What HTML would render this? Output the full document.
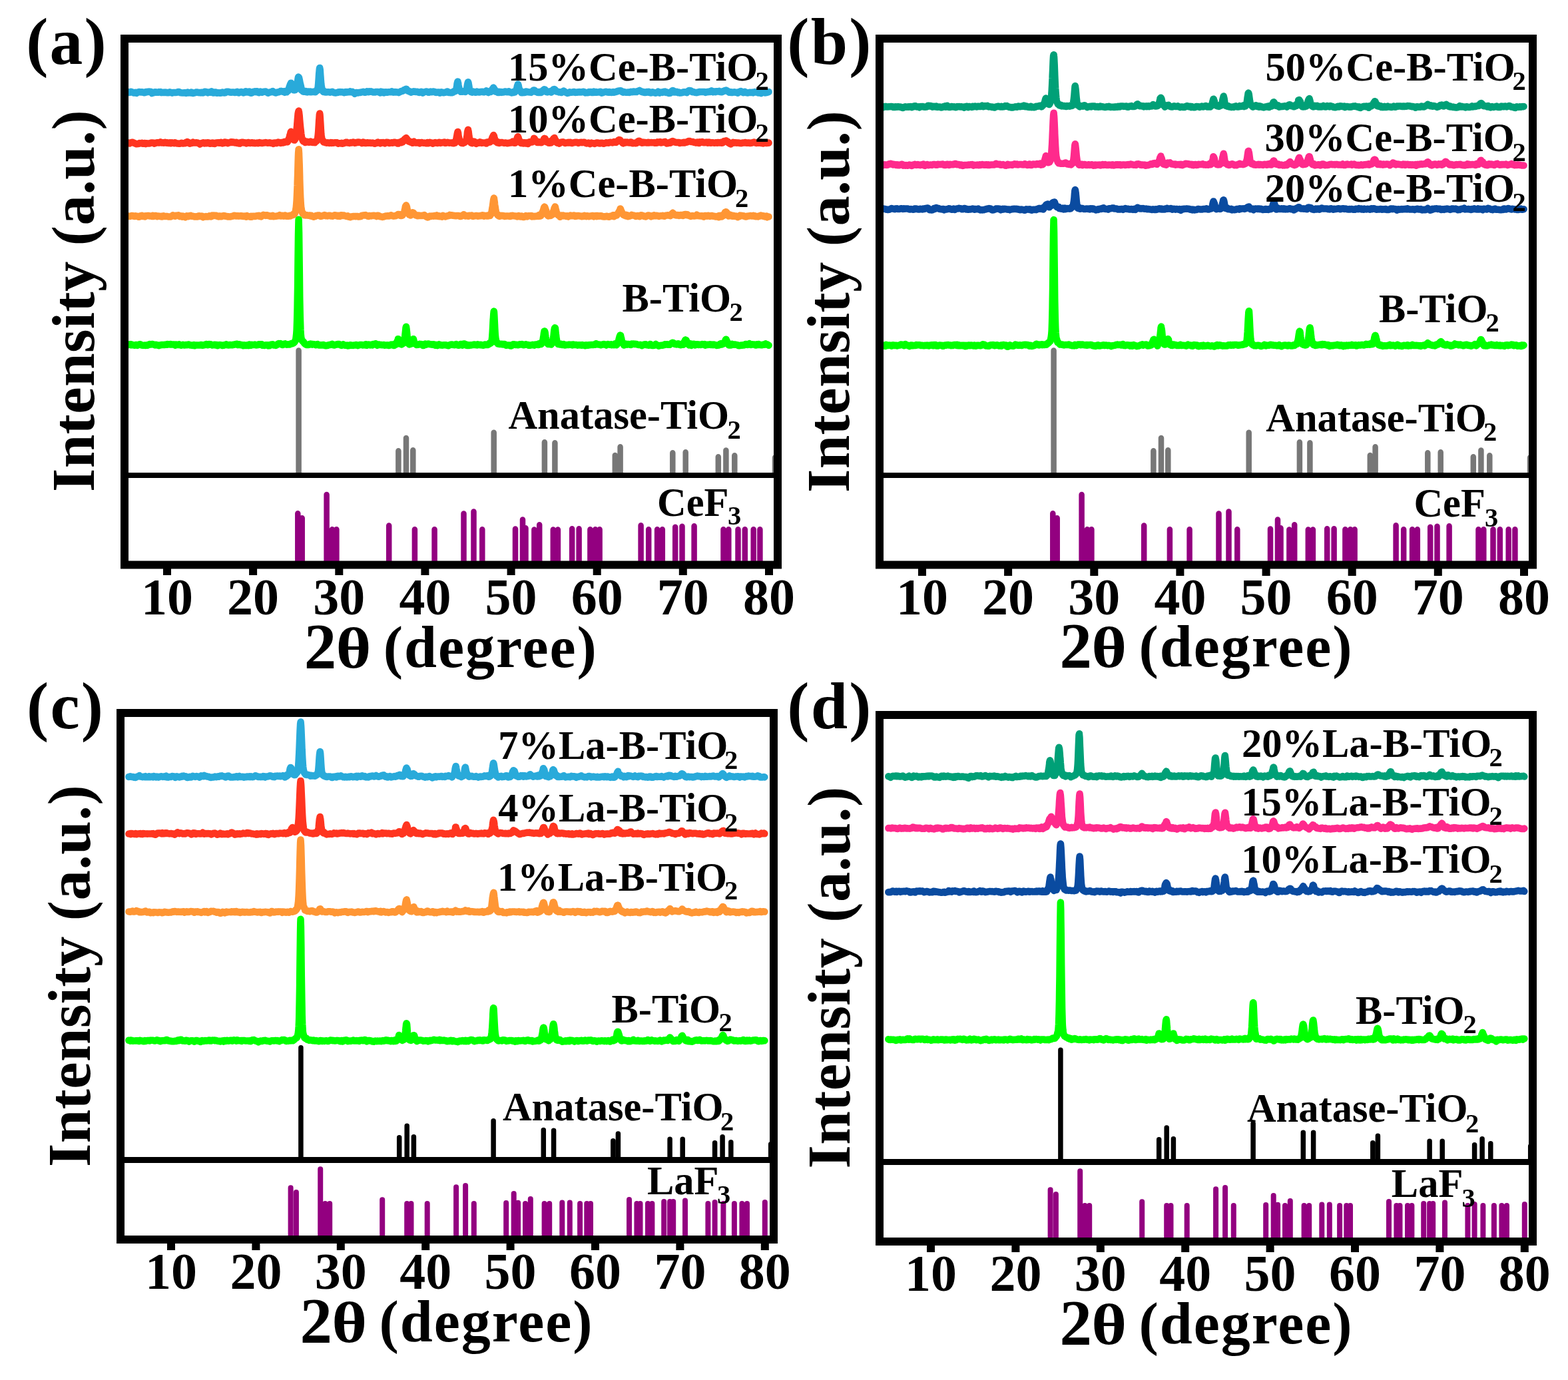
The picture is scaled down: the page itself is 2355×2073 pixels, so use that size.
<!DOCTYPE html>
<html><head><meta charset="utf-8"><title>XRD patterns</title>
<style>html,body{margin:0;padding:0;background:#fff;overflow:hidden}svg{display:block}
text{font-family:"Liberation Serif","Times New Roman",serif;fill:#000}</style></head>
<body><svg width="2355" height="2073" viewBox="0 0 2355 2073">
<rect width="2355" height="2073" fill="#fff"/>

<path d="M186.4 137.9l1.2 0.4l1.1 0.6l1.2 -0.4l1.1 -0.7l1.2 0.3l1.2 0.4l1.1 0.5l1.2 -0.8l1.2 -0.5l1.1 0.7l1.2 0.3l1.1 0.7l1.2 0.1l1.2 -0.4l1.1 -0.4l1.2 1.2l1.2 -0.7l1.1 -0.7l1.2 -0.5l1.1 0.2l1.2 0.2l1.2 -0.1l1.1 0l1.2 0.2l1.2 0.4l1.1 0.4l1.2 -0.2l1.1 -1.1l1.2 0.5l1.2 -0.7l1.1 0.2l1.2 -0.5l1.2 0.4l1.1 -0.2l1.2 0.5l1.1 1.8l1.2 -0.6l1.2 0l1.1 -1l1.2 -0.1l1.2 0.4l1.1 -0.1l1.2 0.1l1.1 0l1.2 -0.6l1.2 0.5l1.1 -0.5l1.2 1.1l1.2 -0.5l1.1 0.3l1.2 -0.2l1.1 0.3l1.2 -0.5l1.2 0.5l1.1 -0.3l1.2 0.5l1.1 -0l1.2 -0.2l1.2 -0.7l1.1 0.5l1.2 0.1l1.2 0.6l1.1 -0.6l1.2 0.1l1.1 -0l1.2 -0.1l1.2 -0.1l1.1 -0.1l1.2 -0.4l1.2 -0.5l1.1 0.1l1.2 0.5l1.1 0.7l1.2 0.2l1.2 0.2l1.1 -0.1l1.2 -0l1.2 -0.3l1.1 0.1l1.2 0.6l1.1 -0.7l1.2 -0.6l1.2 0.9l1.1 -0.3l1.2 0.2l1.2 0.1l1.1 -1l1.2 1.2l1.1 0.4l1.2 -0.5l1.2 -0.1l1.1 -0.3l1.2 -0.7l1.2 -0.1l1.1 0.2l1.2 0.5l1.1 0.1l1.2 -0.2l1.2 0.5l1.1 -0.8l1.2 0.3l1.2 0.4l1.1 -0.5l1.2 -1.1l1.1 -0.1l1.2 0.4l1.2 0.4l1.1 0.8l1.2 -0.8l1.1 -0l1.2 0.3l1.2 -0.2l1.1 -1.2l1.2 0.8l1.2 1.3l1.1 0.1l1.2 -0.9l1.1 -0.3l1.2 0.2l1.2 1.2l1.1 -0.2l1.2 -0.4l1.2 0.5l1.1 -0.5l1.2 0.6l1.1 -0.8l1.2 -0.5l1.2 0.4l1.1 0.5l1.2 -0l1.2 -0.2l1.1 -1.2l1.2 -0.2l1.1 0l1.2 0l1.2 0.6l1.1 -0.1l1.2 0.5l1.2 -0.1l1.1 -0.3l1.2 0.1l1.1 0.2l1.2 0.4l1.2 -0.5l1.1 -0.2l1.2 -0.6l1.2 1.1l1.1 0.5l1.2 -0.4l1.1 -0.5l1.2 -0.6l1.2 0.3l1.1 0.2l1.2 1.1l1.2 -0.3l1.1 -0.6l1.2 -1.3l1.1 1.2l1.2 0.1l1.2 -0.9l1.1 0.4l1.2 -0.6l1.1 2.1l1.2 0.1l1.2 -0.2l1.1 -0.5l1.2 -1.3l1.2 0.3l1.1 -0.6l1.2 0.7l1.1 -0.9l1.2 0.1l1.2 1.1l1.1 0.8l1.2 -0.9l1.2 -0.7l1.1 0.8l1.2 0.4l1.1 -0.6l1.2 -0.2l1.2 -0.2l1.1 -0.3l1.2 0l1.2 1l1.1 0.3l1.2 0.9l1.1 -0.5l1.2 -0.4l1.2 -0.6l1.1 -0l1.2 -0.6l1.2 -0.6l1.1 0.9l1.2 0.9l1.1 0.3l1.2 0.4l1.2 -0.4l1.1 -0.6l1.2 -0.1l1.2 -0.2l1.1 -0.5l1.2 -0.7l1.1 -0.2l1.2 0.5l1.2 0.4l1.1 -0.1l0.9 0.8l0.3 -0.1l0.2 0.2l0.5 0.4l0.5 -0.9l0.1 -1l0.5 0.7l0.5 -0.4l0 0.8l0.5 -0l0.5 0.2l0.2 0l0.3 -1.4l0.6 0.3l0.2 -0.5l0.3 -0.4l0.5 -0.4l0.4 0.1l0.1 0.3l0.5 -0.6l0.5 -2.3l0.1 -0.2l0.5 -2.4l0.5 -1.2l0.1 0.1l0.4 -1.6l0.5 -1.4l0.3 -0.6l0.2 0l0.4 -0.9l0.1 -0.4l0.3 0l0.1 1.4l0.2 0.6l0.2 0.2l0.3 0.7l0.2 0.8l0.3 0.9l0 -0.1l0.3 0.6l0.2 0.3l0.3 0.8l0.2 1.8l0.2 0.5l0.1 0.1l0.2 0.3l0.3 0.6l0.3 0.5l0.2 -0.1l0 0.2l0.3 0.4l0.2 -0.2l0.3 -0.2l0.3 -0.2l0.1 -0.2l0.1 0.9l0.3 -1.2l0.2 0.3l0.3 -0.1l0.2 -0.1l0.1 0.3l0.2 0.5l0.3 -0.5l0.2 -0.6l0.3 -0.8l0.1 -0.3l0.1 0.2l0.3 -1l0.3 -1.5l0.2 -1.3l0.3 -1.3l-0 -0.3l0.2 0l0.3 -1l0.2 -1.5l0.3 -0.7l0.1 -1.4l0.1 -0.2l0.3 -1.3l0.5 -3.6l0.3 -1.6l0.3 -0.8l0.4 0.5l0.1 0.7l0.4 -0.1l0.1 1l0.5 1.9l0.5 2.6l0 -0.1l0.5 2.8l0.6 2l0.1 0.6l0.4 1.5l0.5 2.7l0.3 2.1l0.2 1.8l0.5 0.2l0.4 -0.6l0.1 0.1l0.6 0.2l0.5 1.7l-0 0.1l0.5 -0.4l0.5 0.7l0.1 0.1l0.4 -0.9l0.5 0l0.3 0.2l0.3 0.2l0.5 0.3l0.4 -0.1l0.1 0.2l0.5 -0.2l0.5 -0.3l0 1l1.2 0.2l1.2 0.1l1.1 -1l1.2 0.2l1.1 0.6l1.2 -0.7l1.2 0.7l1.1 -0.3l1.2 0.1l1.2 -0.2l1.1 -0.1l0.7 0.5l0.5 -0.6l0.1 0.7l0.5 -1l0.5 -0.7l0 0.5l0.5 -0.9l0.5 -0.4l0.2 0.5l0.3 0.1l0.6 -2.3l0.3 -0.6l0.2 0.1l0.5 -2.9l0.4 -4.6l0.1 -1.3l0.5 -6.7l0.5 -8.1l0.1 -0.6l0.5 -5.5l0.4 -2l0.1 0.8l0.2 0.4l0.3 2.2l0.5 7.8l0.3 3.9l0.2 2.8l0.5 6.2l0.5 3.7l0.1 0.2l0.5 2.9l0.5 2.9l0 -0.4l0.5 0.6l0.5 1.1l0.2 0.3l0.3 0.4l0.6 0.3l0.3 -1.2l0.2 -0.2l0.5 0.5l0.4 0.5l1.2 0.9l1.1 0.1l1.2 -0.3l1.2 0l1.1 -0.1l1.2 0.2l1.2 0.3l1.1 -0.3l1.2 -0.4l1.1 -0.3l1.2 0.8l1.2 0.6l1.1 0.2l1.2 0.1l1.2 0l1.1 -0.4l1.2 0.1l1.1 -0.8l1.2 -0l1.2 -0.3l1.1 0.5l1.2 -0.3l1.2 0l1.1 0.3l1.2 0.7l1.1 -0.7l1.2 -0.5l1.2 0.6l1.1 -0.6l1.2 0.4l1.2 -0.3l1.1 0.1l1.2 -0.8l1.1 0.8l1.2 -0.1l1.2 -0.3l1.1 1.3l1.2 0.1l1.2 1.5l1.1 -0.7l1.2 -0.8l1.1 -0.2l1.2 0.6l1.2 -0.5l1.1 -0l1.2 0l1.2 -0.7l1.1 0.1l1.2 -0.3l1.1 -0.5l1.2 0.8l1.2 0.3l1.1 -0.1l1.2 -0.5l1.1 -0.9l1.2 0.7l1.2 0.2l1.1 -0.8l1.2 0.4l1.2 -0.5l1.1 0.5l1.2 0.3l1.1 0.4l1.2 0.1l1.2 0l1.1 -0.6l1.2 -0l1.2 -0.1l1.1 0.1l1.2 0.3l1.1 0.4l1.2 0.7l1.2 -1.7l1.1 0.4l1.2 -0.1l1.2 1.3l1.1 0.1l1.2 -1.2l1.1 0.3l1.2 -0.2l1.2 0.5l1.1 -0.6l1.2 0l1.2 0.1l1.1 -0l1.2 -0.2l1.1 -0.8l1.2 0.7l1.2 0.7l1.1 -0.2l1.2 -0.5l1.2 0.3l1.1 0.3l1.2 -0.2l1.1 -0l1.2 0.7l1.2 -0.9l1.1 -0.3l1.2 -0.9l1.2 -0l1.1 -0.3l1.2 -0.7l1.1 -1l1.2 -0l1.2 -1.3l1.1 -0l1.2 2.2l1.1 0.9l1.2 -0.1l1.2 1l1.1 -0.2l1.2 1.2l1.2 -0.8l1.1 -0.1l1.2 -0.5l1.1 0.5l1.2 -0.3l1.2 0.4l1.1 -0l1.2 -0.1l1.2 0.7l1.1 0.5l1.2 -0.2l1.1 -0.6l1.2 -0.4l1.2 0.4l1.1 1.3l1.2 -0.6l1.2 -0.6l1.1 -0.3l1.2 -0.3l1.1 -0.2l1.2 0.3l1.2 1l1.1 -0.1l1.2 -0.4l1.2 -0.7l1.1 0.4l1.2 0.2l1.1 -0.5l1.2 -0.2l1.2 0.3l1.1 0.8l1.2 0.3l1.2 -0.1l1.1 -0.3l1.2 0.1l1.1 -0l1.2 1l1.2 -1l1.1 -0.3l1.2 0.7l1.2 -0.3l1.1 0.6l1.2 -0.4l1.1 -0.1l1.2 -0.4l1.2 -0.7l1.1 -0.2l1.2 1.4l1.1 0.1l1.2 0l1.2 0.2l1.1 -0.1l1.2 0.1l1.1 -0.7l0.1 -0.3l0.4 0.4l0.5 -0.5l0.2 -0.8l0.4 0.1l0.5 -0.2l0.3 0.4l0.2 -0.5l0.5 -0.6l0.4 -0.3l0.1 0.9l0.5 -1l0.6 -1.4l0 -0.2l0.5 -1.9l0.5 -2.5l0.2 -0.7l0.3 -3.4l0.5 -2.1l0.3 -1.1l0.2 -0.4l0 1.2l0.6 1.1l0.4 3.3l0.1 0.4l0.5 2.2l0.5 2.9l0.1 0.4l0.4 1.3l0.5 -0l0.2 0.5l0.4 0.6l0.5 0l0.3 1.5l0.2 -0.2l0.5 -0.1l0.4 -0l0.1 -0.3l0.5 -0.1l0.6 0.3l0 0.4l1.2 -0.2l0.3 0l0.5 -0.6l0.3 0.6l0.2 -0.3l0.6 0.2l0.4 -0.4l0.1 -0.1l0.5 0.2l0.5 -0.7l0.1 1.5l0.4 -0.7l0.5 -1l0.2 -0.8l0.4 0.1l0.5 -1.5l0.3 -1.7l0.2 -2.1l0.5 -3.1l0.4 -1.8l0.1 -0.6l0.5 -1.3l0 -0.3l0.6 1.5l0 0.6l0.5 2.5l0.5 3.1l0.2 2.5l0.3 1.9l0.5 0.5l0.3 0.7l0.2 0.2l0.6 0.5l0.4 0.8l0.1 -0.4l0.5 0l0.5 -0l0.1 0l0.4 0.8l0.5 0.3l0.2 -0.9l0.4 -0.1l0.8 -0.2l1.1 0.7l1.2 0.2l1.2 0.4l1.1 -0.2l1.2 -1l1.2 0.5l1.1 0.2l1.2 0.3l1.1 -0.7l1.2 0.2l1.2 -0.2l1.1 -0.2l1.2 0.5l1.2 0.2l1.1 -0.5l1.2 -0.7l1.1 -0.8l0.5 0.5l0.5 1.1l0.2 0.1l0.4 -1.1l0.5 0.1l0.3 0.6l0.2 1.1l0.5 0.3l0.4 -0.2l0.1 -0.2l0.5 -0.8l0.6 -0.2l-0 -0l0.5 -0.4l0.5 0.2l0.1 -0.1l0.4 0.1l0.5 0.5l0.3 -0.1l0.2 -0.3l0.6 -1l0.4 -1.4l0.1 -0l0.5 -0.4l0.5 -1.4l0 0.8l0.5 -1.1l0.5 -0.5l0.2 -0.3l0.3 -0.7l0.1 1.3l0.5 -0.5l0.3 0.9l0.2 -0l0.5 1l0.4 0.3l0.1 0.1l0.5 1.4l0.6 1.6l-0 -0.9l0.5 0.4l0.5 0.8l0.1 -0.4l0.4 0.5l0.5 -0.4l0.3 0.5l0.2 0.1l0.6 0.6l0.4 -0.1l0.1 -0.9l0.5 0.5l0.5 -0.6l0 0.5l0.5 0.8l0.5 -0l0.2 -0.6l0.4 0.5l0.5 -0.2l0.3 -0.8l1.1 -0l1.2 0.9l1.1 -0.4l1.2 0l1.2 -0.2l1.1 -0.8l1.2 0.1l1.2 0.5l1.1 0.2l1.2 -0l1.1 -1.1l1.2 1.1l1.2 0.4l1.1 0.3l1.2 0.4l1.2 -0.7l0.8 -0.6l0.3 0.2l0.2 0.8l0.5 -1.3l0.5 -0l0.1 -0.3l0.5 0.4l0.5 0.6l0 -0.4l0.5 -0.9l0.5 -0.2l0.2 -0.2l0.3 -1l0.6 -0.2l0.3 -1l0.2 -0.2l0.5 -2.8l0.4 -1.2l0.1 -1.1l0.5 -1.2l0.5 -1.6l0 1l0.1 -0.2l0.5 0.3l0.5 2.4l0.2 1.2l0.3 1.1l0.5 1.8l0.3 1.3l0.2 0.4l0.5 -0.6l0.5 0.9l0.1 0.8l0.5 0.6l0.5 0.8l0 -0.5l0.5 1.4l0.5 -0l0.2 -0.3l0.3 0.2l0.6 0.2l0.3 -0.4l1.1 -0.5l1.2 0.5l1.2 -0l1.1 -1.2l1.2 -0.3l1.1 0.6l1.2 0.2l1.2 0.1l1.1 0.3l1.2 -0.1l1.1 0.4l1.2 -1.1l1.2 -1.1l1.1 -1l1.2 -0.3l1.2 0.9l1.1 1.5l1.2 0.2l1.1 0.8l1.2 0.1l1.2 -0.8l1.1 -0l1.2 1l1.2 -0.1l1.1 -0.9l1.2 -2l1.1 -1l1.2 -0.9l1.2 0.6l1.1 2.4l1.2 1l1.2 0.3l1.1 -0.5l1.2 -0.6l1.1 0.2l1.2 -0.2l1.2 1.3l1.1 -1.5l1.2 -2l1.2 -0.9l1.1 -0.3l1.2 0.7l1.1 2.3l1.2 0.6l1.2 -0.2l1.1 0.6l1.2 0.4l1.2 -0.2l1.1 0.4l1.2 0.4l1.1 -0.7l1.2 -1l1.2 -0.7l1.1 0.7l1.2 1.1l1.2 0.5l1.1 0.5l1.2 0.6l1.1 -0.6l1.2 0.1l1.2 -1.1l1.1 0.3l1.2 0.1l1.1 -0.2l1.2 -0.2l1.2 -0.5l1.1 0.3l1.2 0.7l1.2 -0.3l1.1 0.2l1.2 -0.5l1.1 0.2l1.2 -0.5l1.2 0.4l1.1 -0.1l1.2 0.2l1.2 -0.3l1.1 -0.5l1.2 0.2l1.1 0.7l1.2 0.8l1.2 -0.5l1.1 0.2l1.2 0.1l1.2 -0.1l1.1 -1l1.2 0.3l1.1 -0.4l1.2 0.8l1.2 0.3l1.1 0l1.2 -1.5l1.2 0.7l1.1 0.4l1.2 -0.7l1.1 0.7l1.2 -0.1l1.2 -0.1l1.1 -0.4l1.2 -0.3l1.2 0l1.1 1.8l1.2 -0.3l1.1 -0.2l1.2 -0.6l1.2 -0.3l1.1 -0.2l1.2 -0.2l1.2 0.7l1.1 -0.2l1.2 0.5l1.1 -0.7l1.2 0.6l1.2 -0.1l1.1 0.3l1.2 -0.3l1.1 -0.5l1.2 0.7l1.2 -0.4l1.1 -0.2l1.2 -0.6l1.2 -0.1l1.1 -0.7l1.2 -0.3l1.1 -0.1l1.2 -0.1l1.2 -0l1.1 1.1l1.2 0.9l1.2 0.4l1.1 -0.6l1.2 0.4l1.1 0.2l1.2 0l1.2 0.1l1.1 -0.3l1.2 0.1l1.2 0.4l1.1 -0.5l1.2 -0.7l1.1 0.2l1.2 0.3l1.2 -0.9l1.1 0l1.2 0.7l1.2 -0l1.1 -0l1.2 -1l1.1 -0.2l1.2 -0.4l1.2 -0.6l1.1 0.7l1.2 0.5l1.2 1.1l1.1 0.2l1.2 -0.4l1.1 0.8l1.2 0.3l1.2 0l1.1 -1.1l1.2 0.1l1.2 0.5l1.1 -0.7l1.2 0.7l1.1 0.7l1.2 0.2l1.2 -0.8l1.1 -0.4l1.2 0.5l1.1 0.4l1.2 0.3l1.2 0.2l1.1 -0.5l1.2 -0.5l1.2 -1l1.1 0.7l1.2 1.2l1.1 -0.7l1.2 -0.4l1.2 0.3l1.1 0.1l1.2 -0.9l1.2 -0.2l1.1 -0.3l1.2 1.4l1.1 -0.6l1.2 0.5l1.2 0.8l1.1 0.4l1.2 -0.1l1.2 -0.2l1.1 -1.9l1.2 -1.1l1.1 -0.7l1.2 0.4l1.2 2.2l1.1 -0.8l1.2 0.6l1.2 -0.6l1.1 0.9l1.2 0.6l1.1 -0.6l1.2 0.9l1.2 -0.4l1.1 0.3l1.2 -0.3l1.2 -0.6l1.1 -0.3l1.2 -0l1.1 0.3l1.2 -0.2l1.2 0.8l1.1 -1.1l1.2 -1.3l1.1 -0.8l1.2 0.1l1.2 0.2l1.1 0.5l1.2 1.2l1.2 0.2l1.1 0l1.2 0.3l1.1 0.5l1.2 0.1l1.2 0.1l1.1 -0.5l1.2 -0.2l1.2 -0.4l1.1 0.1l1.2 -0.3l1.1 0.1l1.2 0.1l1.2 0l1.1 0l1.2 -0.1l1.2 0.9l1.1 -0.3l1.2 -0.6l1.1 0.3l1.2 -0.5l1.2 -0.2l1.1 0.4l1.2 -0.6l1.2 -1.2l1.1 1.1l1.2 1l1.1 -0.8l1.2 -0l1.2 0.7l1.1 -0.9l1.2 0l1.2 -0.1l1.1 0.4l1.2 -0.7l1.1 1.1l1.2 0.1l1.2 0.2l1.1 -0.2l1.2 -1.1l1.2 0l1.1 -0.9l1.2 -0.3l1.1 -0.3l1.2 0.7l1.2 0.8l1.1 1.1l1.2 0.6l1.1 -0.6l1.2 0.2l1.2 0.8l1.1 -0l1.2 -0.6l1.2 -0.1l1.1 -0.1l1.2 0.5l1.1 -0.1l1.2 0.1l1.2 1l1.1 -1.2l1.2 -0.6l1.2 -0.6l1.1 -0.4l1.2 1l1.1 0.4l1.2 0.8l1.2 -1.2l1.1 -0.3l1.2 1.1l1.2 0.4l1.1 0.2l1.2 0l1.1 -0.3l1.2 -0.2l1.2 -0.2l1.1 0.4l1.2 -0.3l1.2 0l1.1 0.6l1.2 -0.9l1.1 -0.4l1.2 0.5l1.2 -0.2l1.1 -0l1.2 1.1l1.2 -0.2l1.1 -0.5l1.2 0.4l1.1 1l1.2 -1.2l1.2 -0.6l1.1 0.1l1.2 -0.3l1.2 1.2l1.1 -0.1l1.2 -0.5l1.1 0.1l1.2 -0.5l1.2 -0.3" fill="none" stroke="#29aada" stroke-width="10.5" stroke-linejoin="round" stroke-linecap="round"/>
<path d="M186.4 213.9l1.2 0.4l1.1 -0l1.2 -0.1l1.1 0.6l1.2 -0l1.2 -0.2l1.1 0.9l1.2 -0.6l1.2 -0.7l1.1 -0.5l1.2 0.1l1.1 0.6l1.2 0.5l1.2 0.5l1.1 0.6l1.2 0.3l1.2 -0.3l1.1 0.1l1.2 -0.2l1.1 -0.8l1.2 0.2l1.2 -0.2l1.1 -0.3l1.2 1l1.2 -0.1l1.1 -0.6l1.2 -0.2l1.1 1.1l1.2 -0.7l1.2 0.2l1.1 -0l1.2 -0.1l1.2 0l1.1 -0.5l1.2 -0.3l1.1 -0.1l1.2 -0.1l1.2 0.5l1.1 0.7l1.2 -0.8l1.2 0.2l1.1 -0.6l1.2 -0.2l1.1 0.1l1.2 0.2l1.2 -0.2l1.1 -1.1l1.2 1.3l1.2 -0.1l1.1 -0.2l1.2 0.5l1.1 -0.3l1.2 -0.6l1.2 0.6l1.1 0.3l1.2 -0.4l1.1 0.6l1.2 0.1l1.2 -0.7l1.1 1l1.2 -0.1l1.2 -0.8l1.1 0.4l1.2 -0l1.1 0.4l1.2 -0.9l1.2 0.7l1.1 0.4l1.2 0l1.2 0l1.1 0.4l1.2 -0.1l1.1 -0.3l1.2 -0.7l1.2 0.5l1.1 0.3l1.2 -0.2l1.2 -0.1l1.1 0.1l1.2 -1.5l1.1 0.5l1.2 -1.1l1.2 0.7l1.1 0.9l1.2 0.9l1.2 -0.7l1.1 0.1l1.2 -0.2l1.1 -1.2l1.2 0.8l1.2 0l1.1 0.1l1.2 -0.4l1.2 0.2l1.1 0.1l1.2 0.7l1.1 -0l1.2 1.5l1.2 -1l1.1 -0.5l1.2 -0.3l1.2 -0.5l1.1 0.9l1.2 0.1l1.1 -1l1.2 0.2l1.2 0.6l1.1 -0.9l1.2 0.2l1.1 -0l1.2 1.2l1.2 -0.2l1.1 -0.5l1.2 -0.4l1.2 1l1.1 -0.6l1.2 1l1.1 -1.3l1.2 -0.1l1.2 -0.1l1.1 -0.3l1.2 0.1l1.2 0.5l1.1 -0.4l1.2 -0.6l1.1 1l1.2 0.7l1.2 -0.7l1.1 0.1l1.2 -1.4l1.2 1l1.1 -0.6l1.2 0l1.1 1.4l1.2 -0.9l1.2 0.1l1.1 -0.5l1.2 -0.7l1.2 -0l1.1 0.7l1.2 -0.4l1.1 0.1l1.2 0.8l1.2 -0l1.1 -0.6l1.2 1l1.2 -0l1.1 0.6l1.2 -0.9l1.1 0.9l1.2 -1l1.2 -0.8l1.1 0.1l1.2 0.2l1.2 0.4l1.1 -0.2l1.2 0.5l1.1 0.7l1.2 -0.7l1.2 -0.7l1.1 0.1l1.2 0.6l1.1 0.4l1.2 -0.4l1.2 -0.5l1.1 0.2l1.2 0.6l1.2 -0.5l1.1 0.7l1.2 -0.1l1.1 -0.1l1.2 -0.4l1.2 0.7l1.1 -0.3l1.2 -0.9l1.2 0.6l1.1 -0.2l1.2 0.6l1.1 -0.1l1.2 -0.5l1.2 0.1l1.1 -0.2l1.2 -0.4l1.2 0.3l1.1 0.5l1.2 -0.1l1.1 -0.1l1.2 -0.3l1.2 0.4l1.1 0.1l1.2 0.3l1.2 -0l1.1 0.8l1.2 -1.4l1.1 -0l1.2 0.2l1.2 0.4l1.1 -1.1l1.2 -0.5l1.2 0.3l1.1 0.7l1.2 0.5l1.1 -1.1l1.2 0.1l1.2 0.6l1.1 -0.2l0.9 -0.8l0.3 -0.2l0.2 -0.5l0.5 0.9l0.5 -0.1l0.1 -0.2l0.5 -0.4l0.5 0.1l0 -0.3l0.5 -0.3l0.5 0.2l0.2 0l0.3 0.3l0.6 -0.2l0.2 0.4l0.3 -0.4l0.5 -0.6l0.4 -0.6l0.1 -0.7l0.5 -0.4l0.5 -1.9l0.1 -0.9l0.5 -0.8l0.5 -1.8l0.1 -1.2l0.4 -1.1l0.5 -1.8l0.3 -0.9l0.2 -1.5l0.4 -0.3l0.1 -0.6l0.3 0.2l0.1 0.2l0.2 0.1l0.2 1.3l0.3 0.6l0.2 1.6l0.3 1l0 -0.2l0.3 1.2l0.2 1.3l0.3 1.4l0.2 0.4l0.2 1.2l0.1 0.2l0.2 0.9l0.3 -0.6l0.3 -0.2l0.2 1.2l0 -0.2l0.3 0.4l0.2 0.6l0.3 -0.9l0.3 0.3l0.1 0.8l0.1 -0l0.3 -0.6l0.2 -0.3l0.3 -0.7l0.2 -0.3l0.1 0.4l0.2 -1.2l0.3 -0.7l0.2 -1.2l0.3 -0.9l0.1 -0.7l0.1 -1.5l0.3 -1l0.3 -1.7l0.2 -2.9l0.3 -2.5l-0 -0.8l0.2 -2.1l0.3 -2.5l0.2 -3.3l0.3 -3.3l0.1 -1.9l0.1 -1.2l0.3 -3.2l0.5 -5.7l0.3 -1.5l0.3 -1.5l0.4 -1.2l0.1 0.8l0.4 1.2l0.1 1.3l0.5 4l0.5 6.9l0 -0.3l0.5 5.6l0.6 6.2l0.1 0.9l0.4 3.3l0.5 4.6l0.3 1.7l0.2 1.8l0.5 2.5l0.4 1.5l0.1 0.3l0.6 1.5l0.5 0.7l-0 0.4l0.5 0.8l0.5 -0.9l0.1 -0.6l0.4 1.5l0.5 -0l0.3 0.3l0.3 0l0.5 0.3l0.4 1.2l0.1 -0.8l0.5 0.1l0.5 -0l0 -0.6l1.2 -0.1l1.2 0.3l1.1 0.4l1.2 0.4l1.1 -1l1.2 -0.3l1.2 1.3l1.1 -0.1l1.2 0.4l1.2 -0.4l1.1 -0.6l0.7 1.1l0.5 -1.1l0.1 -0.5l0.5 0.4l0.5 -0.3l0 -0.8l0.5 0l0.5 0.1l0.2 -1.1l0.3 -0.5l0.6 -0.6l0.3 -0.3l0.2 -2.6l0.5 -3.9l0.4 -4.6l0.1 -1.3l0.5 -8.1l0.5 -9l0.1 -0.3l0.5 -7.3l0.4 -1.9l0.1 0.5l0.2 1.1l0.3 4.1l0.5 7.8l0.3 5.3l0.2 3.8l0.5 7.8l0.5 4.6l0.1 -0l0.5 2.9l0.5 1.3l0 0.2l0.5 0.7l0.5 0.8l0.2 0.3l0.3 0.9l0.6 0.8l0.3 -0.1l0.2 -0.6l0.5 0.4l0.4 0.4l1.2 0.7l1.1 0.1l1.2 0.4l1.2 -0.5l1.1 0.4l1.2 0.3l1.2 -0.4l1.1 -0.4l1.2 0.8l1.1 -0.7l1.2 0.5l1.2 -0.2l1.1 -0.2l1.2 -0l1.2 -0.1l1.1 0.1l1.2 1l1.1 0.4l1.2 -0.5l1.2 -0l1.1 0.2l1.2 -0.5l1.2 0.8l1.1 -0.5l1.2 0.1l1.1 -0.8l1.2 -0.5l1.2 -0.3l1.1 0.1l1.2 0.8l1.2 -0.1l1.1 0.5l1.2 -0.4l1.1 -0.5l1.2 0.3l1.2 -0.1l1.1 -0.7l1.2 0.4l1.2 0.9l1.1 -0.2l1.2 -0.7l1.1 -0.1l1.2 -0.3l1.2 0.3l1.1 -0.2l1.2 0.3l1.2 0.3l1.1 0.8l1.2 -0.8l1.1 -0.9l1.2 1.3l1.2 0.2l1.1 -0.3l1.2 0.3l1.1 -0.6l1.2 -0l1.2 0.5l1.1 -0.3l1.2 0.1l1.2 0.3l1.1 -0.1l1.2 -0.2l1.1 0.3l1.2 0.5l1.2 0.4l1.1 -0.9l1.2 0.2l1.2 -1.1l1.1 -0.5l1.2 0.7l1.1 0.4l1.2 0.7l1.2 -1.2l1.1 0.6l1.2 -0.5l1.2 -0.2l1.1 0.5l1.2 0.8l1.1 -0.7l1.2 -0.9l1.2 0.1l1.1 0.2l1.2 0.9l1.2 0l1.1 -0.3l1.2 -0.2l1.1 -0.2l1.2 0.6l1.2 -0.9l1.1 -0.1l1.2 -0.1l1.2 0.9l1.1 -0l1.2 -0.4l1 0.5l0.1 0.9l0.4 0l0.5 -1.1l0.3 -0.2l0.3 0.6l0.5 -1.1l0.4 -0.4l0.1 0.2l0.5 0.5l0.5 -0.3l0.5 0.2l0.6 -0l0.1 0.2l0.4 -0.7l0.5 -1l0.3 -0.5l0.2 0.8l0.5 0.7l0.4 0.1l0.1 -0.9l0.6 -1l0.5 -0.1l0.5 -0.6l0.5 -1.3l0.1 0.1l0.4 -0.5l0.5 -0.5l0.3 0l0.3 -0.2l0.5 -0.6l0.4 -0.2l0.1 -0.3l0.4 -0.3l0.1 -0.1l0.5 1l0.5 0.3l0.6 1.2l0.1 0.8l0.4 1.1l0.5 -0.8l0.2 0.5l0.3 0.9l0.5 0.2l0.4 0.1l0.1 -0.5l0.6 0.4l0.5 0.7l0.5 -0.5l0.5 0.7l0.1 -0.1l0.4 0.4l0.5 -0.2l0.3 0.4l0.3 0.3l0.5 -0.2l0.4 -0.1l0.1 0.7l0.5 0.3l0.5 -0.5l0.5 0.3l0.6 -0.6l0.1 -0.1l0.4 -1.2l0.5 0.5l0.2 0.9l1.2 -0.1l1.2 0.6l1.1 -0.3l1.2 0.3l1.2 -0.1l1.1 -0.4l1.2 1.3l1.1 -0.7l1.2 -0.7l1.2 0.3l1.1 0.4l1.2 0.2l1.2 -0.2l1.1 0.3l1.2 0.3l1.1 0.1l1.2 -1l1.2 1l1.1 -0.3l1.2 -1.2l1.2 0.7l1.1 -0l1.2 0.2l1.1 0.9l1.2 -0.7l1.2 -0.4l1.1 -0.5l1.2 0.3l1.2 0.5l1.1 0.1l1.2 -0.1l1.1 -1.1l1.2 0.5l1.2 0.7l1.1 -0.4l1.2 -0.2l1.2 -0.4l1.1 0.4l1.2 -0.7l1.1 1.3l1.2 -0.2l1.2 -0.4l1.1 -0.5l1.2 0.5l1.1 0.5l1.2 -0.4l1.2 0.1l1.1 0l1.2 0.4l1.1 -0.1l0.1 0.4l0.4 -1.2l0.5 1.3l0.2 -0.8l0.4 -0.8l0.5 -0.5l0.3 0.3l0.2 0.4l0.5 0.8l0.4 -0.3l0.1 -1.1l0.5 -1.2l0.6 -1.7l0 -0.4l0.5 -1.9l0.5 -3.1l0.2 -0.4l0.3 -2.1l0.5 -2.7l0.3 -1.1l0.2 -0.8l0 0.4l0.6 1.5l0.4 3.7l0.1 0.8l0.5 2.2l0.5 2.2l0.1 0.1l0.4 1.8l0.5 1.9l0.2 0.1l0.4 0.6l0.5 0.1l0.3 0l0.2 0.8l0.5 -0.1l0.4 0.9l0.1 -0.5l0.5 0l0.6 0l0 0.1l1.2 0.7l0.3 -0.9l0.5 -0.5l0.3 -0.5l0.2 1.1l0.6 -0.1l0.4 -0.2l0.1 0l0.5 -1.4l0.5 0.3l0.1 0l0.4 -0.4l0.5 -1l0.2 -0.6l0.4 -1.2l0.5 -2.9l0.3 -2l0.2 -1l0.5 -5.1l0.4 -2.2l0.1 -0l0.5 -1.8l0 0.5l0.6 2.1l0 -0l0.5 4.3l0.5 3.7l0.2 1l0.3 1.2l0.5 3.6l0.3 0.7l0.2 0.5l0.6 0.5l0.4 1.4l0.1 -0.5l0.5 0.9l0.5 0.2l0.1 0l0.4 -0l0.5 0.3l0.2 -0.5l0.4 -1.3l0.8 -1l1.1 1.4l1.2 -0.8l1.2 1.2l1.1 1.7l1.2 -1.5l1.2 0.3l1.1 0.1l1.2 -0.5l1.1 -0.9l1.2 0.4l1.2 1.1l1.1 -0.2l1.2 -0.1l1.2 -0.1l1.1 -0l1.2 0.1l1.1 1l0.5 -1l0.5 -1l0.2 0.7l0.4 -0.3l0.5 -0.2l0.3 -0.6l0.2 0.3l0.5 0l0.4 0.4l0.1 -0.1l0.5 -0.7l0.6 0.4l-0 0.1l0.5 -1l0.5 -0l0.1 0.6l0.4 -0.3l0.5 -0.6l0.3 -0l0.2 -0.8l0.6 -1.3l0.4 -0.6l0.1 -0.3l0.5 -1.8l0.5 -1.4l0 0.1l0.5 -1l0.5 -0.8l0.2 -0.5l0.3 -0.3l0.1 -0.6l0.5 0.9l0.3 0.5l0.2 1.1l0.5 1.9l0.4 1.4l0.1 0.1l0.5 1.4l0.6 1.8l-0 0.5l0.5 0l0.5 -0.9l0.1 0.9l0.4 -0.4l0.5 0.8l0.3 0.5l0.2 0.9l0.6 -0.2l0.4 -0.1l0.1 -0.3l0.5 0.3l0.5 -0.5l0 0.5l0.5 0.2l0.5 0.7l0.2 -0.5l0.4 0.1l0.5 0l0.3 -0.1l1.1 -0.5l1.2 -0.1l1.1 0.3l1.2 0.3l1.2 0.5l1.1 -0.5l1.2 0.1l1.2 0.3l1.1 0.3l1.2 -0.2l1.1 -0.1l1.2 -0.3l1.2 -0.1l1.1 -0.1l1.2 -0.9l1 -0l0.2 -0.9l0.3 1l0.5 0.7l0.3 -0.2l0.2 0.1l0.5 0.1l0.5 -0.2l0.1 0.7l0.5 -0.4l0.5 -0.1l0 -0.2l0.5 0.7l0.5 -1.6l0.2 -0l0.3 -1.1l0.6 -1l0.3 -0.8l0.2 0.2l0.5 -1.9l0.4 -1.6l0.1 0l0.5 -1.4l0.5 -0.5l0 1.2l0.1 -0.4l0.5 0.4l0.5 2.2l0.2 0.5l0.3 1.4l0.5 0.3l0.3 0.7l0.2 0.8l0.5 0.9l0.5 0.6l0.1 0.6l0.5 0.2l0.5 0.5l0 -0l0.5 -0.7l0.5 0.1l0.2 0.6l0.3 -0.8l0.6 0.3l0.3 0.3l0.2 0.5l0.5 -1.2l0.4 1.3l1.2 -1.2l1.2 0.1l1.1 1.3l1.2 -1.1l1.1 1l0.3 -0.3l0.5 0.6l0.4 0.2l0.1 -0.6l0.5 -0.8l0.5 -0.3l0.1 -0.6l0.5 -0.5l0.5 0.6l0.1 -0.6l0.4 0.6l0.5 0.1l0.3 -0l0.2 -0.5l0.5 -0.5l0.4 0.6l0.2 -0.4l0.5 -0.4l0.5 -0.2l0 0.5l0.5 0.4l0.5 -0.1l0.2 -0.5l0.3 -0.8l0.6 -1.1l0.2 -1l0.3 -0.6l0.5 -1.6l0.4 0.4l0.1 -0.1l0.5 0.6l0.5 1.9l0.1 0l0.5 1l0.5 0.8l0.1 -0.5l0.4 0.1l0.5 -0.1l0.3 0.3l0.2 0.6l0.5 0.9l0.4 0.4l0.2 -0.3l0.5 -0.4l0.5 0.4l0 0.2l0.5 -0.9l0.5 0.5l0.2 -0.5l0.3 0.2l0.5 0.3l0.3 -0.3l0.3 0.1l0.5 0.3l0.4 -0.4l0.1 0.7l0.5 0.3l0.5 0l0.1 -0.7l0.4 -0.2l0.6 -0.3l0.1 0.1l0.4 0.1l0.5 -1l0.3 -0.3l0.2 0.1l0.5 -1.1l0.4 -0.4l0.1 -0.4l0.6 -1.6l0.5 -0.4l0 0.2l0.4 -0.3l0.1 1.1l0.5 -0.2l0.2 -0.6l0.3 0.7l0.5 0.9l0.3 0.9l0.3 1.6l0.5 0.4l0.4 0.6l0.1 -0.7l0.5 -0l0.3 -0l0.2 0.3l0.1 -0.1l0.2 0.3l0.2 -0.1l0.3 -0.3l0.3 0.1l0.1 0.8l0.1 -0.5l0.3 0.7l0.2 0.8l0.3 -0.7l0.3 0.4l-0 0.3l0.2 -1.6l0.3 0.8l0.2 0.3l0.3 -0.5l0.1 1l0.1 -1.2l0.3 0.8l0.3 -0l0.2 -0.7l0.3 0.1l0 -0.7l0.2 0.5l0.3 0.3l0.3 0.4l0.2 0.3l0.2 -0.9l0.1 0.1l0.5 -0.9l0.5 -2l0 1l0.5 0.1l0.5 -0.9l0.2 0.4l0.4 -1.1l0.5 -1.9l0.3 -0.4l0.2 -0.2l0.4 0.2l0.1 -0.2l0.4 -0.7l0.1 -0l0.5 1.2l0.6 1.9l-0 -0.3l0.5 0.3l0.5 1l0.1 0.9l0.4 1.1l0.5 -0.2l0.3 0.6l0.2 0.7l0.6 0.4l0.4 -0.8l0.1 0.4l0.5 -0.3l0.5 -0.1l0 1.1l0.5 -0.3l0.5 0.1l0.2 0.4l0.4 0.5l0.5 -0.4l0.3 -0.7l0.2 -0.1l0.5 -0.3l0.4 0l0.1 0l1.1 -0.6l1.1 -0l1.2 -0.3l1.2 0.4l1.1 0.8l1.2 0.4l1.2 -0.1l1.1 -0.5l1.2 0.1l1.1 -0.6l1.2 0.6l1.2 -0.7l1.1 0l1.2 1.2l1.1 0.1l1.2 -0.6l1.2 -0.1l1.1 -0.4l1.2 -0.1l1.2 0.1l1.1 -0.1l1.2 0.4l1.1 0.7l1.2 -0.5l1.2 -0.4l1.1 -0.2l1.2 0l1.2 0.4l1.1 -0.2l1.2 -0.2l1.1 0l1.2 0.8l1.2 0.5l1.1 0.3l1.2 -0.2l1.2 -0.7l1.1 0.7l1.2 0.9l1.1 -0.9l1.2 -0.6l1.2 0.6l1.1 0.1l1.2 -0.1l1.2 0.8l1.1 -0.6l1.2 -0.7l1.1 -0.2l1.2 0.1l1.2 0.1l1.1 0.6l1.2 0.1l1.2 -0.7l1.1 0.3l1.2 -0.2l1.1 0.7l1.2 0.2l1.2 -0.8l1.1 0.2l1.2 -0.9l1.2 0.4l1.1 0l1.2 0.2l1.1 -0.7l1.2 -0.3l1.2 0l1.1 0.2l1.2 0.5l1.1 -0.5l1.2 -0.9l1.2 0.1l1.1 0.6l1.2 0.1l1.2 -1.6l1.1 -0.7l1.2 -1.4l1.1 -0.3l1.2 0.6l1.2 1.8l1.1 0.6l1.2 1.8l1.2 0.6l1.1 -0.9l1.2 -0.7l1.1 0.8l1.2 -0.8l1.2 -0.1l1.1 0.6l1.2 0.1l1.2 0.2l1.1 -1.1l1.2 0.1l1.1 0.7l1.2 1.1l1.2 -0.1l1.1 -0.2l1.2 -0.2l1.2 0.4l1.1 -0.1l1.2 -1l1.1 -1.7l1.2 -0.6l1.2 -0l1.1 2l1.2 0.1l1.2 0.8l1.1 -1.1l1.2 0.8l1.1 -0.6l1.2 0.3l1.2 0.1l1.1 0.2l1.2 0.1l1.2 -0.6l1.1 0.6l1.2 -0.4l1.1 0.2l1.2 -0.3l1.2 0.2l1.1 0.1l1.2 0l1.1 -0.3l1.2 0.8l1.2 -0.1l1.1 -0l1.2 -1.2l1.2 0.7l1.1 -0.6l1.2 0.3l1.1 -0.8l1.2 1.5l1.2 -0.9l1.1 0.2l1.2 -0.4l1.2 -0.2l1.1 -0.4l1.2 1.4l1.1 1.1l1.2 -0.4l1.2 0.2l1.1 -0.6l1.2 -0.8l1.2 0.8l1.1 -0.6l1.2 -1.6l1.1 -0.3l1.2 0.5l1.2 0.7l1.1 0.5l1.2 0l1.2 0.3l1.1 -0.1l1.2 0.1l1.1 -0.2l1.2 1l1.2 -0.4l1.1 -0.1l1.2 0.2l1.2 -0.1l1.1 -0.7l1.2 0.7l1.1 -0.7l1.2 -0.2l1.2 0.1l1.1 -0.5l1.2 -1.1l1.1 -0.2l1.2 0.1l1.2 0.7l1.1 0.3l1.2 0l1.2 0.1l1.1 0.6l1.2 0.1l1.1 0.2l1.2 0.6l1.2 -0.2l1.1 -0.9l1.2 0.4l1.2 1.2l1.1 -1.7l1.2 0.3l1.1 -0.2l1.2 -0.4l1.2 1l1.1 0.1l1.2 0.1l1.2 -0.5l1.1 0l1.2 -0.3l1.1 1.2l1.2 -0.1l1.2 -1l1.1 0.2l1.2 1l1.2 -0.5l1.1 -0.1l1.2 0.1l1.1 0.3l1.2 0.2l1.2 -0.4l1.1 -0.2l1.2 0.5l1.2 -0.6l1.1 -0l1.2 0.3l1.1 -0.1l1.2 -0.5l1.2 1l1.1 -0.2l1.2 -0.5l1.2 -2l1.1 0.2l1.2 -0.4l1.1 -0.5l1.2 0.7l1.2 0.6l1.1 1.9l1.2 0.5l1.1 0.9l1.2 0.5l1.2 -1.7l1.1 0.2l1.2 -1.2l1.2 0.5l1.1 0.1l1.2 -0.2l1.1 0.4l1.2 0.1l1.2 -0.3l1.1 -0l1.2 0.5l1.2 0.1l1.1 0.2l1.2 -0.1l1.1 -0.4l1.2 -0.3l1.2 0.2l1.1 -0.4l1.2 -0.2l1.2 0.7l1.1 0l1.2 -0.1l1.1 0.1l1.2 -0.3l1.2 0.7l1.1 -0.3l1.2 -0.1l1.2 -0.6l1.1 -0.2l1.2 -0.4l1.1 0.7l1.2 0.4l1.2 0.3l1.1 -0.3l1.2 0l1.2 0.2l1.1 -0.3l1.2 -0.8l1.1 1.3l1.2 0.1l1.2 0.2l1.1 0.1l1.2 -0.7l1.2 -0l1.1 -0.3l1.2 0.6l1.1 -0.1l1.2 -0.5l1.2 0.3" fill="none" stroke="#ff3520" stroke-width="10.5" stroke-linejoin="round" stroke-linecap="round"/>
<path d="M186.4 324.5l1.2 0.8l1.1 -0.7l1.2 -0.9l1.1 0.5l1.2 0.5l1.2 0.1l1.1 0.2l1.2 -0.2l1.2 -0.4l1.1 -0.3l1.2 0.1l1.1 0l1.2 0.7l1.2 0.2l1.1 -0.8l1.2 0.5l1.2 -0.1l1.1 0.6l1.2 0.5l1.1 -0.2l1.2 -1.3l1.2 0.5l1.1 -0.8l1.2 1l1.2 -0.4l1.1 -0.1l1.2 1l1.1 -1.2l1.2 0.2l1.2 -0.5l1.1 0l1.2 -0.1l1.2 0.6l1.1 -0.1l1.2 0.3l1.1 0.3l1.2 -1l1.2 1l1.1 -0.3l1.2 -0.8l1.2 -0l1.1 0.7l1.2 0.6l1.1 -0.6l1.2 0.1l1.2 0.1l1.1 0.5l1.2 -0.3l1.2 0.4l1.1 -0.8l1.2 -0.3l1.1 0.5l1.2 0.3l1.2 -0.2l1.1 0.2l1.2 -0l1.1 0.2l1.2 0.3l1.2 -0.1l1.1 0.1l1.2 -0.6l1.2 -0.4l1.1 -1.2l1.2 0.7l1.1 0.3l1.2 0.4l1.2 -1l1.1 0.1l1.2 0l1.2 -0.6l1.1 1l1.2 0.8l1.1 -0.8l1.2 0.4l1.2 0.9l1.1 -1l1.2 0.5l1.2 0.7l1.1 0.5l1.2 -1.4l1.1 -0.6l1.2 0.3l1.2 0.6l1.1 -0.8l1.2 -0.3l1.2 -0.3l1.1 0.9l1.2 -0.3l1.1 0.4l1.2 0.3l1.2 0.4l1.1 -0.1l1.2 -0.1l1.2 0.3l1.1 -0.1l1.2 -1l1.1 -0.2l1.2 0.6l1.2 0l1.1 -0.3l1.2 0.2l1.2 1.6l1.1 -0.7l1.2 -0.2l1.1 -0.1l1.2 -0.4l1.2 0.5l1.1 0.1l1.2 -0.2l1.1 -1l1.2 0.8l1.2 0.2l1.1 -0.3l1.2 -1.6l1.2 0.5l1.1 -0.4l1.2 0.3l1.1 0.1l1.2 -0.2l1.2 0.9l1.1 0l1.2 0.7l1.2 -0.8l1.1 -0.1l1.2 0.8l1.1 -0.1l1.2 -0.6l1.2 -0.4l1.1 -0.1l1.2 0.2l1.2 0.5l1.1 0l1.2 0.3l1.1 0.3l1.2 -0.2l1.2 0.4l1.1 0l1.2 -0.5l1.2 -0.2l1.1 -0.1l1.2 -0.4l1.1 -0.6l1.2 0.4l1.2 -0.1l1.1 0.5l1.2 -0.3l1.2 0.2l1.1 0.2l1.2 -0.3l1.1 0.2l1.2 -0.3l1.2 -0.1l1.1 0.6l1.2 0.1l1.2 -0.1l1.1 -0.4l1.2 0.4l1.1 1l1.2 -1.6l1.2 0.7l1.1 0l1.2 0.5l1.1 0.3l1.2 -0.9l1.2 0.8l1.1 -0.7l1.2 -0.2l1.2 0.3l1.1 -0.2l1.2 0.1l1.1 -0.4l1.2 -0.5l1.2 0.3l1.1 -0.4l1.2 1l1.2 -0l1.1 0.6l1.2 -1l1.1 -1l1.2 -0.7l1.2 0.5l1.1 -0.1l1.2 0.7l1.2 -0.5l1.1 -0.2l1.2 0.7l1.1 0.1l1.2 0.6l1.2 0.4l1.1 -0l1.2 -0.8l1.2 -0.3l1.1 1.4l1.2 -0.4l1.1 -0l1.2 -0.1l1.2 -0.1l1.1 -0.2l1.2 -0.3l1.2 -0.2l1.1 -0.8l1.2 1.3l1.1 -0.1l1.2 -0.7l1.2 0.5l1.1 0.4l1.2 -0.9l1.2 -0.1l1.1 1l1.2 0.1l1.1 -0.1l1.2 0.2l1.2 -0.5l1.1 -0.5l1.2 0.6l1.1 -0.7l1.2 -0.5l1.2 -0.2l0.6 -0.5l0.5 -1.1l0 1.2l0.5 -0.7l0.5 0.3l0.2 -0.4l0.3 -1.3l0.5 -0l0.4 -1.1l0.2 -1.1l0.5 -1.6l0.4 -3.3l0.1 0.2l0.5 -4.5l0.5 -6.8l0.1 -1.1l0.4 -8.7l0.6 -13.8l0.1 -5.2l0.4 -10.9l0.5 -18.4l0.3 -9.8l0.2 -4.9l0.5 -5.2l0 -0.1l0.5 6.6l0 1.4l0.6 15.2l0.5 18.5l0 2.3l0.5 15.5l0.5 12.3l0.2 3.2l0.3 5.8l0.5 6l0.4 2.7l0.2 1.1l0.5 2.5l0.4 1.1l0.1 0.8l0.5 1l0.5 0.9l0.1 -0.4l0.4 -0.2l0.6 0.7l0.1 0.3l0.4 0.9l0.8 0.8l1.2 0.2l1.1 0.1l1.2 -0.3l1.2 0.3l1.1 0.3l1.2 -0.1l1.1 -0.3l1.2 1l1.2 -0.5l1.1 1l1.2 0.4l1.2 0.4l1.1 -0.9l1.2 0.1l1.1 -0.9l1.2 0l1.2 -0.6l1.1 0.1l1.2 0.1l1.2 0.9l1.1 0.5l1.2 -0.4l1.1 -0.1l1.2 -0.5l1.2 -0.4l1.1 -0.5l1.2 0.5l1.1 0.7l1.2 -0.3l1.2 0.4l1.1 -0.5l1.2 -0.2l1.2 0.1l1.1 0.7l1.2 -0.2l1.1 0.5l1.2 -0.3l1.2 -0.5l1.1 -0.8l1.2 0.3l1.2 -0l1.1 0.9l1.2 0.3l1.1 -0.9l1.2 0.8l1.2 0.3l1.1 -1.6l1.2 -0l1.2 0.6l1.1 -0.5l1.2 0.1l1.1 0.7l1.2 0.3l1.2 0.3l1.1 0.2l1.2 -0.6l1.2 1.3l1.1 -0.2l1.2 0.7l1.1 -0.7l1.2 -0.1l1.2 -0.1l1.1 -0.4l1.2 0.1l1.2 -0l1.1 0.2l1.2 -0.1l1.1 -0.1l1.2 0.1l1.2 0.5l1.1 -0.3l1.2 0l1.2 -0.2l1.1 -1.2l1.2 -0.2l1.1 -0.1l1.2 -0.3l1.2 0.2l1.1 -0.4l1.2 0.7l1.1 0.1l1.2 0.9l1.2 0.1l1.1 -0.8l1.2 0.1l1.2 0.2l1.1 -0.3l1.2 0l1.1 -0.3l1.2 -0.1l1.2 0.5l1.1 0l1.2 0.8l1.2 -1.2l1.1 -0.1l1.2 0.2l1.1 1l1.2 0.4l1.2 0.1l1.1 0.2l1.2 0.4l1.2 -0.3l1.1 -0.5l1.2 -0.2l1.1 -0.5l1.2 -0.1l1.2 0.2l1.1 -0.3l1.2 0.2l1.2 -0.2l1.1 -0.6l1.2 -0.4l1.1 0.8l1.2 0.1l1.2 0.5l1.1 -0.2l1.2 -0.2l1.2 -0l1.1 -0.8l1.2 -0.4l1.1 -1.1l1.2 -0.1l1.2 0.5l0.6 0.3l0.5 0.5l0 0.7l0.5 -0.1l0.5 -0l0.2 0.2l0.3 -0.1l0.6 -0.2l0.3 -0.6l0.2 0.7l0.5 -0.3l0.4 -0.5l0.1 -0l0.5 -1l0.5 -1.1l0.1 -0.5l0.5 0l0.5 -1.6l0.1 -0l0.4 -1.6l0.5 -2.8l0.3 -1.1l0.2 -1l0.5 -2.5l0.5 -0.3l0.1 -0.3l0.4 -0.9l0.1 0.5l0.5 0.7l0 0.7l0.5 1l0.5 3.3l0.2 0.2l0.3 1.4l0.6 2.4l0.2 0.6l0.3 0l0.5 1.5l0.4 0.8l0.1 -0.4l0.5 1.5l0.5 -0l0.1 -0.1l0.5 0.3l0.5 0.2l0.1 0.6l0.4 -1.2l0.5 0.1l0.3 0.4l0.2 -0.2l0.5 -0.7l0.5 -1.2l0.1 0.2l1 -1.7l1.2 0.7l1.1 1.5l1.2 1.4l1.2 0.7l1.1 -0.3l1.2 1l1.2 -0l1.1 -0.6l1.2 0.2l1.1 0.3l1.2 -0l1.2 -0.4l1.1 0.2l1.2 -0.5l1.2 -0.4l1.1 1.2l1.2 1l1.1 0.6l1.2 0.6l1.2 -0.1l1.1 -1.2l1.2 -0.5l1.2 0.5l1.1 -0.5l1.2 -0.2l1.1 0l1.2 0.3l1.2 -0.8l1.1 0.3l1.2 0.4l1.2 -1.1l1.1 1l1.2 0.4l1.1 -0.6l1.2 1l1.2 -0.1l1.1 -0l1.2 0.5l1.2 -1.8l1.1 0.3l1.2 0.6l1.1 0.6l1.2 -0.4l1.2 -0.3l1.1 -0.4l1.2 -0.1l1.1 -0.3l1.2 -1l1.2 0.4l1.1 -0l1.2 0.2l1.2 0.2l1.1 0.1l1.2 0.3l1.1 0.1l1.2 -0l1.2 -0.2l1.1 0.1l1.2 0l1.2 0.1l1.1 0.8l1.2 -0.1l1.1 -0.3l1.2 -1.1l1.2 -0.3l1.1 -1l1.2 1.4l1.2 0.9l1.1 -0.2l1.2 -0.2l1.1 0.4l1.2 0.3l1.2 -1l1.1 0.1l1.2 0.1l1.2 -0.4l1.1 1l1.2 0.3l1.1 -0.5l1.2 0l1.2 -0.2l1.1 -0.2l1.2 -0l1.2 0.7l1.1 -0.1l1.2 -0.3l1.1 -0.3l1.2 0.3l1.2 -0.4l1.1 -0.7l1.2 0.4l1.2 1l1.1 -0.5l1.2 0.1l1.1 -0.2l1.2 0.6l1 -0.1l0.2 -0.9l0.3 0.9l0.5 -0.3l0.3 -0.7l0.2 -0.2l0.6 0l0.4 0.5l0.1 -0.3l0.5 -0.6l0.5 0.5l0 0.5l0.5 -1l0.5 -0.7l0.2 -0.2l0.4 -1l0.5 -2l0.3 -0.4l0.2 -1.6l0.5 -3.6l0.4 -2.2l0.1 0.1l0.5 -3.8l0.6 -4.6l-0 -0.4l0.5 -3.2l0.4 -0.9l0.1 -0.9l0.2 0.5l0.3 2.6l0.5 3l0.3 3.4l0.2 1.7l0.6 2.8l0.4 3.6l0.1 0l0.5 3.1l0.5 1.7l0 -0l0.5 1.1l0.5 0.3l0.2 0.1l0.4 0.5l0.5 1.5l0.3 -0.3l0.2 0.3l0.5 0.3l0.4 0.7l0.1 -0.5l0.5 0.1l0.6 -0.5l-0 1.4l0.5 -1.1l0.7 0.2l1.1 -0.1l1.2 0.3l1.1 -0.2l1.2 -0.1l1.2 0.7l1.1 0.4l1.2 -0.3l1.2 -0.2l1.1 0.1l1.2 -0.1l1.1 0.2l1.2 0.3l1.2 -0l1.1 -1l1.2 0.2l1.2 -0.5l1.1 0.6l1.2 -0.1l1.1 0.3l1.2 -0.1l1.2 0.5l1.1 0.5l1.2 -0.3l1.2 -1l1.1 0.2l1.2 1.1l1.1 -0.7l1.2 -0.2l1.2 1.2l1.1 0.4l1.2 -0.3l1.2 -0.4l1.1 -1.1l1.2 0.9l1.1 0.2l1.2 -1.2l1.2 0l1.1 0l1.2 0.1l1.1 -0.3l1.2 1.4l1.2 -0.8l1.1 0.6l1.2 -0l1.2 -0.4l1.1 0l1.2 0.1l1.1 -0.7l0.7 -0.2l0.5 0.6l0 0.3l0.5 -0.2l0.5 -0.9l0.2 -0.7l0.3 1.1l0.5 0.5l0.3 -0.1l0.3 -0.1l0.5 -0.6l0.4 0.1l0.1 0.4l0.5 -0.2l0.5 -0.9l0.1 0l0.4 -0.8l0.6 -0.7l0.1 -0.8l0.4 -1.6l0.5 -1.2l0.3 -0.2l0.2 -0.8l0.5 -1.3l0.4 -1.8l0.1 -0.1l0.6 -2.1l0.5 -0.5l0 -0.5l0.4 -0.3l0.1 0.5l0.5 1.3l0.2 -0.6l0.3 1.9l0.5 1.1l0.3 0.6l0.3 0.7l0.5 2.6l0.4 0.6l0.1 0.8l0.5 1.3l0.5 0.6l0.1 0.3l0.4 1.4l0.6 0.7l0.1 -0.9l0.4 0.1l0.5 -0.2l0.3 -0.1l0.2 -0.2l0.5 0.4l0.4 -0.4l0.1 -0.5l0.6 0.4l0.5 0.3l0 0.6l0.5 0l0.5 -0.8l0.2 -0.5l0.3 0.1l0.5 -0.2l0.3 0l0.3 0.2l0.5 -2.3l0.4 -1l0.1 0.3l0.5 -2l0.5 -0.7l0.1 -0.3l0.4 -1.6l0.6 -2.1l0.1 -0.3l0.4 -0.7l0.4 -0.2l0.1 -0.9l0.3 -0.5l0.2 0.9l0.5 2.2l0.4 1.4l0.1 0.4l0.6 2.5l0.5 1.8l0 -0.6l0.5 1.5l0.5 0.9l0.2 0.4l0.3 0.5l0.5 0.8l0.3 0.1l0.3 0.3l0.5 0.2l0.4 -0.1l0.1 -0.2l0.5 0.4l0.5 0.3l0.1 0.7l0.4 1l0.6 -1l0.1 -0.6l0.4 0.5l0.5 -0.4l0.3 0l0.2 -0.7l0.9 0.6l1.2 -0.6l1.2 0.8l1.1 -0.4l1.2 0.3l1.2 0.6l1.1 -0.6l1.2 0l1.1 1.1l1.2 -1l1.2 0.1l1.1 -1l1.2 0.6l1.1 0.1l1.2 -0.4l1.2 -0.3l1.1 1l1.2 0.4l1.2 -0.8l1.1 0.6l1.2 -0.5l1.1 -0.3l1.2 0.5l1.2 -0l1.1 0.3l1.2 0.5l1.2 -0.6l1.1 0.3l1.2 -0l1.1 -1l1.2 0.7l1.2 0.5l1.1 -0.9l1.2 -0l1.2 0.6l1.1 0.4l1.2 -0.5l1.1 -0.2l1.2 -0.1l1.2 -0.5l1.1 0.3l1.2 1.2l1.2 -1.1l1.1 0.1l1.2 -0.4l1.1 1l1.2 -1l1.2 0.7l1.1 0.1l1.2 -0.5l1.2 -0.1l1.1 0.2l1.2 0.9l1.1 -0.2l1.2 0.4l1.2 0.1l1.1 -0.4l1.2 -0.2l1.2 -0.3l1.1 0.7l1.2 0.3l1.1 -0l1.2 -0.8l1.2 -0.4l1.1 0.3l1.2 -0.3l0.5 -0.7l0.5 -0.6l0.1 0.7l0.4 0.5l0.5 0.2l0.3 0.6l0.3 -1.2l0.5 -0.8l0.4 0.4l0.1 0.6l0.5 -0.5l0.5 0.2l0 0.2l0.5 -0.4l0.6 -0.5l0.1 -0l0.4 -0l0.5 0.2l0.3 -0.5l0.2 -0.6l0.5 -1l0.4 -0.4l0.1 0.3l0.6 -1.3l0.5 -1.2l-0 0.5l0.5 -1.2l0.5 -0.4l0.1 -0.5l0.4 -0.9l0.5 -0.1l0.3 -1.7l0.1 -0.9l0.2 -0.1l0.5 1l0.4 1.5l0.1 0.5l0.5 0.8l0.5 0.6l0 0.5l0.5 1.2l0.6 0.7l0.1 -0.1l0.4 1.4l0.5 0.6l0.3 0.5l0.2 0.2l0.5 0.1l0.4 0.1l0.1 -0l0.6 0.3l0.5 -0l-0 0.5l0.5 -0.4l0.5 0.4l0.1 0.2l0.4 0.4l0.5 -1.6l0.3 0.9l0.3 0.3l0.5 -0.1l0.4 -0l0.1 -0.1l0.5 -0.5l0.5 1.9l1.2 -0.5l1.2 0.1l1.1 -0.8l1.2 -0.1l1.1 -1l1.2 0.6l1.2 -0.1l1.1 0.4l1.2 0.4l1.2 0.8l1.1 -0.2l1.2 -0.7l1.1 -0.2l1.2 0.5l1.2 0.9l1.1 -1.6l1.2 -0.4l1.2 0.1l1.1 0.3l1.2 0.6l1.1 0.7l1.2 0.1l1.2 0.4l1.1 -0.8l1.2 -0.5l1.2 -0.8l1.1 0l1.2 0.7l1.1 0.1l1.2 1.1l1.2 -0.6l1.1 -0.6l1.2 0.4l1.1 -1.1l1.2 0.8l1.2 0.2l1.1 -0.7l1.2 0.5l1.2 0.1l1.1 0.6l1.2 -0.4l1.1 -0.3l1.2 0l1.2 -0l1.1 -0.5l1.2 0.7l1.2 0.4l1.1 -0.6l1.2 -0.3l1.1 -0.4l1.2 -0l1.2 -0.2l1.1 0.2l1.2 0.3l1.2 0.3l1.1 -1.7l1.2 -1.6l1.1 -1l1.2 1.1l1.2 1.7l1.1 0.4l1.2 0.5l1.2 -0.2l1.1 -0.4l1.2 0.2l1.1 0.8l1.2 -0.1l1.2 -0.8l1.1 -0.1l1.2 0.1l1.2 1.1l1.1 -1.5l1.2 0.5l1.1 -1l1.2 0l1.2 1l1.1 -0.7l1.2 1l1.1 0.5l1.2 0.4l1.2 0.6l1.1 -0.3l1.2 -0.6l1.2 0.3l1.1 0.1l1.2 0.1l1.1 -0.3l1.2 -0l1.2 -1.5l1.1 0.7l1.2 0.9l1.2 0l1.1 -0l1.2 0.3l1.1 -0.3l1.2 -0.1l1.2 0.9l1.1 0.6l1.2 -1.5l1.2 -0.2l1.1 0.2l1.2 0.5l1.1 -0.8l1.2 -0.1l1.2 0.5l1.1 0.6l1.2 -0.7l1.2 -0.1l1.1 -0.1l1.2 0.7l1.1 0.1l1.2 0l1.2 0.7l1.1 -0.1l1.2 -0.4l1.2 0.5l1.1 0.3l0.1 0.1l0.5 0.3l0.6 -0.6l-0 -1.6l0.5 -0.1l0.5 0.2l0.1 0l0.4 0.4l0.5 0l0.3 0.9l0.2 -0.2l0.6 0l0.4 0.1l0.1 0.3l0.5 -1l0.5 0.4l0 -0.5l0.5 -1.5l0.5 0.9l0.2 -0.1l0.4 0.1l0.5 -1.3l0.3 0l0.2 -0.8l0.5 0.6l0.4 -0.3l0.1 -0.8l0.5 -2.4l0.6 -0.4l-0 0.3l0.5 -0.5l0.4 0.1l0.1 -0.2l0.1 0.4l0.4 0.4l0.5 0.1l0.3 0.8l0.2 0.6l0.6 0.5l0.4 0.2l0.1 -0.2l0.5 2.1l0.5 1.4l0 -0.3l0.5 -0.3l0.5 0.4l0.2 -0.6l0.4 -0.4l0.5 -0.7l0.2 0.3l0.3 0.1l0.5 1.1l0.4 0.2l0.1 -0.4l0.5 -0l0.6 0.1l-0 0.1l0.5 0.1l0.5 0.6l0.1 -1l0.4 0.3l0.5 0.2l0.3 0.4l0.2 -0.2l1 -0.4l1.1 0.6l1.2 0.4l1.1 -0.6l1.2 0.5l1.2 1.1l1.1 -0.9l1.2 0.1l1.2 -1.6l1.1 0.4l1.2 -0.3l1.1 0.5l1.2 0l1.2 0.2l1.1 0.6l1.2 0.3l1.2 0.1l1.1 -0.7l1.2 -0.2l1.1 -0l1.2 -0.3l1.2 -0.3l1.1 0.2l1.2 0.4l1.2 -0.1l1.1 -0.6l1.2 0.8l1.1 -0.4l1.2 1l1.2 -0.2l1.1 -0.1l1.2 0.5l1.2 -0.4l1.1 -0.8l1.2 0.2l1.1 -1l1.2 0.6l1.2 0.2l1.1 0.4l1.2 -0.1l1.2 0.9l1.1 -0.3l1.2 -0.5l1.1 1.5l1.2 -0.7l1.2 0" fill="none" stroke="#ff9634" stroke-width="10.5" stroke-linejoin="round" stroke-linecap="round"/>
<path d="M186.4 518.6l1.2 0.2l1.1 -1l1.2 -0.9l1.1 0.4l1.2 0.7l1.2 -0.1l1.1 -0.7l1.2 0.1l1.2 1l1.1 -0.8l1.2 0.7l1.1 0.2l1.2 0.1l1.2 0.2l1.1 -0.6l1.2 -0.1l1.2 0.9l1.1 -0.6l1.2 -0.3l1.1 -0.7l1.2 0l1.2 0.7l1.1 0.6l1.2 0.1l1.2 0l1.1 0l1.2 -0.1l1.1 0.3l1.2 -0.5l1.2 0.4l1.1 -0.4l1.2 -0.9l1.2 -0.5l1.1 0.3l1.2 0.1l1.1 -0.4l1.2 0l1.2 0.5l1.1 0.4l1.2 0.5l1.2 -0.6l1.1 0.3l1.2 0.4l1.1 -0l1.2 0.7l1.2 -0.7l1.1 -0.2l1.2 -0.1l1.2 -0.3l1.1 0l1.2 0.2l1.1 -0.1l1.2 -0.2l1.2 -0.2l1.1 0.1l1.2 -0.6l1.1 0.4l1.2 -0.3l1.2 0.2l1.1 -0.3l1.2 0.4l1.2 0l1.1 0.1l1.2 -0.2l1.1 0.3l1.2 0.9l1.2 -1.1l1.1 0.4l1.2 0.2l1.2 -0.3l1.1 -0.5l1.2 1l1.1 -0l1.2 0.4l1.2 -0.5l1.1 -0.5l1.2 0.7l1.2 0.2l1.1 -0.4l1.2 -0.2l1.1 0.3l1.2 -0.5l1.2 -0.3l1.1 0.2l1.2 0.6l1.2 0.3l1.1 -0.2l1.2 0.5l1.1 -0.4l1.2 -0.5l1.2 1.2l1.1 -0.7l1.2 0.1l1.2 0l1.1 -0.2l1.2 -0l1.1 0.2l1.2 -0l1.2 -0.5l1.1 -0.1l1.2 0.7l1.2 0.1l1.1 -0.5l1.2 -0.1l1.1 -0.6l1.2 -0.5l1.2 0.1l1.1 1.1l1.2 -0.4l1.1 -0.9l1.2 0.3l1.2 -0l1.1 0.6l1.2 0.6l1.2 -0.3l1.1 -0l1.2 -0.5l1.1 0.7l1.2 -0.5l1.2 0l1.1 1.2l1.2 -0.9l1.2 0l1.1 -0.1l1.2 0.2l1.1 0.1l1.2 0.6l1.2 -0.2l1.1 -0l1.2 -0.9l1.2 0.2l1.1 -0.7l1.2 0.8l1.1 -0.1l1.2 0.4l1.2 -0.4l1.1 0.1l1.2 -0.1l1.2 0.2l1.1 -0.1l1.2 -0.4l1.1 -0.1l1.2 -0.2l1.2 -0.3l1.1 -0.2l1.2 -0.3l1.2 1.4l1.1 -0.4l1.2 -0.4l1.1 0.7l1.2 0.2l1.2 -0.2l1.1 0.6l1.2 0.6l1.2 -0.9l1.1 0.6l1.2 -0.1l1.1 0.2l1.2 -0.6l1.2 0.6l1.1 0.2l1.2 -1.8l1.1 0.9l1.2 0.5l1.2 -1l1.1 0.2l1.2 -0.1l1.2 0.1l1.1 -0.4l1.2 0.5l1.1 0.3l1.2 -0.2l1.2 -0.2l1.1 -0.8l1.2 0.5l1.2 -0.5l1.1 0.3l1.2 -0.2l1.1 1.5l1.2 -0.3l1.2 0.5l1.1 -0.4l1.2 -0.3l1.2 0.2l1.1 -0.2l1.2 1l1.1 -0.7l1.2 0.5l1.2 -1l1.1 -0.5l1.2 0.4l1.2 -0.7l1.1 1.2l1.2 -0l1.1 -0.2l1.2 0.7l1.2 -0.7l1.1 -0.6l1.2 -1.2l1.2 -0.4l1.1 0.5l1.2 -0.6l1.1 1.1l1.2 0.7l1.2 0.2l1.1 -1l1.2 -0.2l1.2 -0.4l1.1 0.8l1.2 0.5l1.1 -0.3l1.2 -0.1l1.2 0l1.1 0.2l1.2 -0.9l1.1 -0.6l1.2 0.2l1.2 -0.2l1.1 -0.6l1.2 -1.3l0.3 -0.2l0.5 -0.7l0.4 -1.3l0 0.7l0.5 -1.1l0.5 -2.2l0.1 -0.8l0.3 -2.3l0.5 -4.6l0.4 -5.6l0.1 -2l0.4 -12.3l0.5 -20.2l0.1 -8.1l0.4 -23.1l0.4 -38.8l0.4 -32.4l0.1 -7.2l0.5 -21l0.1 -1.1l0.3 11.5l0.2 8.1l0.3 26.4l0.5 40.4l0.3 29.3l0.1 6.1l0.5 24l0.5 15.8l0.1 3.8l0.3 6l0.5 5.3l0.4 1.7l0 1.3l0.5 1l0.5 1.1l0.1 -0.6l0.3 0.9l0.5 0.2l0.4 1l1.1 0.6l1.2 2.1l1.2 0.9l1.1 0.9l1.2 0.4l1.2 -0.2l1.1 0.1l1.2 -0.1l1.1 -1l1.2 -0.3l1.2 0.3l1.1 0.8l1.2 -0.7l1.2 0.4l1.1 -0.1l1.2 0.6l1.1 0.4l1.2 -0.7l1.2 -0.4l1.1 1l1.2 0.4l1.2 -0.3l1.1 0.3l1.2 -0.2l1.1 0.1l1.2 -0.4l1.2 0.2l1.1 0.7l1.2 0.3l1.1 0.1l1.2 -0.5l1.2 0.2l1.1 -0.7l1.2 -0.3l1.2 0.1l1.1 -0.6l1.2 0.3l1.1 -0.8l1.2 1.2l1.2 0.3l1.1 -0.1l1.2 -0.5l1.2 -0.3l1.1 -0l1.2 -0.7l1.1 0.2l1.2 -0.1l1.2 0.8l1.1 0.7l1.2 0.5l1.2 -1.1l1.1 -0.6l1.2 1l1.1 0.2l1.2 0.3l1.2 0l1.1 -0.2l1.2 0.8l1.2 -0.1l1.1 -0.2l1.2 -0.9l1.1 -0l1.2 0.6l1.2 -0.1l1.1 0.2l1.2 -0.5l1.2 0.2l1.1 -0.5l1.2 -0.2l1.1 0.6l1.2 0.6l1.2 -0.6l1.1 -0.3l1.2 -0.2l1.2 -0.1l1.1 0l1.2 0.5l1.1 0l1.2 -0.2l1.2 0.2l1.1 -1.1l1.2 0.2l1.1 1.2l1.2 -0.8l1.2 -0.3l1.1 0.3l1.2 0.5l1.2 -0.3l1.1 -0.6l1.2 1l1.1 -1.4l1.2 -0.1l1.2 0l1.1 -0.8l1.2 1.4l1.2 1.1l1.1 -1l1.2 -0.1l1.1 0l1.2 0.5l1.2 -0.2l1.1 0.3l1.2 0.1l1.2 -0.2l1.1 -0l1.2 0.6l1.1 -0.2l1.2 0.1l1.2 -0.3l1.1 0.2l1.2 0.6l1.2 -0.5l1.1 -0.5l1.2 -0.5l1.1 0.6l1.2 -0.6l1.2 0.3l0.3 1.1l0.5 -0.4l0.3 0.5l0.2 -0.6l0.6 -0.4l0.4 -0l0.1 -0.7l0.5 -1.3l0.5 0.4l0.1 -0.1l0.4 0.2l0.5 0.8l0.2 -0.2l0.4 -1.6l0.5 -0.6l0.3 -1.7l0.2 -1.4l0.5 0.2l0.4 -1.7l0.1 -1.1l0.5 0l0 0.3l0.6 1.2l0 0.1l0.5 1.3l0.5 2l0.2 0.2l0.3 0.4l0.5 1.1l0.3 0.1l0.2 0.8l0.6 0.2l0.4 -0.1l0.1 -0.3l0.2 0.4l0.3 0.5l0.2 -0.4l0.3 -1.3l0.1 0.8l0.2 -0.3l0.2 0.4l0.3 -0.3l0.2 0.2l0.2 -0.2l0.1 -0.4l0.2 -0.6l0.3 0.2l0.5 -0.1l0.1 -0.8l0.4 -1.5l0.6 -0.6l0.1 0.9l0.4 -2.3l0.5 -3.6l0.3 -3.2l0.2 -2.4l0.5 -4.4l0.5 -5l0 -0.1l0.5 -1.8l0.1 0.6l0.5 3.5l0 0.2l0.5 4.3l0.5 5.9l0.2 1.2l0.3 1.7l0.5 4.2l0.3 0.9l0.3 0.9l0.5 2.2l0.4 0.6l0.1 -0.2l0.5 0.8l0.5 -0.8l0.1 -0.9l0.4 -0.3l0.6 0.4l0.1 0.3l0.4 -0.4l0.5 0.9l0.3 -0.3l0.2 -0.6l0.5 -1.7l0.5 -1.4l0 -0.1l0.6 -2.1l0.5 -0l0 0.2l0.4 -0.8l0.1 -0.5l0.5 -0.2l0.2 1.2l0.3 0.8l0.5 2.5l0.3 1l0.3 -0.3l0.5 1.2l0.4 0.6l0.1 0.1l0.5 0.5l0.5 0.3l0.1 -0l0.4 0.6l0.6 0.2l0.1 -0.2l0.4 -0.1l0.5 -0.1l0.3 -0.1l0.2 -0l1 0.3l1.1 -0.1l1.2 -0.8l1.1 0.5l1.2 -0.2l1.2 0.3l1.1 1.5l1.2 0.1l1.2 -1.6l1.1 -0.7l1.2 1l1.1 -0.3l1.2 -0.6l1.2 -0.4l1.1 0.5l1.2 0l1.2 0.4l1.1 0.1l1.2 0.3l1.1 -0.1l1.2 -0.3l1.2 0.6l1.1 0.8l1.2 -0.7l1.2 -0.1l1.1 1.1l1.2 -1l1.1 -0.6l1.2 0.5l1.2 0.5l1.1 -0.2l1.2 0.5l1.2 -0.3l1.1 -0.1l1.2 -0.1l1.1 0.1l1.2 -0.1l1.2 0.6l1.1 0.1l1.2 0.4l1.1 -0.6l1.2 -0.7l1.2 -0.3l1.1 -0.1l1.2 0.3l1.2 -0.2l1.1 0.3l1.2 0.2l1.1 -0.7l1.2 -0.5l1.2 1.1l1.1 -0.4l1.2 1.1l1.2 -0.5l1.1 -0.8l1.2 -0.4l1.1 -0.1l1.2 1.7l1.2 -1.2l1.1 -1l1.2 0.1l1.2 0.6l1.1 1.4l1.2 0.3l1.1 -0.9l1.2 0.8l1.2 0.3l1.1 -0.8l1.2 0.2l1.2 -0.1l1.1 -0.2l1.2 -0.4l1.1 -0.2l1.2 0.3l1.2 -0.2l1.1 0.5l1.2 0.2l1.2 -1l1.1 0.4l1.2 -0.1l1.1 0.5l1.2 -0.4l1.2 0.6l1.1 0.2l1.2 0.1l1.2 -0.1l1.1 -1.1l1.2 -0l1.1 0.5l1.2 0.1l1.2 -0.1l1.1 -0.6l0.7 -0.4l0.5 -0.9l0.1 -0.7l0.5 0.1l0.5 0.5l0 -0.2l0.5 -0.5l0.5 -0.5l0.2 0.5l0.3 -1.1l0.6 -1.5l0.3 -1.2l0.2 -0.8l0.5 -4.3l0.4 -6l0.1 -1.4l0.5 -9.5l0.5 -10.2l0.1 -0.3l0.5 -7.7l0.4 -3.2l0.1 -0.5l0.2 1.1l0.3 4.7l0.5 9.9l0.3 6.3l0.2 4.2l0.5 8.7l0.5 4.8l0.1 0.8l0.5 2.4l0.5 2.8l0 -0l0.5 1.3l0.5 0.3l0.2 0.2l0.3 -0.1l0.6 0.6l0.3 -0.1l0.2 1l0.5 0l0.4 0.3l1.2 -0l1.2 0.3l1.1 -0.2l1.2 -0.1l1.1 0.6l1.2 -0.2l1.2 -0.3l1.1 0.2l1.2 1.4l1.2 0.3l1.1 -0.3l1.2 -0.1l1.1 -0l1.2 0l1.2 1l1.1 0.2l1.2 -0.6l1.2 -1.3l1.1 -0.4l1.2 0.4l1.1 -0.1l1.2 0.4l1.2 -0.2l1.1 0.3l1.2 0.2l1.2 -0.4l1.1 -0.6l1.2 0.1l1.1 -0.1l1.2 -0.2l1.2 0.4l1.1 0.8l1.2 -0.3l1.2 -0.2l1.1 -0.5l1.2 0.4l1.1 0.2l1.2 0.1l1.2 0.8l1.1 -0.2l1.2 0.2l1.1 -0.5l1.2 0l1.2 -0.6l1.1 0.5l1.2 0.5l1.2 -0.8l1.1 -0.5l1.2 0.3l1.1 -0.1l1.2 0.4l1.2 -1.6l0.3 0.1l0.5 0.6l0.3 0.2l0.2 -0.6l0.6 0.5l0.4 -0l0.1 -0.1l0.5 -0.3l0.5 -0.2l0.1 0.3l0.4 -1.1l0.5 -2.1l0.2 0.9l0.4 -1.5l0.5 -0.6l0.3 -0.8l0.2 -0.5l0.5 -3.4l0.4 -2.4l0.1 -0.6l0.5 -3.9l0.6 -2.9l0 -0.5l0.4 0.4l0.1 -0.5l0.5 1.6l0.2 0.9l0.3 2.4l0.5 3.7l0.3 1.9l0.2 1.4l0.6 2.7l0.4 1.7l0.1 0.7l0.5 0.9l0.5 0.6l0.1 0.2l0.4 0.2l0.5 0.4l0.2 0.3l0.4 -1.2l0.5 0.4l0.3 0l0.2 -0.5l0.5 -0.2l0.4 -0.2l0.1 1.1l0.5 0.7l0.6 -0.2l0 -0.2l0.5 -0.7l0.5 1.1l0.2 0.4l0.3 -0.6l0.5 -1.2l0.3 -0.4l0.2 -0.7l0.6 -1.6l0.4 -1.8l0.1 -0.3l0.5 -2.7l0.5 -3.2l0.1 -0.7l0.4 -3.7l0.5 -4.7l0.2 -1.1l0.4 -1.8l0.4 -0.4l0.1 -0.2l0.3 0.1l0.2 0.9l0.5 5.6l0.4 3l0.1 0.6l0.5 4.9l0.6 3.2l0 0.3l0.5 2.9l0.5 1.6l0.2 -0l0.3 0.6l0.5 0.5l0.3 0.4l0.2 0.1l0.6 -0.1l0.4 0.1l0.1 0l0.5 -0l0.5 -0.2l0.1 0.6l0.4 -1.1l0.7 0.3l1.2 0.9l1.1 0.3l1.2 -0.6l1.2 -0.3l1.1 1.3l1.2 0.2l1.2 -0.3l1.1 -0.1l1.2 -0.2l1.1 0.2l1.2 -0.5l1.2 0.2l1.1 0l1.2 0.2l1.1 0.4l1.2 -1l1.2 0.2l1.1 0.2l1.2 0.2l1.2 -0l1.1 0.2l1.2 0.5l1.1 -0.5l1.2 0l1.2 0.3l1.1 -0.3l1.2 0.5l1.2 -0.6l1.1 0.5l1.2 -0.1l1.1 0.5l1.2 0.3l1.2 -1l1.1 0.4l1.2 -0l1.2 -0.2l1.1 -0.4l1.2 0.2l1.1 -0.3l1.2 0.1l1.2 -0l1.1 -0l1.2 -0.2l1.2 -0.6l1.1 0.4l1.2 -1.5l1.1 0.8l1.2 0.4l1.2 0.2l1.1 -0.1l1.2 0.3l1.2 0.4l1.1 -0.4l1.2 -0.2l1.1 -0.3l1.2 -0.4l1.2 0.7l1.1 0.1l1.2 0.8l1.2 -1l1.1 -0.4l1.2 0.4l1.1 -0.1l1.2 0.4l1.2 -0.4l1.1 0.8l1.2 -0.4l1.1 0.1l1.2 0.3l0.2 -0.9l0.5 -0.2l0.5 -0.4l0.1 0.7l0.5 -1l0.5 0.1l0 -0.1l0.5 0.7l0.5 0.8l0.2 -0.3l0.3 0.6l0.6 -0.3l0.3 -1.3l0.2 -0.3l0.5 -1l0.4 0l0.1 0l0.5 -1.1l0.5 -2.2l0.1 -0.1l0.5 -2.4l0.5 -2.1l0.1 0.1l0.4 -1.8l0.5 -1l0.3 -0.7l0.1 -0.4l0.1 0.2l0.5 0.1l0.5 2.6l0.1 0.3l0.5 1.6l0.5 2.8l0 -0.4l0.5 2.3l0.5 2l0.2 0.6l0.3 -0.3l0.6 0.6l0.3 0.9l0.2 0.2l0.5 0.4l0.4 1.1l0.1 -0.1l0.5 -0.5l0.5 -0.8l0.1 -0.2l0.5 -0.5l0.5 0.1l0.1 0.4l0.4 -0.4l0.5 0.5l0.3 -0.1l1.2 0.6l1.1 -0.5l1.2 -0.1l1.2 0.4l1.1 0.4l1.2 0.1l1.1 -1.4l1.2 0.4l1.2 -0.5l1.1 0.5l1.2 -0.1l1.2 -0l1.1 0.2l1.2 0.6l1.1 0.1l1.2 0.4l1.2 -0.1l1.1 -0.2l1.2 0.6l1.2 0.8l1.1 -0.9l1.2 -0.1l1.1 -0.8l1.2 0.2l1.2 -0.3l1.1 0.9l1.2 0.1l1.2 -0l1.1 0.4l1.2 -0.1l1.1 -1.7l1.2 1.2l1.2 0.8l1.1 -0.3l1.2 0.3l1.1 -0.1l1.2 -1.1l1.2 -0.7l1.1 1.1l1.2 0.4l1.2 0.6l1.1 0.5l1.2 -0.7l1.1 -0l1.2 -0.1l1.2 0l1.1 -0.1l1.2 -0.5l1.2 0l1.1 -1l1.2 0.5l1.1 -0.2l1.2 -0.2l1.2 0.4l1.1 0.1l1.2 0l1.2 -0.8l1.1 -0.9l1.2 -1l1.1 -0.4l1.2 0.6l1.2 0.7l1.1 1l1.2 0.1l1.2 0.3l1.1 -0.4l1.2 -0.8l1.1 0.6l0.8 0.6l0.4 0l0.1 0.6l0.5 -0.1l0.5 -0.2l0.1 0.6l0.4 -0.1l0.6 -0.6l0.1 0l0.4 -0.2l0.5 -0.5l0.3 0.5l0.2 -0.1l0.5 -0.4l0.5 -0.2l0 1l0.6 -0l0.5 -0.5l0 -1.2l0.5 -1.6l0.5 -0.9l0.2 -0.1l0.3 -0.5l0.5 -1.2l0.3 -0.3l0.3 -0.9l0.4 0.1l0.1 -0.1l0.4 0.8l0.1 0.2l0.5 -0.1l0.5 1.4l0.1 0.9l0.4 1.4l0.6 1.1l0.1 -0.3l0.4 0.1l0.5 1l0.3 -0.5l0.2 0.7l0.5 0.1l0.4 0.6l0.1 0.5l0.6 -0.3l0.5 -0.5l0 -0.3l0.5 0.3l0.5 -1.3l0.2 0.9l0.3 0.2l0.5 0.6l0.3 0.9l0.3 -1.5l0.9 -0.5l1.2 0.4l1.1 -0.6l1.2 0.5l1.1 1.2l1.2 -0.8l1.2 -0.4l1.1 0.1l1.2 0.7l1.2 -0.6l1.1 0.4l1.2 0.1l1.1 -0.1l1.2 -0.8l1.2 0.3l1.1 0.3l1.2 -0.5l1.2 1.5l1.1 -0.3l1.2 -0.6l1.1 0.2l1.2 -0.1l1.2 -0l1.1 -0.6l1.2 0.7l1.2 -0l1.1 -0.3l1.2 0.5l1.1 -0.6l1.2 0.4l1.2 0.2l1.1 0.4l1.2 0.4l1.2 -0.2l1.1 -0.1l1.2 -0.7l1 -1.3l0.1 0.9l0.4 0.5l0.5 -0.8l0.3 -0.9l0.2 -0.1l0.5 -0.1l0.5 0.7l0.1 0.7l0.5 -0.3l0.5 -0.6l0 0.6l0.5 -0.2l0.5 -0.8l0.2 -0l0.3 0.4l0.6 -0.3l0.3 -1.1l0.2 -0.3l0.5 -0.6l0.4 -0.1l0.1 0l0.5 -0.5l0.5 -2.2l0.1 -0.2l0.5 -1.3l0.4 0.6l0.1 -0.9l0.1 0.1l0.4 1.2l0.5 0.7l0.3 1l0.2 0.1l0.5 1.3l0.5 2.2l0.1 -0.8l0.5 0.7l0.5 0.8l0 0.2l0.5 1.2l0.5 -0.8l0.2 0.8l0.3 0.1l0.6 -0.3l0.2 -0.1l0.3 -0.4l0.5 0.7l0.4 -0l0.1 -0.4l0.5 0.2l0.5 -1l0.1 0.2l0.5 -0.4l0.6 0.5l1.2 0.2l1.2 -0.2l1.1 0l1.2 0.2l1.1 0.2l1.2 0.2l1.2 0.4l1.1 0.8l1.2 0l1.2 -0.4l1.1 -0.3l1.2 -0.2l1.1 0.3l1.2 -0.5l1.2 0.3l1.1 -0.7l1.2 -0.7l1.2 -0l1.1 0.7l1.2 0.1l1.1 -0.7l1.2 -1.1l1.2 0.9l1.1 0.9l1.2 -0.3l1.2 -0.4l1.1 0.3l1.2 0l1.1 0.2l1.2 0.9l1.2 -0.3l1.1 -0.9l1.2 0.6l1.2 -0.9l1.1 0.8l1.2 0l1.1 0.3l1.2 0l1.2 -0.2l1.1 -0.5l1.2 0.3l1.2 -0l1.1 -1.2l1.2 0.9l1.1 -0.3l1.2 0.9l1.2 0.6" fill="none" stroke="#00ff00" stroke-width="10.5" stroke-linejoin="round" stroke-linecap="round"/>
<path d="M448.6 526.5V713.5M598.4 677.2V713.5M610 658V713.5M620.3 676.2V713.5M741.7 649.8V713.5M817.9 664.2V713.5M833.4 665.2V713.5M923.8 684V713.5M931.6 671.2V713.5M1010.3 680.2V713.5M1029.7 679.2V713.5M1078.8 686.2V713.5M1090.4 676.6V713.5M1103.3 684.2V713.5M1164 687.2V713.5" fill="none" stroke="#777777" stroke-width="8.5" stroke-linecap="round"/>
<path d="M447.3 771.2V846M453.7 778.2V846M490.6 743V846M498.9 795.2V846M505.4 795.2V846M584.2 789.5V846M622.9 795.2V846M652.6 795.2V846M696.5 771.6V846M711.5 768.5V846M724.3 795.2V846M774 794.5V846M785 780.5V846M789.5 793.2V846M802.4 795.5V846M810.2 788.2V846M830.8 795.5V846M837.9 795.5V846M859.2 794.2V846M869.6 794.2V846M886.4 795.2V846M894.1 795.2V846M900.6 795.2V846M962.6 789.2V846M974.2 795.2V846M987.1 795.2V846M994.8 795.2V846M1014.2 791.8V846M1024.5 790.8V846M1042.6 790.2V846M1086.5 795.2V846M1094.3 795.2V846M1108.5 795.2V846M1118.8 795.2V846M1131.7 795.2V846M1141.4 795.2V846" fill="none" stroke="#930080" stroke-width="8.5" stroke-linecap="round"/>
<text font-size="60.5" font-weight="bold"><tspan x="763" y="120.7">15%Ce-B-TiO</tspan><tspan x="1134.5" y="134.6" font-size="40.5">2</tspan></text>
<text font-size="60.5" font-weight="bold"><tspan x="763" y="199">10%Ce-B-TiO</tspan><tspan x="1134.5" y="213" font-size="40.5">2</tspan></text>
<text font-size="60.5" font-weight="bold"><tspan x="763" y="296">1%Ce-B-TiO</tspan><tspan x="1104" y="310.7" font-size="40.5">2</tspan></text>
<text font-size="60.5" font-weight="bold"><tspan x="934.4" y="468">B-TiO</tspan><tspan x="1095.5" y="482" font-size="40.5">2</tspan></text>
<text font-size="60.5" font-weight="bold"><tspan x="763.4" y="644.3">Anatase-TiO</tspan><tspan x="1092.5" y="659" font-size="40.5">2</tspan></text>
<text font-size="60.5" font-weight="bold"><tspan x="987" y="774.5">CeF</tspan><tspan x="1093.1" y="787.9" font-size="40.5">3</tspan></text>
<path d="M1320.4 160.7l1.2 0.5l1.1 -0.7l1.2 -0.5l1.1 0.3l1.2 0.9l1.2 -0.2l1.1 -0.8l1.2 -0.3l1.2 0.1l1.1 0.6l1.2 -0.1l1.1 -0.2l1.2 -0.1l1.2 0.1l1.1 -0.3l1.2 0.1l1.2 0.2l1.1 0.8l1.2 -0.3l1.1 0.3l1.2 -0.8l1.2 0.4l1.1 -0l1.2 -0.4l1.2 -0l1.1 0.5l1.2 -0.4l1.1 0.5l1.2 0.5l1.2 0.4l1.1 0.2l1.2 -1.3l1.2 0l1.1 -0.4l1.2 0.5l1.1 -0.2l1.2 0l1.2 0.1l1.1 -0.4l1.2 0.1l1.2 -0.4l1.1 1.2l1.2 -0.6l1.1 -0.1l1.2 -0.9l1.2 -0.4l1.1 0l1.2 0.9l1.2 0.5l1.1 0l1.2 -0.4l1.1 1l1.2 -0.9l1.2 -0.4l1.1 0.4l1.2 -0.4l1.1 0.3l1.2 0.5l1.2 -0.2l1.1 0.2l1.2 -0.1l1.2 -0.5l1.1 -1.4l1.2 0l1.1 0.7l1.2 -0.4l1.2 0.2l1.1 0.6l1.2 0.9l1.2 -0.8l1.1 -0.1l1.2 0.3l1.1 0.4l1.2 -0.8l1.2 1.2l1.1 -0.6l1.2 0.5l1.2 -0.3l1.1 0.2l1.2 0.7l1.1 -0.1l1.2 -0.3l1.2 -0.8l1.1 -0.2l1.2 -0.6l1.2 1.4l1.1 -1l1.2 -1l1.1 1.4l1.2 0.7l1.2 -0.4l1.1 0.4l1.2 -0.7l1.2 -0.2l1.1 0.4l1.2 0.2l1.1 -0.3l1.2 0.8l1.2 0.1l1.1 -0.3l1.2 -0.8l1.2 0.2l1.1 -0.2l1.2 0.1l1.1 0.4l1.2 -0.4l1.2 0.2l1.1 0.4l1.2 -0l1.1 0.9l1.2 -1.4l1.2 -0l1.1 -0.6l1.2 0.2l1.2 1.4l1.1 -1.2l1.2 -0l1.1 0.4l1.2 -0l1.2 0.4l1.1 -1l1.2 0.6l1.2 -0.5l1.1 -0.5l1.2 0.6l1.1 0.3l1.2 -0.4l1.2 -0.3l1.1 0.2l1.2 0.2l1.2 -0l1.1 -0.4l1.2 -0.9l1.1 1.2l1.2 0.2l1.2 -0.5l1.1 -0.6l1.2 0.2l1.2 0.2l1.1 -0.7l1.2 1.3l1.1 0.3l1.2 -0.2l1.2 0.2l1.1 0.1l1.2 0.4l1.2 -0.1l1.1 0.4l1.2 0.4l1.1 -0.7l1.2 -0.4l1.2 -0.5l1.1 -0l1.2 -0.3l1.2 0.3l1.1 0.3l1.2 0.2l1.1 -0.6l1.2 0.7l1.2 -0.3l1.1 -0.1l1.2 -0.2l1.1 -0.9l1.2 0.6l1.2 -0.6l1.1 1l1.2 0.1l1.2 0.8l1.1 0l1.2 0.1l1.1 0.4l1.2 -0.5l1.2 0.4l1.1 -0.5l1.2 -0.1l1.2 -0.6l1.1 0.3l1.2 0.2l1.1 -0.4l1.2 -0.7l1.2 0.3l1.1 0.3l1.2 -0.1l1.2 -0.4l1.1 -0.2l1.2 0.2l1.1 -1.1l1.2 0.3l1.2 1.3l1.1 -0.7l1.2 0.2l1.2 1l1.1 0.1l1.2 0.2l1.1 -0.4l1.2 -0.9l1.2 1.6l1.1 -0.3l1.2 -0.3l1.2 0.6l1.1 -0.2l1.2 -0.4l1.1 -0.9l1.2 -0l1.2 -0.1l1.1 -0.3l1.2 -0.4l0.7 -0.2l0.5 0.2l0 -0l0.6 0.4l0.5 0.5l0 -0l0.5 -0.2l0.5 0.6l0.2 -0.1l0.3 -1.2l0.5 -0.4l0.3 0.2l0.3 -0.5l0.5 0.3l0.4 -1.2l0.1 -0.7l0.5 0.5l0.5 -0.5l0.1 -0.9l0.4 -0.7l0.6 -0.7l0.1 -1.2l0.4 -1.6l0.5 -2l0.3 -0.8l0.2 -0.9l0.4 -0.1l0.1 -0.2l0.4 1l0.1 1.6l0.6 0.4l0.5 2l0 0.5l0.5 -0.2l0.2 0.9l0.3 0.7l0.2 0.2l0.1 0.7l0.2 -0l0.3 0.5l0.2 -0.1l0.3 0.1l0 -0.3l0.3 1.3l0.2 -0.4l0.3 -0.8l0.2 0.9l0.2 0.3l0.1 -0.6l0.2 -0.9l0.3 -0.7l0.3 0.3l0.2 -0.9l0.1 -0.5l0.2 0l0.2 -1.1l0.3 -1l0.3 -0.4l0.1 -0.9l0.1 -0.4l0.3 -2.3l0.2 -2.2l0.3 -3.6l0.2 -3.2l0.1 -0.5l0.2 -4.1l0.3 -5.5l0.5 -10.7l0.1 -4.1l0.4 -8.3l0.5 -12.9l0.3 -5.6l0.2 -2.8l0.5 -1.8l0 0.4l0.5 3.3l0.1 1.6l0.5 9.9l0.5 13.1l0 0.7l0.5 11.7l0.5 10.2l0.2 2.4l0.3 4.6l0.6 6.5l0.3 2.3l0.2 1.6l0.5 2.6l0.4 0.2l0.1 0.8l0.5 1l0.5 1.1l0.1 0.3l0.5 -0.5l0.5 0.6l0.1 0.3l0.4 0.6l0.5 0.8l0.3 -0.4l0.2 0l1 0.7l1.1 -0.7l1.2 1.5l1.2 -0.6l1.1 0.6l1.2 -0.5l1.1 0.5l1.2 0.5l1.2 -0l1.1 -0.9l1.2 0.3l1.2 0.2l1.1 0.2l1.2 -0.9l0.2 -0.2l0.5 -0.3l0.4 0.4l0.1 -0.3l0.5 -0l0.6 0.4l0 -0.3l0.5 0.4l0.5 -0.7l0.2 -0.6l0.3 -0.1l0.5 -1.7l0.3 -1.8l0.2 -1.6l0.6 -4.1l0.4 -4.4l0.1 -0.4l0.5 -6.5l0.5 -5.9l0.1 -1.1l0.3 -1l0.1 0.4l0.5 3.6l0.2 1.5l0.3 3.3l0.6 7l0.3 3.1l0.2 1.3l0.5 4.8l0.4 2.3l0.1 0l0.5 1.3l0.5 0.3l0.1 0.6l0.5 0l0.5 0.1l0.2 0l0.3 -0.3l0.5 1l0.3 0.9l0.2 0.1l1 -1.2l1.1 0.2l1.2 -0.1l1.2 0.5l1.1 -0.9l1.2 -0.6l1.2 0.5l1.1 1.1l1.2 0l1.1 1.3l1.2 -0.8l1.2 -0.1l1.1 -0.1l1.2 -0.4l1.2 0.8l1.1 -0.8l1.2 -0.3l1.1 0.1l1.2 0.1l1.2 0.8l1.1 -0.3l1.2 0.3l1.2 -0.3l1.1 0.7l1.2 -0.2l1.1 -0l1.2 -1l1.2 0.6l1.1 -0.3l1.2 0.6l1.2 0.1l1.1 0.2l1.2 0.3l1.1 -0.1l1.2 -0.8l1.2 0.1l1.1 0.1l1.2 -0.6l1.2 0.5l1.1 0.7l1.2 -0.2l1.1 -0.1l1.2 0l1.2 0.4l1.1 -0.6l1.2 0.4l1.2 -0.6l1.1 0.2l1.2 0.2l1.1 -0.8l1.2 0.5l1.2 0l1.1 -0.9l1.2 0.1l1.1 -0l1.2 -0.2l1.2 0.5l1.1 -0.2l1.2 0.2l1.2 -0.4l1.1 0.2l1.2 1.1l1.1 -0l1.2 -1l1.2 -0.3l1.1 0.2l1.2 -0.6l1.2 0.9l1.1 0.1l1.2 -0.1l1.1 0l1.2 -0.5l1.2 -0.8l1.1 -1.8l1.2 -0.6l1.2 1l1.1 1.4l1.2 0.6l1.1 -0.5l1.2 0.4l1.2 0.4l1.1 -0.4l1.2 1.1l1.2 -0.6l1.1 0.2l1.2 -0.5l1.1 0.8l1.2 -0.7l1.2 -0.2l1.1 0.8l1.2 -0.7l1.2 -0.1l1.1 0.2l1.2 -0.6l1.1 -1.8l1.2 0.7l1.1 0.7l0.1 0.7l0.4 -0.7l0.6 0.8l0.1 0.2l0.4 -0.2l0.5 -0.1l0.3 0.3l0.2 -0.4l0.5 -0.1l0.5 -0.3l0 0.3l0.6 0.2l0.5 -1.2l0 0.3l0.5 -0.2l0.5 0l0.2 -0.9l0.3 -0.2l0.5 -2l0.3 -0.9l0.3 -0.9l0.5 -2.2l0.4 -2.1l0.1 -0.8l0.5 -0.7l0.4 0.1l0.1 -0.5l0.1 -0.3l0.4 0.7l0.6 1.2l0.1 0.4l0.4 2.1l0.5 2.7l0.3 0.9l0.2 0.2l0.5 1l0.4 0.9l0.1 0.8l0.6 0.7l0.5 -0.2l0 -0.3l0.5 0.8l0.5 0.5l0.2 1l0.3 0.4l0.5 -0.3l0.3 -0.7l0.3 0l0.5 -0.7l0.4 -0.4l0.1 0.7l0.5 -0.1l0.6 -0.2l1.1 -0.6l1.2 -0.3l1.1 1.4l1.2 0.7l1.2 0.3l1.1 0.1l1.2 0.2l1.2 -0.9l1.1 -0.5l1.2 0.5l1.1 0.4l1.2 -0.2l1.2 0.1l1.1 -0.6l1.2 0.8l1.2 0.2l1.1 0.7l1.2 -0.5l1.1 -0.2l1.2 -0l1.2 0.6l1.1 -0l1.2 -0.1l1.2 -1.1l1.1 -0.2l1.2 -0.5l1.1 0.4l1.2 0.7l1.2 0.1l1.1 -0.5l1.2 1.2l1.2 -0.9l1.1 0.8l1.2 0.3l1.1 -0.3l1.2 0.4l1.2 -0.9l1.1 -0.4l1.2 -0l1.2 0.3l1.1 -0.1l1.2 0.8l1.1 -0.5l1.2 -0.2l1.2 -0.7l1.1 0.5l1.2 0.4l1.1 -0.5l1.2 -0.6l1.2 -0.4l1.1 1l1.2 0.4l1.2 -0l1.1 0.1l0.1 0l0.5 -0l0.5 -1.1l0.1 0.4l0.4 0.3l0.6 0.3l0.1 0.2l0.4 -0.8l0.5 -0.2l0.3 -1l0.2 0.8l0.5 -1.5l0.5 -0.3l0 -0.6l0.6 -1.9l0.5 -2.3l0 -0.1l0.5 -1.7l0.5 -1.5l0.2 -0.8l0.3 0.2l0 0.2l0.5 1.9l0.4 0.5l0.2 0.9l0.5 2.5l0.4 1.5l0.1 0.4l0.5 0.8l0.5 0.7l0.1 -0.2l0.4 0.3l0.6 0.1l0.1 0.3l0.4 -0.3l0.5 0.2l0.3 0.7l0.2 -0.7l0.5 -0.1l0.5 0.2l0 -0.2l1 -0.1l0.1 1.4l0.4 0l0.5 -0.4l0.3 -0.4l0.2 -0.6l0.5 -0.3l0.5 -0.8l0 1l0.6 -0.2l0.5 0.3l0 -0l0.5 -1.7l0.5 0l0.2 -0.5l0.3 -1.1l0.5 -3.3l0.3 -2.2l0.3 -1.3l0.5 -1.6l0.4 -1.8l0.1 -0.5l0.5 2l0.5 2l0.1 1.5l0.4 2.2l0.5 3.3l0.2 0.5l0.4 0.9l0.5 0.6l0.3 1.4l0.2 -0.1l0.5 -0.3l0.5 0.8l0 -0l0.5 0.4l0.6 -0.1l0 0.2l0.5 0.2l0.5 0l0.2 -0.9l1.1 0.7l1.2 0.8l1.2 0l1.1 0.3l1.2 0.1l1.2 -0.5l1.1 0.4l1.2 -0.4l1.1 -0.7l1.2 -0.5l1.2 0.8l1.1 0.4l1.2 0.1l1.2 -0.5l1.1 -0.9l1.2 0.7l1.1 -0.1l1.2 -0.3l1.2 -0.2l0.2 -0.1l0.5 -0.8l0.4 0.8l0.1 0.5l0.5 0.3l0.5 -0.5l0.1 -0.7l0.5 -0.6l0.5 0.1l0.1 1l0.4 0.1l0.5 -0.8l0.3 -0.4l0.2 -0.2l0.5 -1.7l0.5 -1.7l0.1 -0.4l0.5 -3.3l0.5 -4l0 -0.4l0.5 -2.4l0.5 -3.7l0.2 -0.6l0.3 -0.2l0 0.2l0.6 1.5l0.3 2.4l0.2 1.2l0.5 3.7l0.4 3.2l0.1 -0.4l0.5 3.4l0.5 2.2l0.1 -0.8l0.4 1.2l0.6 0.4l0.1 0.2l0.4 0.9l0.5 -0.7l0.3 0.9l0.2 0.4l0.5 0l0.5 1.2l0 -0.7l0.6 -0.8l0.5 0.4l0 0.1l1.2 -0.1l1.2 -0.9l1.1 -0.4l1.2 1.5l1.1 -0.6l1.2 1.1l1.2 0.3l1.1 -1.3l1.2 0.5l1.2 0.4l1.1 0.6l1.2 0.4l1.1 0.2l1.2 -0.5l1.2 -0.4l1.1 -0.3l1.2 0.2l1.2 -0.6l1.1 -0.4l0 1.4l0.5 0.1l0.5 0.2l0.2 -0.6l0.3 -0.6l0.5 -0.3l0.3 -0.3l0.2 -0.1l0.6 -0.6l0.4 0.7l0.1 0.3l0.5 0.2l0.5 -0.5l0.1 -0.5l0.4 0.7l0.5 -0.7l0.2 -0.5l0.4 -0.6l0.5 -1.9l0.3 -0.6l0.2 -1.2l0.5 -0.6l0.5 -0.1l0 0.2l0.5 0.4l0.6 1l0 0.1l0.5 1.4l0.5 0.8l0.2 0.7l0.3 0.8l0.5 -0.2l0.3 -0.4l0.2 0.7l0.6 0.3l0.4 -0.1l0.1 -0.3l0.5 -0.1l0.5 -0.2l0.1 0.4l0.4 -0.3l0.5 -0.2l0.2 0.6l0.4 1.2l0.5 0.6l0.3 -0.4l1.2 0.1l1.1 -0.2l1.2 -0.1l1.1 -0.4l1.2 0.2l1.2 -0.5l1.1 -0.1l1.2 0.2l1.1 0.1l1.2 0.9l1.2 -1.2l1.1 -1.5l1.2 -0.5l1.2 0.2l1.1 1.2l1.2 0.6l1.1 -0.3l1 0.2l0.2 -0.4l0.4 0.3l0.5 1.2l0.3 -0.4l0.2 -0l0.5 0.4l0.4 -0.9l0.1 0.5l0.5 -0.4l0.6 -0.4l-0 -0l0.5 -0.5l0.5 0.5l0.2 -0.1l0.3 -0.5l0.5 -0.2l0.3 -1.2l0.2 -1.5l0.6 0.3l0.4 -1.3l0.1 0.3l0.5 -2l0.5 -2.3l0 -0.1l0.5 -0.1l0.4 -0.1l0.1 -0.3l0.2 0.6l0.4 0.3l0.5 1.4l0.3 0.4l0.2 -0.3l0.5 2.2l0.4 1.7l0.1 -0.2l0.5 2l0.6 0.6l-0 0.8l0.5 0.3l0.5 0.5l0.2 -0.6l0.3 -0.8l0.4 1.3l0.1 0.3l0.3 -0l0.1 -0.9l0.1 0.4l0.4 -0.7l0.2 0.3l0.3 0.4l0.1 0.1l0.1 -0.8l0.4 0.4l0.1 -0l0.4 0.2l0.1 0.4l0 -0.7l0.4 -0.5l0.1 -0.9l0.4 1.1l0.3 -0.5l0.2 0.7l0.5 -0.2l0.5 0.1l0.1 -0.3l0.5 -0.6l0.5 -1.2l0 -0l0.5 -1.8l0.5 -0.9l0.2 -1.5l0.3 -1.2l0.6 -1.7l0.3 -0.5l0.2 -0.4l0.4 -0.8l0.1 0.3l0.4 -0.7l0.1 0.5l0.5 2l0.5 1.7l0.1 1l0.5 1.5l0.5 1.7l0.1 -0.3l0.4 1.4l0.5 1.1l0.3 -0.6l0.2 1.1l0.5 -0.4l0.5 -0.3l0.1 0.8l0.5 1l0.5 0.1l0 -0.4l0.5 -0.4l0.5 -0.3l0.2 0.3l0.3 0.3l0.6 -0.5l0.3 0.5l0.2 -1.1l0.9 0.6l1.2 -0.2l1.1 -0.3l1.2 1.5l1.2 0.2l1.1 -0.3l1.2 -0.6l1.2 0.9l1.1 -0.2l1.2 -0.4l1.1 -1.1l1.2 0.9l1.2 0.5l1.1 0.2l1.2 -0.6l1.1 -0.8l1.2 1l1.2 -0.1l1.1 0.4l1.2 -1.3l1.2 0.3l1.1 0.7l1.2 -0l1.1 0.9l1.2 0.1l1.2 0.2l1.1 -0.1l1.2 -0.5l1.2 -0.6l1.1 -0.4l1.2 0.8l1.1 -0.2l1.2 -1.1l1.2 0.5l1.1 0.2l1.2 -0.1l1.2 0.4l1.1 -0.5l1.2 1.5l1.1 -0.6l1.2 -0.7l1.2 0.2l1.1 0.1l1.2 0.5l1.2 -0.1l1.1 0.2l1.2 -0.3l1.1 -0.2l1.2 -0.6l1.2 -0.1l1.1 0.2l1.2 -0.5l1.2 0.8l1.1 -0.1l1.2 0.6l1.1 0.3l1.2 -0.5l1.2 1.4l1.1 0.1l1.2 -1l1.2 -0.1l1.1 -0.5l1.2 -0.5l1.1 0.2l1.2 -0.2l1.2 0.5l1.1 -0.8l1.2 0.4l0.9 0.7l0.2 -0.1l0.3 0.7l0.5 0.5l0.4 -1.3l0.1 -0.3l0.5 -0.4l0.5 0.8l0.1 -0.5l0.5 -1.1l0.5 0l0.1 0.2l0.4 0.1l0.5 0.1l0.3 0l0.2 -0.4l0.5 0l0.5 -0.4l0.1 -0.1l0.5 -0.4l0.5 -0.1l0 0.1l0.5 -0.6l0.5 -1.5l0.2 -1.1l0.3 -0.5l0.6 -0.3l0.2 -0.4l0.3 -0.5l0.4 -0.9l0.1 0.5l0.4 0.1l0.1 -0.5l0.5 1.5l0.5 1.3l0.1 0.8l0.5 0.1l0.5 0.4l0.1 0.7l0.4 1.4l0.5 0.5l0.3 0.4l0.2 -0.7l0.5 0.6l0.5 -0.6l0.1 -0.5l0.5 1l0.5 0.8l0 -0.4l0.5 0.2l0.5 0.3l0.2 -0.1l0.3 -0l0.6 0.2l0.2 -0.5l0.3 -0.4l0.5 0.5l0.4 1.2l0.1 -0.5l1.1 -0.4l1.1 1l1.2 -0.7l1.2 -0.5l1.1 1.1l1.2 -0l1.1 0l1.2 -1.4l1.2 0.9l1.1 -0.3l1.2 0.5l1.2 -0.1l1.1 0.5l1.2 -0.5l1.1 -0.1l1.2 -0.9l1.2 0.8l1.1 0.4l1.2 -0.4l1.2 -0.8l1.1 0.2l1.2 -0.3l1.1 0.1l1.2 -0l1.2 -0.1l1.1 0.4l1.2 0.2l1.2 -0.5l1.1 -0.1l1.2 0.4l1.1 -0.1l1.2 -0.1l1.2 -0.2l1.1 -0.6l1.2 0.4l1.1 -0.1l1.2 0.3l1.2 0.2l1.1 -0l1.2 0.6l1.2 -0.4l1.1 0.7l1.2 0l1.1 1.2l1.2 -1.1l1.2 -0.5l1.1 0.2l1.2 0.3l1.2 -0.3l1.1 0.3l1.2 -0.2l1.1 -0.9l1.2 0.4l1.2 0.4l1.1 0l1.2 -0.4l1.2 -1l1.1 -0.3l1.2 -0.4l1.1 -1.5l1.2 1.1l1.2 0.1l1.1 1.1l1.2 -0.8l1.2 0.7l1.1 0.8l1.2 -0.6l1.1 -0.3l1.2 0.6l1.2 0.2l1.1 0.3l1.2 0.8l1.2 -0.8l1.1 0.2l1.2 -1l1.1 -1.1l1.2 0.3l1.2 -0.7l1.1 1.1l1.2 0.7l1.1 -0.1l1.2 -1.6l1.2 -0.6l1.1 -0.3l1.2 1.2l1.2 0.4l1.1 1.3l1.2 0.4l1.1 -0.6l1.2 1l1.2 -0.1l1.1 0.4l1.2 -0.3l1.2 0.5l1.1 0.2l1.2 0l1.1 0.3l1.2 -0.2l1.2 -0.3l1.1 -0.7l1.2 -1.1l1.2 1l1.1 0.3l1.2 -0.7l1.1 0.6l1.2 -0l1.2 -0.1l1.1 0.9l1.2 0.1l1.2 -1.1l1.1 -0l1.2 0.5l1.1 0.3l1.2 -0l1.2 -0.6l1.1 0.1l1.2 -1.1l1.2 0.9l1.1 -0.1l1.2 -0.4l1.1 -0.3l1.2 0.3l1.2 -0.5l1.1 -0.4l1.2 -0.6l1.2 0.4l1.1 -1.7l1.2 -1.6l1.1 -0.5l1.2 0.9l1.2 2.2l1.1 1l1.2 0.2l1.1 -0.1l1.2 0.2l1.2 0.1l1.1 1l1.2 -1.4l1.2 1l1.1 0.8l1.2 0.5l1.1 -0.8l1.2 -0.6l1.2 0.8l1.1 0.1l1.2 -0.1l1.2 -0.6l1.1 -0.1l1.2 -0.5l1.1 1.1l1.2 0.4l1.2 -0.6l1.1 0.5l1.2 -0.2l1.2 -1.2l1.1 0.5l1.2 -0.3l1.1 0.4l1.2 -0.2l1.2 -0.4l1.1 0.1l1.2 0.8l1.2 -0.7l1.1 -0.3l1.2 -0.4l1.1 0.1l1.2 0.9l1.2 0.5l1.1 0.1l1.2 0.1l1.2 0.6l1.1 0.3l1.2 0.3l1.1 -1.1l1.2 -0.6l1.2 0.4l1.1 0.2l1.2 -0.5l1.2 -0.1l1.1 0.4l1.2 -0.2l1.1 -0.5l1.2 0.3l1.2 -0.3" fill="none" stroke="#00a077" stroke-width="10.5" stroke-linejoin="round" stroke-linecap="round"/>
<path d="M1320.4 247.8l1.2 -0.2l1.1 1.8l1.2 -0.5l1.1 -0.4l1.2 -0.2l1.2 -0.6l1.1 -0.4l1.2 0.4l1.2 -0.3l1.1 0.5l1.2 -0.3l1.1 -0.9l1.2 -0.4l1.2 0.1l1.1 -0.6l1.2 0.6l1.2 0.3l1.1 0.8l1.2 -0.4l1.1 0l1.2 0.5l1.2 0.4l1.1 -0.7l1.2 0.9l1.2 -0.6l1.1 0.6l1.2 -0.4l1.1 -0.3l1.2 -0.7l1.2 0.2l1.1 1.5l1.2 -0.7l1.2 0.7l1.1 0.3l1.2 -0.7l1.1 0.4l1.2 0.3l1.2 -0.7l1.1 -0.5l1.2 0.6l1.2 -0.1l1.1 0.9l1.2 -0.4l1.1 -1l1.2 -0.1l1.2 -0.6l1.1 0.7l1.2 0.3l1.2 -0.3l1.1 -0.5l1.2 0.6l1.1 -0.2l1.2 0.6l1.2 -0.7l1.1 -0.1l1.2 -0.2l1.1 -0.4l1.2 1.8l1.2 0.5l1.1 -0.9l1.2 0.2l1.2 -1.3l1.1 0.9l1.2 0.4l1.1 -0.5l1.2 -0.3l1.2 0.2l1.1 0.2l1.2 -0.4l1.2 -0.4l1.1 0l1.2 -0l1.1 0.6l1.2 -0l1.2 0l1.1 -0.9l1.2 0.1l1.2 0l1.1 0l1.2 0.2l1.1 0l1.2 -0.6l1.2 0.9l1.1 0.5l1.2 -0.4l1.2 0.4l1.1 -0.7l1.2 -0.5l1.1 0.2l1.2 1.1l1.2 -0.2l1.1 -0.9l1.2 0.4l1.2 -0.2l1.1 -0.2l1.2 0.4l1.1 -0.8l1.2 -0.5l1.2 -0.1l1.1 1.2l1.2 0.2l1.2 -0.2l1.1 -0.2l1.2 0.6l1.1 0.7l1.2 -0.6l1.2 0.1l1.1 1.2l1.2 -0.2l1.1 -0.6l1.2 -0l1.2 -0.2l1.1 0.2l1.2 0l1.2 -0.5l1.1 -0l1.2 0.2l1.1 -0.5l1.2 0.2l1.2 -0.5l1.1 0.9l1.2 0.7l1.2 -0.9l1.1 0.4l1.2 -0.1l1.1 -0.1l1.2 -0.3l1.2 0.2l1.1 0.4l1.2 -0.9l1.2 0.7l1.1 -0.3l1.2 -0.6l1.1 0.1l1.2 0.5l1.2 -0.1l1.1 0.2l1.2 -0.3l1.2 -0.2l1.1 0.6l1.2 -0.6l1.1 0.6l1.2 0.1l1.2 -0.3l1.1 -0.2l1.2 -0.1l1.2 0l1.1 0.1l1.2 -0.1l1.1 -0.9l1.2 -0.7l1.2 0.9l1.1 0l1.2 0.1l1.2 0.2l1.1 -0.3l1.2 1.1l1.1 -0.1l1.2 -0.1l1.2 -0.6l1.1 0.7l1.2 0.3l1.1 0.6l1.2 0.1l1.2 -0.9l1.1 -0.8l1.2 1l1.2 -0.6l1.1 0l1.2 0l1.1 0.3l1.2 0.2l1.2 -0.7l1.1 -0.2l1.2 -0.7l1.2 0.8l1.1 0.1l1.2 -0.7l1.1 0.9l1.2 0.1l1.2 -0.5l1.1 -0l1.2 -0.1l1.2 0.3l1.1 0.2l1.2 -0.2l1.1 0.3l1.2 -1.3l1.2 0.3l1.1 0.7l1.2 0.6l1.2 0.3l1.1 -0.8l1.2 -0.8l1.1 0.2l1.2 1.4l1.2 -0.1l1.1 -0.7l1.2 -0.8l1.2 0.4l1.1 -0.1l1.2 0.4l1.1 0.1l1.2 -1.3l1.2 0.4l1.1 0.6l1.2 -0.3l0.7 -0.6l0.5 -0.3l0 -0.3l0.6 1.6l0.5 0.6l0 -0.7l0.5 0.5l0.5 -1l0.2 -0.3l0.3 -0.3l0.5 -0l0.3 0.4l0.3 0.9l0.5 -0.4l0.4 -0.8l0.1 -0.3l0.5 -0.9l0.5 -0.9l0.1 -0.6l0.4 -1l0.6 -1.4l0.1 -0.1l0.4 -2l0.5 -1.6l0.3 -0.8l0.2 -1l0.4 -1.4l0.1 0.2l0.4 1.3l0.1 0.1l0.6 2.6l0.5 1.6l0 -0.7l0.5 1.4l0.2 0.8l0.3 0.8l0.2 0l0.1 0.4l0.2 1.7l0.3 0.1l0.2 -0.2l0.3 -0.5l0 -1.1l0.3 0.5l0.2 -0.1l0.3 0.1l0.2 -0.3l0.2 0.4l0.1 0.5l0.2 -0.9l0.3 -1l0.3 0l0.2 0.3l0.1 -0.1l0.2 -0.5l0.2 -1.7l0.3 -1.2l0.3 -0.7l0.1 -0.8l0.1 -0.7l0.3 -1.7l0.2 -2l0.3 -3.1l0.2 -3.9l0.1 -1.2l0.2 -3l0.3 -4.5l0.5 -10.6l0.1 -3.2l0.4 -8.8l0.5 -12l0.3 -5.3l0.2 -3.7l0.5 -3.5l0 0.3l0.5 4.5l0.1 1.2l0.5 10.4l0.5 11.5l0 2l0.5 10l0.5 10l0.2 3l0.3 6.2l0.6 5.4l0.3 1.8l0.2 0.7l0.5 2.7l0.4 1l0.1 0.3l0.5 1.5l0.5 1.5l0.1 -0.6l0.5 1.4l0.5 -0.8l0.1 1.4l0.4 -0.3l0.5 0.1l0.3 -0.1l0.2 0.4l1 0.3l1.1 0.2l1.2 -0.1l1.2 0l1.1 0.1l1.2 -0.6l1.1 -0.5l1.2 -0.1l1.2 1.1l1.1 0.8l1.2 -0.4l1.2 0.8l1.1 -0.2l1.2 -0.1l0.2 -0.9l0.5 0.5l0.4 0.6l0.1 0.7l0.5 -1l0.6 -0.4l0 0.2l0.5 -0.3l0.5 -1.1l0.2 -0.2l0.3 -0.2l0.5 -1.6l0.3 -1.8l0.2 -0.8l0.6 -5.3l0.4 -4.4l0.1 -1.3l0.5 -6.7l0.5 -5l0.1 0.4l0.3 -1.6l0.1 -0.2l0.5 3.8l0.2 1.9l0.3 2.7l0.6 6.3l0.3 3.3l0.2 1.9l0.5 3.3l0.4 2.9l0.1 0.5l0.5 2.4l0.5 0.3l0.1 0l0.5 -0l0.5 0.9l0.2 0.6l0.3 0.6l0.5 0.2l0.3 -0.7l0.2 0.4l1 -0.6l1.1 -0.2l1.2 0.1l1.2 1.3l1.1 -0.7l1.2 -0.5l1.2 0.3l1.1 0.7l1.2 0.1l1.1 0l1.2 -0.6l1.2 -0.2l1.1 0.8l1.2 -0.2l1.2 -0.4l1.1 -0.2l1.2 0.8l1.1 0.7l1.2 -0.3l1.2 -0.8l1.1 0.8l1.2 -0.6l1.2 -0.1l1.1 0.2l1.2 -0.2l1.1 -0.1l1.2 0.8l1.2 -0.2l1.1 -1l1.2 -0.1l1.2 0.8l1.1 -0.2l1.2 -0.6l1.1 0.7l1.2 0.1l1.2 -0.1l1.1 0.2l1.2 -0.4l1.2 0.1l1.1 0.2l1.2 -0.4l1.1 0.7l1.2 -0.8l1.2 1.1l1.1 -0.3l1.2 -0.1l1.2 -0.8l1.1 0.5l1.2 -0.5l1.1 0.4l1.2 -0.1l1.2 -0.4l1.1 1l1.2 -0.1l1.1 -0.5l1.2 -0.2l1.2 0.2l1.1 0l1.2 0.4l1.2 -0.4l1.1 0.1l1.2 -0.3l1.1 -0.3l1.2 0.6l1.2 -0.5l1.1 -0.6l1.2 0.7l1.2 -0.2l1.1 0.4l1.2 0.3l1.1 0l1.2 -0.2l1.2 0.3l1.1 -1.4l1.2 0.1l1.2 -0.3l1.1 0.5l1.2 0.2l1.1 0.7l1.2 0.2l1.2 -0.4l1.1 0.1l1.2 0.2l1.2 -0.2l1.1 1.2l1.2 -0.2l1.1 -0.7l1.2 0.4l1.2 -0.2l1.1 -0.6l1.2 -0.2l1.2 -0.9l1.1 0.4l1.2 0.1l1.1 -1.2l1.2 -0.5l1.1 -0l0.1 -0.2l0.4 0.7l0.6 0.2l0.1 0.3l0.4 -0.1l0.5 0.2l0.3 0.1l0.2 0.3l0.5 0l0.5 0.1l0 -0.5l0.6 -0.1l0.5 -0.8l0 0.1l0.5 -0.2l0.5 -0.3l0.2 -0.9l0.3 -0.9l0.5 -1.3l0.3 -1.2l0.3 -0.5l0.5 -1.7l0.4 -1.8l0.1 0.8l0.5 -1.8l0.4 -0.3l0.1 -0.9l0.1 0.7l0.4 1l0.6 1.7l0.1 -0.5l0.4 1.7l0.5 1.8l0.3 1.5l0.2 0.7l0.5 1l0.4 0.7l0.1 0.9l0.6 1l0.5 -0.8l0 -0l0.5 0.7l0.5 -0.1l0.2 0.3l0.3 -0.2l0.5 0.9l0.3 0l0.3 -0.4l0.5 0.4l0.4 -0.2l0.1 0.4l0.5 -1.1l0.6 -1.5l1.1 -0.5l1.2 0.3l1.1 0.3l1.2 -0.7l1.2 1.3l1.1 0.8l1.2 -0.1l1.2 0.2l1.1 0.4l1.2 -0.5l1.1 1l1.2 -0.7l1.2 0.3l1.1 0.1l1.2 -0.1l1.2 -0.3l1.1 0.7l1.2 -0.8l1.1 0.3l1.2 1l1.2 -0.6l1.1 -0.7l1.2 0l1.2 -1.1l1.1 0.3l1.2 0.1l1.1 0.2l1.2 0l1.2 0.8l1.1 0.2l1.2 -0.4l1.2 0.9l1.1 -0.6l1.2 0.9l1.1 -0.5l1.2 -0.5l1.2 -0l1.1 0.9l1.2 -0.2l1.2 -0.1l1.1 -0.9l1.2 0.3l1.1 -0l1.2 -0l1.2 -0.3l1.1 -0.5l1.2 1.1l1.1 -0.5l1.2 0.5l1.2 0.3l1.1 -0.1l1.2 -0l1.2 0.1l1.1 -0.4l0.1 -0.1l0.5 0.1l0.5 0l0.1 -0.2l0.4 -1.4l0.6 0.4l0.1 -0.3l0.4 0.9l0.5 0.4l0.3 -0.3l0.2 -0.2l0.5 -1.8l0.5 -0.6l0 -0.4l0.6 -0.4l0.5 -3.1l0 1l0.5 -2.7l0.5 -3.3l0.2 0.7l0.3 -0.5l0 0.1l0.5 1.7l0.4 0.3l0.2 0.9l0.5 2.7l0.4 2.4l0.1 0l0.5 1.6l0.5 -0.1l0.1 0.6l0.4 0l0.6 0.3l0.1 0.4l0.4 0.6l0.5 -0.4l0.3 0.4l0.2 -0.2l0.5 0.4l0.5 -0.4l0 0.8l1 -0.8l0.1 -0.5l0.4 0.9l0.5 -0.6l0.3 0.4l0.2 0.2l0.5 -1.1l0.5 -0.1l0 -0.1l0.6 -0.1l0.5 -1l0 0.4l0.5 -0.5l0.5 -1.9l0.2 -0.4l0.3 -1.2l0.5 -3.7l0.3 -1.6l0.3 -0.7l0.5 -2.5l0.4 -1.7l0.1 -0.2l0.5 1.9l0.5 3.4l0.1 0.8l0.4 2.8l0.5 3l0.2 0.2l0.4 2l0.5 0.8l0.3 -0.2l0.2 0l0.5 -0.3l0.5 0.3l0 0.3l0.5 0.7l0.6 0.8l0 -0.6l0.5 -0.2l0.5 0.6l0.2 0.5l1.1 0.3l1.2 -0.1l1.2 -0.8l1.1 -0.1l1.2 -0.6l1.2 0.1l1.1 1l1.2 0.8l1.1 -0.5l1.2 0.2l1.2 0.4l1.1 -0.9l1.2 -0.7l1.2 -0.1l1.1 -0.8l1.2 0.9l1.1 0.1l1.2 -0.1l1.2 0.1l0.2 0.3l0.5 -0.1l0.4 -0.7l0.1 0.5l0.5 -0.4l0.5 0.2l0.1 -0.4l0.5 0l0.5 -0.9l0.1 0.3l0.4 -0.2l0.5 0.2l0.3 -1l0.2 -0.7l0.5 -0.9l0.5 -2.7l0.1 0.4l0.5 -2.8l0.5 -3.6l0 -0.2l0.5 -3.3l0.5 -3.3l0.2 0l0.3 -0.8l0 0.3l0.6 1.6l0.3 1.5l0.2 1.3l0.5 4.1l0.4 2.8l0.1 1.2l0.5 2.9l0.5 1.3l0.1 0.6l0.4 -0.4l0.6 2l0.1 -0.6l0.4 -0.2l0.5 1.2l0.3 -0.7l0.2 0l0.5 0.7l0.5 -0.8l0 0.4l0.6 0.9l0.5 -0.3l0 0.9l1.2 -0.5l1.2 0.8l1.1 0l1.2 -0.1l1.1 -0.2l1.2 -0.5l1.2 0.7l1.1 -0.7l1.2 0.2l1.2 0.4l1.1 0.2l1.2 0.2l1.1 -0.6l1.2 -0.6l1.2 0.4l1.1 -0l1.2 0.6l1.2 -1.2l1.1 0.3l0 0.4l0.5 -0.3l0.5 -0.7l0.2 0.4l0.3 0.7l0.5 -0.4l0.3 -0.4l0.2 -0.3l0.6 -0.2l0.4 -0.6l0.1 2.2l0.5 -0.6l0.5 0.2l0.1 0.3l0.4 -1.1l0.5 -0.5l0.2 0.5l0.4 -0.4l0.5 -1.2l0.3 -1.5l0.2 -1l0.5 -0.8l0.5 0.5l0 -0.6l0.5 0.7l0.6 1.5l0 0.1l0.5 0.7l0.5 0.5l0.2 0.6l0.3 0.2l0.5 0.8l0.3 -0.1l0.2 -0.1l0.6 0.1l0.4 -0.2l0.1 0.8l0.5 -0.6l0.5 0.5l0.1 -0.1l0.4 0.4l0.5 -0.8l0.2 0.3l0.4 0.3l0.5 0.8l0.3 0.3l1.2 -0.1l1.1 -0.3l1.2 -0.1l1.1 0.4l1.2 0.4l1.2 -0.2l1.1 0.2l1.2 -1.2l1.1 0.3l1.2 0.6l1.2 -1.1l1.1 -1.8l1.2 -0.8l1.2 -1.3l1.1 2l1.2 0.5l1.1 1.1l1 -0.4l0.2 1l0.4 -0.1l0.5 -0.4l0.3 0l0.2 0.7l0.5 0.5l0.4 -0.3l0.1 -0.5l0.5 0.6l0.6 -0.5l-0 -0.5l0.5 0.7l0.5 -1.4l0.2 0.1l0.3 0.5l0.5 -0.7l0.3 -0.6l0.2 -0.2l0.6 -2l0.4 -1.3l0.1 -0.3l0.5 -1.2l0.5 -1.6l0 -0.3l0.5 -0.7l0.4 -0l0.1 -1.1l0.2 1.4l0.4 0.2l0.5 0.9l0.3 1.7l0.2 -0.9l0.5 1.3l0.4 1.7l0.1 0.1l0.5 0.7l0.6 1l-0 1.1l0.5 0.4l0.5 0.6l0.2 0.3l0.3 -0.2l0.4 -0l0.1 -0.5l0.3 0.3l0.1 0.4l0.1 -0.3l0.4 -0l0.2 0.2l0.3 -0.1l0.1 0.1l0.1 -1l0.4 0.5l0.1 -0.7l0.4 0.6l0.1 0.1l0 -0.2l0.4 -0.5l0.1 0.8l0.4 -0.3l0.3 -0.2l0.2 -0.9l0.5 1l0.5 -0.7l0.1 -0.4l0.5 0.1l0.5 -0.8l0 -1.4l0.5 -1l0.5 -0.7l0.2 -0.8l0.3 -1.7l0.6 -1.4l0.3 -0.6l0.2 -1.2l0.4 -0.6l0.1 -0.1l0.4 0.5l0.1 -0.2l0.5 1.7l0.5 2.7l0.1 -0.6l0.5 2.6l0.5 1.9l0.1 0.7l0.4 0.9l0.5 0.3l0.3 -0.4l0.2 1l0.5 0.4l0.5 0.4l0.1 0.4l0.5 -0.7l0.5 0.2l0 0.1l0.5 -0.4l0.5 -0.1l0.2 0.3l0.3 0.4l0.6 0.7l0.3 0.2l0.2 0.5l0.9 -0.7l1.2 0l1.1 -0.1l1.2 -0.2l1.2 -0.3l1.1 0.8l1.2 0.5l1.2 -0.3l1.1 -1.6l1.2 -0.2l1.1 0.1l1.2 1.2l1.2 0.5l1.1 -0.4l1.2 0.3l1.1 -0l1.2 -0.3l1.2 -0.1l1.1 -0.5l1.2 -0.3l1.2 0.2l1.1 -0.3l1.2 0.5l1.1 -0l1.2 -0.3l1.2 0.4l1.1 -0.3l1.2 0l1.2 -0.2l1.1 0.6l1.2 0.1l1.1 -0.1l1.2 -0.1l1.2 0.3l1.1 -0.2l1.2 -0.9l1.2 1.3l1.1 -0.1l1.2 0.3l1.1 -0.6l1.2 -0.7l1.2 -0.2l1.1 0.7l1.2 -0.1l1.2 0.1l1.1 -0.1l1.2 -0.6l1.1 1.2l1.2 -0.6l1.2 -0.3l1.1 -0.3l1.2 0.6l1.2 0.7l1.1 -0l1.2 0.1l1.1 -0.3l1.2 0.6l1.2 -0.2l1.1 -0l1.2 -0.7l1.2 0.6l1.1 0.2l1.2 -0.5l1.1 -0.4l1.2 0.3l1.2 -0.7l1.1 0.3l1.2 -0.3l0.9 -0.3l0.2 0.8l0.3 -0.5l0.5 -0.7l0.4 1.2l0.1 -0.3l0.5 0.6l0.5 -0.2l0.1 -0.6l0.5 -0.6l0.5 0.2l0.1 0.4l0.4 -0.3l0.5 -0.1l0.3 -0.3l0.2 0.2l0.5 -0l0.5 -0.3l0.1 -1l0.5 -0.4l0.5 -0.5l0 0.1l0.5 -1.4l0.5 -0.8l0.2 -0.6l0.3 -1l0.6 -0.1l0.2 -0.6l0.3 0.7l0.4 0.3l0.1 -1.1l0.4 0.6l0.1 -0.5l0.5 1.5l0.5 1.6l0.1 0.6l0.5 1.2l0.5 -0.2l0.1 0.4l0.4 -0.3l0.5 1.1l0.3 0.7l0.2 0l0.5 0.7l0.5 -0.4l0.1 -0.2l0.5 -0.3l0.5 -0.5l0 0.6l0.5 0.4l0.5 -0.3l0.2 -0.1l0.3 -0.4l0.6 0.9l0.2 0.5l0.3 -0.3l0.5 -0l0.4 -0.1l0.1 -0.3l1.1 0.5l1.1 0.6l1.2 -1.1l1.2 0.7l1.1 -0.4l1.2 0l1.1 -0.5l1.2 0.2l1.2 0.2l1.1 0.1l1.2 1.3l1.2 -0.7l1.1 -0.7l1.2 -1.2l1.1 -1l1.2 0.4l1.2 1.4l1.1 0.7l1.2 0.4l1.2 -1.1l1.1 0.4l1.2 -0.2l1.1 0.5l1.2 -0.2l1.2 0.5l1.1 -0.1l1.2 0.4l1.2 -1.1l1.1 0.8l1.2 -0.6l1.1 1l1.2 -0.8l1.2 0.2l1.1 -0.4l1.2 0.3l1.1 0.7l1.2 -0.6l1.2 0.3l1.1 0.4l1.2 -0.7l1.2 0.5l1.1 -0.3l1.2 0.3l1.1 -0.6l1.2 1.6l1.2 -0.5l1.1 -1.3l1.2 0.4l1.2 -0.1l1.1 -0.7l1.2 0.2l1.1 -0.4l1.2 0.5l1.2 -0.3l1.1 -0.3l1.2 0.2l1.2 -0.2l1.1 -1.1l1.2 -1.1l1.1 -0.7l1.2 1l1.2 1.9l1.1 1.1l1.2 0.5l1.2 0.6l1.1 -1.2l1.2 0.5l1.1 -1l1.2 -0.1l1.2 -0.1l1.1 0.6l1.2 0.8l1.2 -0.5l1.1 -1l1.2 0.8l1.1 -0.1l1.2 -0.7l1.2 1.3l1.1 -0.3l1.2 -0.6l1.1 -1.2l1.2 -1.9l1.2 -0.9l1.1 0.5l1.2 2.1l1.2 0.3l1.1 0.8l1.2 1l1.1 -0.6l1.2 0.6l1.2 -0.4l1.1 0.6l1.2 0.5l1.2 0l1.1 -0.3l1.2 -0.5l1.1 -0.3l1.2 0.3l1.2 0l1.1 -0.4l1.2 0.2l1.2 -0.4l1.1 0.9l1.2 0.3l1.1 -0.2l1.2 0.4l1.2 -0.4l1.1 0.6l1.2 -0.3l1.2 -0.9l1.1 -0.8l1.2 1.3l1.1 -0.9l1.2 0.2l1.2 0.6l1.1 -0.2l1.2 -0.4l1.2 0l1.1 0.3l1.2 0.1l-0 0.2l0.5 -0.6l0.5 0.7l0.1 -0l0.4 0.2l0.5 0.2l0.3 -0.1l0.2 -0.9l0.6 -0.3l0.4 -0.3l0.1 -0.2l0.5 -0l0.5 -0.6l0 0.5l0.5 0.2l0.5 0.5l0.2 -0.4l0.4 0.6l0.5 -0.7l0.3 -0.6l0.2 -0.3l0.5 -0.1l0.4 -0.5l0.1 -0.4l0.5 -1.2l0.6 -1.2l-0 -0.7l0.5 -0.4l0.4 -0.2l0.1 1l0.1 -0.3l0.4 0.9l0.5 0.4l0.3 0.2l0.2 0.7l0.5 -0.4l0.5 0.1l0.1 1.6l0.5 0.8l0.5 0.6l0 -0.2l0.5 0.4l0.5 0.2l0.2 -0l0.3 0.2l0.6 0.2l0.2 0.3l0.3 -0.6l0.5 -0.1l0.4 1l0.1 -0.4l0.5 0.2l0.5 -0l0.1 -0.3l0.5 0.9l0.5 -0l0.1 -1.2l0.4 0.7l0.8 -0.7l1.2 -0.7l1.1 0.1l1.2 0.8l1.1 -0.7l1.2 0.8l1.2 -0.3l1.1 0.8l1.2 0.2l1.2 -0.6l1.1 -1.1l1.2 0.5l1.1 -0.8l1.2 1l1.2 -0l1.1 0.8l1.2 -0.4l1.2 -0.5l1.1 0.5l1.2 -0.5l1.1 0.3l1.2 0l1.2 -0.2l1.1 -0.5l1.2 0.7l1.2 0.9l1.1 -0.4l1.2 -0.5l1.1 -0l1.2 -0.5l1.2 -0.6l1.1 1l1.2 0.3l1.2 -0.2l1.1 1l1.2 -0.3l1.1 -0.2l1.2 0.4l1.2 -0.6l1.1 0.2l1.2 0.1l1.2 0.2l1.1 -0l1.2 0.5l1.1 -0l1.2 -0l1.2 -0" fill="none" stroke="#ff2a8c" stroke-width="10.5" stroke-linejoin="round" stroke-linecap="round"/>
<path d="M1320.4 315.3l1.2 -1l1.1 0.1l1.2 -0.2l1.1 -0.4l1.2 -0.1l1.2 -0.1l1.1 0.2l1.2 0.4l1.2 0.5l1.1 -0.1l1.2 0.4l1.1 -0.1l1.2 -0.2l1.2 -0.4l1.1 -0.5l1.2 -0.7l1.2 0.4l1.1 0.2l1.2 0.3l1.1 0.2l1.2 -0.6l1.2 -0.1l1.1 -0.3l1.2 0.9l1.2 -0.1l1.1 0.1l1.2 -0.4l1.1 -0.5l1.2 0.1l1.2 0.3l1.1 0.4l1.2 -0.7l1.2 0.5l1.1 -0.3l1.2 -0l1.1 0.1l1.2 -0l1.2 0.4l1.1 0.5l1.2 0l1.2 -0.4l1.1 0.2l1.2 0.1l1.1 0.3l1.2 -0.1l1.2 -1l1.1 -0.1l1.2 0l1.2 0.7l1.1 -0.1l1.2 0.5l1.1 -0.1l1.2 -0.7l1.2 0.1l1.1 0.4l1.2 0.1l1.1 -0.8l1.2 0.4l1.2 -0.2l1.1 -0.9l1.2 0.2l1.2 -0.6l1.1 0l1.2 1.4l1.1 1.3l1.2 0.1l1.2 -0.3l1.1 0.6l1.2 -0.4l1.2 -0.9l1.1 -1.3l1.2 0.9l1.1 -1l1.2 -0.9l1.2 0.5l1.1 0.7l1.2 -0.1l1.2 0.9l1.1 0l1.2 0.2l1.1 0.2l1.2 -0.4l1.2 0.1l1.1 1.2l1.2 -0.9l1.2 -0l1.1 0.1l1.2 -0.4l1.1 -0l1.2 -0.8l1.2 0.1l1.1 0.3l1.2 0.7l1.2 0.4l1.1 -0.6l1.2 -0.6l1.1 1.2l1.2 0.2l1.2 -1.3l1.1 -0l1.2 -0.3l1.2 0l1.1 -0.6l1.2 0.4l1.1 0.1l1.2 0.2l1.2 0.8l1.1 0l1.2 -0.6l1.1 -0.7l1.2 0.2l1.2 0.9l1.1 0.5l1.2 -0.5l1.2 0.6l1.1 0l1.2 -0.5l1.1 0.2l1.2 -0.1l1.2 -0.6l1.1 -0.1l1.2 0.3l1.2 0.8l1.1 -0.7l1.2 0.2l1.1 -0l1.2 -0.1l1.2 -0.6l1.1 0.9l1.2 0.6l1.2 0.4l1.1 -0.2l1.2 0.3l1.1 -0.3l1.2 0.1l1.2 -0.6l1.1 -0.1l1.2 -0.3l1.2 -0.6l1.1 -0l1.2 -0.4l1.1 -0.2l1.2 0.2l1.2 0.1l1.1 1.3l1.2 0.7l1.2 0l1.1 -0.1l1.2 -0.9l1.1 0.1l1.2 -0.9l1.2 -0.1l1.1 0l1.2 0.1l1.2 0.7l1.1 -0.5l1.2 1.4l1.1 -0.7l1.2 0.3l1.2 -1l1.1 0.6l1.2 -0.7l1.1 0.3l1.2 0l1.2 0.5l1.1 0.2l1.2 -0l1.2 -0.3l1.1 0.9l1.2 -0.7l1.1 -0.2l1.2 -0.3l1.2 0.1l1.1 -0.5l1.2 -0l1.2 0.4l1.1 -0.3l1.2 0.4l1.1 -0.3l1.2 0.8l1.2 -0.3l1.1 0.8l1.2 -0.2l1.2 -0.4l1.1 0.3l1.2 0.3l1.1 0.3l1.2 0.2l1.2 -0.2l1.1 -1.2l1.2 0.4l1.2 -0.3l1.1 0.1l1.2 0.5l1.1 -0.7l1.2 0.5l1.2 0.9l1.1 -0.4l1.2 -0.6l1.2 0.4l1.1 -0.4l1.2 0.3l1.1 0.2l1.2 -1.3l1.2 0.2l1.1 -0.9l0.2 -0.1l0.5 0.6l0.5 -0.6l0.5 -0.1l0.5 0.1l0.2 0.4l0.3 0.3l0.6 0.1l0.2 -0.3l0.3 -0.4l0.5 0.4l0.4 -0.5l0.1 -0.2l0.5 0.5l0.1 -0.4l0.4 -0.3l0.1 0.8l0.5 -0.2l0 -1.2l0.5 -0.1l0 1.4l0.1 1.2l0.4 -1l0 0l0.5 -0.3l0.1 -0.2l0.2 -1.3l0.2 0.4l0.1 0l0.4 -0.7l0.1 -0.8l0.3 -0.5l0.2 0.1l0 0l0.5 -0.3l0 -0.2l0.5 -0.1l0 0.1l0.5 -1.5l0.1 -0.3l0.4 -0.2l0.1 -0.3l0 0.7l0.4 -0.8l0.1 0.1l0.3 0.1l0.2 -0.7l0 0.7l0.2 -0.2l0.3 -0.3l0 -0.2l0.5 -0.2l0 -0.2l0.4 1.7l0.1 0.1l0.1 -0.1l0.4 0.7l0.1 0.4l0.4 -0l0.1 -0l0.5 0.6l0 0.5l0.5 0.1l0 0.7l0.1 -0.5l0.4 -0.4l0 -0.7l0.5 0.1l0.1 0.4l0.2 -0.3l0.2 -0.2l0.1 -0.5l0.4 -0.4l0.1 -0.1l0.3 -0.1l0.2 0.5l0 0.1l0.5 -0.4l0 0.3l0.5 -1.4l0 0.5l0.5 -1.1l0.1 -0.9l0.4 -0.9l0.1 0.1l0 -0.7l0.4 1l0.1 -0.3l0.5 -0.2l0 -0.9l0.2 0l0.3 0l0 -0.4l0.4 0.2l0.1 0.1l0 0.2l0.4 -0.5l0.1 0.5l0.1 -0.1l0.4 0.1l0.1 -0.8l0.4 1l0.1 0.3l0.5 2.3l0.5 -0.1l0.1 1l0.4 1.1l0.6 0.6l0.2 0.1l0.3 0.4l0.5 -0.3l0.3 1.3l0.2 -0.2l0.5 0.1l0.5 0.5l0 -1.2l0.6 0.3l0.5 0.3l0 -0.2l0.5 1.2l0.5 1.3l0.2 -0.1l0.3 -0.2l0.5 0.3l0.4 -0.2l0.1 0.2l0.6 0.2l0.4 -0.1l0.1 -0.2l0.5 0.2l0.5 0.1l0.1 0.3l0.4 -0.8l0.5 -0.3l0.3 0.1l0.3 0.6l0.5 -0.6l0.3 1l0.2 0.6l0.5 -0.6l0.5 0.5l0 -1.3l0.5 0.2l0.6 -0.6l0 1l0.5 0.4l0.7 0.2l1.2 -0.5l1.1 -0.6l1.2 0.4l1.2 -0.3l1.1 0.4l1.2 -1l0.2 0.4l0.5 0.3l0.4 -1.3l0.1 -0.3l0.5 0l0.6 -0.1l0 -0.5l0.5 0.3l0.5 -0.7l0.2 0.1l0.3 -1.3l0.5 -1.6l0.3 -0.5l0.2 -1.8l0.6 -3.5l0.4 -3.5l0.1 -0.6l0.5 -7l0.5 -4l0.1 -1l0.3 -1l0.1 0.3l0.5 2.5l0.2 2l0.3 2.3l0.6 6.5l0.3 3.5l0.2 1.7l0.5 3.7l0.4 2.6l0.1 0.5l0.5 0.7l0.5 1.1l0.1 0.5l0.5 0.1l0.5 0.2l0.2 -1.3l0.3 -0.3l0.5 0.9l0.3 -0.4l0.2 0.9l1 0.8l1.1 -0.5l1.2 -0.4l1.2 0.3l1.1 0.4l1.2 0.5l1.2 -0.2l1.1 0l1.2 -0.5l1.1 0.4l1.2 -0.3l1.2 0.7l1.1 0.2l1.2 -1l1.2 0.4l1.1 -0.5l1.2 0.8l1.1 -0.6l1.2 0.8l1.2 0.4l1.1 0.7l1.2 -0.4l1.2 -0.4l1.1 0.4l1.2 -1l1.1 -0l1.2 -0.2l1.2 0.1l1.1 -0.8l1.2 -0.4l1.2 -0.4l1.1 1.4l1.2 -0l1.1 0.4l1.2 -0.1l1.2 -0.1l1.1 0.7l1.2 -1.4l1.2 0.2l1.1 -0.1l1.2 -0.2l1.1 -0.4l1.2 -0.3l1.2 0.1l1.1 1.1l1.2 -0.1l1.2 -0l1.1 0.1l1.2 0.5l1.1 0.5l1.2 -0.1l1.2 -0.2l1.1 0.1l1.2 -0.5l1.1 0.1l1.2 0.9l1.2 -0.7l1.1 -0.5l1.2 -0.6l1.2 0.4l1.1 0.5l1.2 -0.2l1.1 -0.1l1.2 0.7l1.2 -0.1l1.1 0.2l1.2 -0.4l1.2 0.6l1.1 0.2l1.2 -0.5l1.1 -0.5l1.2 1.2l1.2 -1.2l1.1 -0.8l1.2 -1.4l1.2 0.9l1.1 0.6l1.2 0.3l1.1 -0.5l1.2 0.4l1.2 -0.1l1.1 -0.3l1.2 0.3l1.2 0.5l1.1 -0l1.2 -0.2l1.1 0.6l1.2 0l1.2 -0.2l1.1 0.3l1.2 0.1l1.2 0.3l1.1 0.2l1.2 0l1.1 -0.6l1.2 0.5l1.2 0.2l1.1 -0.6l1.2 0.5l1.2 -0.3l1.1 -0.7l1.2 0l1.1 -0.5l1.2 0.8l1.2 -0.7l1.1 1l1.2 -0.6l1.1 -0l1.2 0.7l1.2 -0l1.1 -1l1.2 0.1l1.2 -0.8l1.1 0.8l1.2 -0.3l1.1 0.2l1.2 0.1l1.2 -0.6l1.1 0.6l1.2 1l1.2 -0.7l1.1 -0.3l1.2 0.4l1.1 0.6l1.2 -0.7l1.2 0.1l1.1 0.2l1.2 0.4l1.2 -0.6l1.1 1.2l1.2 0.5l1.1 -1.4l1.2 -0.5l1.2 0.3l1.1 -0.4l1.2 -0.1l1.2 0.1l1.1 -0.2l1.2 -0.1l1.1 0.3l1.2 -0.1l1.2 0.4l1.1 0.5l1.2 0.3l1.2 -0.3l1.1 0.8l1.2 -0.7l1.1 0.2l1.2 0.6l1.2 -0.5l1.1 0l1.2 -0.6l1.2 -0.4l1.1 0.1l1.2 0.2l1.1 0.1l1.2 0.2l1.2 -0.1l1.1 -0.2l1.2 -0.4l1.1 -0l1.2 0.1l1.2 -0.1l1.1 -0.5l1.2 0.8l1.2 0.4l1.1 -0.2l0.1 -0.5l0.5 0.5l0.5 -0.5l0.1 -0.2l0.4 0.2l0.6 -0.4l0.1 0l0.4 -0.3l0.5 0.2l0.3 -0.1l0.2 0.1l0.5 -0.6l0.5 -0.9l0 -0.2l0.6 -1.4l0.5 -2.8l0 -0.8l0.5 -2l0.5 -1.8l0.2 -0.5l0.3 0.5l0 0l0.5 1.6l0.4 1l0.2 0l0.5 1.8l0.4 2.6l0.1 0.3l0.5 1.1l0.5 1.6l0.1 0.7l0.4 0.2l0.6 0.5l0.1 -0.5l0.4 -0.6l0.5 -0.6l0.3 0.9l0.2 -0.7l0.5 0.1l0.5 0.3l0 0.4l1 -0.9l0.1 0.2l0.4 -0.1l0.5 0.9l0.3 -0.2l0.2 -0.4l0.5 0.9l0.5 -0.3l0 0.1l0.6 -0.3l0.5 -0.7l0 0.2l0.5 -1.3l0.5 -1.9l0.2 -0.6l0.3 -0.7l0.5 -2.8l0.3 -1.2l0.3 -1l0.5 -2.6l0.4 -0.5l0.1 -0.1l0.5 1.3l0.5 2.5l0.1 0.2l0.4 2.6l0.5 2.9l0.2 1.2l0.4 1.2l0.5 0.7l0.3 0.1l0.2 0.1l0.5 -0l0.5 0.2l0 -0.1l0.5 0.2l0.6 -1l0 0.5l0.5 0.6l0.5 -0.4l0.2 1.2l1.1 -0.1l1.2 -0.3l1.2 0.7l1.1 -0.7l1.2 1.4l1.2 -0.8l1.1 0.3l1.2 0.4l1.1 -0.1l1.2 -0.3l1.2 -0.7l1.1 -0l1.2 0.1l1.2 0.4l1.1 -1.3l1.2 0.6l1.1 -0.5l1.2 -0l1.2 0.2l1.1 -0.2l1.2 0.5l1.1 -0.8l1.2 0.2l1.2 -1l1.1 -0.9l1.2 -0.7l1.2 -0.1l1.1 1.6l1.2 2l1.1 -0.2l1.2 -0.4l1.2 0.9l1.1 0.7l1.2 -1.4l1.2 -0.1l1.1 -0.2l1.2 0.3l1.1 0.1l1.2 -0.4l1.2 0l1.1 0.8l1.2 -0.5l1.2 0.2l1.1 0.3l1.2 0.8l1.1 -0.2l1.2 -0.2l1.2 -0.7l1.1 0.1l1.2 0.6l1.2 -0.1l1.1 0.3l1 -0.6l0.2 0.2l0.3 -0.4l0.5 -0.4l0.3 -0.3l0.2 0.7l0.6 0.1l0.4 -0.4l0.1 -0.2l0.5 0.2l0.5 -0.6l0.1 0.5l0.4 -0.5l0.5 -1.3l0.2 -0.4l0.4 -1.3l0.5 -2l0.3 -1l0.2 -0.7l0.5 -1.5l0.5 -0.7l0 -0l0.5 1.4l0.6 1.2l0 -0.7l0.5 3.2l0.5 1.6l0.2 0.6l0.3 1.2l0.5 1l0.3 0.6l0.2 0.1l0.6 0.1l0.4 -0.1l0.1 -0.4l0.5 -0.1l0.5 -1.8l0.1 1.5l0.4 0l0.5 -0.4l0.2 0.8l1.2 -0.3l1.2 0.3l1.1 -0.5l1.2 -0.3l1.1 0.8l1.2 0.1l1.2 -0.8l1.1 0.5l1.2 0.5l1.1 -0.4l1.2 0.2l1.2 0.1l1.1 -0.3l1.2 -0.7l1.2 -0l1.1 0.9l1.2 0.1l1.1 -0.2l1.2 -0.1l1.2 1.6l1.1 -1.2l1.2 -0.2l1.2 -1.2l1.1 -0.2l1.2 -0.7l1.1 -0.8l1.2 0.2l1.2 1.3l1.1 0.7l1.2 -0.1l1.2 0.1l1.1 0.2l1.2 -0.2l1.1 0.1l1.2 0.3l1.2 -0.2l1.1 0.5l1.2 -2.1l1.2 -0.7l1.1 0.4l1.2 0.1l1.1 0.2l1.2 1.9l1.2 0.6l1.1 0.1l1.2 0.3l1.2 -0.8l1.1 -0.6l1.2 1l1.1 -0.2l1.2 -0.9l1.2 0.2l1.1 0.9l1.2 -0.7l1.2 -0.7l1.1 -0.7l1.2 0.6l1.1 0.4l1.2 -0.1l1.2 0l1.1 0.2l1.2 -0.1l1.1 -0l1.2 0.7l1.2 0l1.1 0.2l1.2 -1l1.2 -0.1l1.1 0.8l1.2 0.1l1.1 0.5l1.2 -0.9l1.2 0.4l1.1 -0.3l1.2 0.1l1.2 -0.3l1.1 -0.3l1.2 -0.2l1.1 0.3l1.2 0.8l1.2 -0.6l1.1 -0.1l1.2 -0.3l1.2 -0l1.1 0.6l1.2 -0.1l1.1 -0.3l1.2 0.6l1.2 0.2l1.1 0.1l1.2 -0l1.2 -0.4l1.1 0.5l1.2 -0.5l1.1 0.2l1.2 0.1l1.2 0.5l1.1 -0.3l1.2 0.2l1.2 -1l1.1 0.2l1.2 0.2l1.1 0.1l1.2 -1l1.2 0.7l1.1 -0.2l1.2 -0.1l1.2 1l1.1 -0.3l1.2 0.4l1.1 -1.1l1.2 0.6l1.2 0.1l1.1 0.1l1.2 -0.6l1.1 0.3l1.2 -0.1l1.2 0.7l1.1 -0.5l1.2 -0.8l1.2 0.7l1.1 -0.7l1.2 -0.2l1.1 0.2l1.2 0.8l1.2 0.1l1.1 0.4l1.2 -0.1l1.2 -0.1l1.1 -0.2l1.2 0.1l1.1 -0.5l1.2 0.2l1.2 0.6l1.1 -0.1l1.2 -0.3l1.2 0.3l1.1 -0.6l1.2 -0l1.1 1.1l1.2 0l1.2 0l1.1 -0.4l1.2 -0.6l1.2 -0.6l1.1 0.1l1.2 0.5l1.1 -0.6l1.2 0.4l1.2 -0l1.1 0.2l1.2 0.3l1.2 1.3l1.1 -0.5l1.2 -0.9l1.1 0.4l1.2 -0.2l1.2 0.1l1.1 -0.5l1.2 0.5l1.2 -0.5l1.1 0.2l1.2 -0.2l1.1 -0.3l1.2 0.4l1.2 0.2l1.1 -1l1.2 0.6l1.1 0.5l1.2 -0l1.2 0l1.1 0l1.2 0l1.2 -0.3l1.1 0.5l1.2 0.4l1.1 -0.8l1.2 0l1.2 -0.5l1.1 -0.1l1.2 0.7l1.2 -0.1l1.1 0.1l1.2 -0.3l1.1 1.2l1.2 0.1l1.2 -0.3l1.1 -0.3l1.2 0.5l1.2 -0l1.1 -0.7l1.2 -0.7l1.1 -0.9l1.2 1l1.2 0.9l1.1 0.9l1.2 -0.5l1.2 0l1.1 -1.4l1.2 0.4l1.1 -0.4l1.2 -0.3l1.2 -0.1l1.1 -0.2l1.2 0.1l1.2 0.6l1.1 -0.3l1.2 0l1.1 0.1l1.2 1.1l1.2 0.1l1.1 -0.7l1.2 0.2l1.1 0.4l1.2 -0.8l1.2 -0.1l1.1 0.3l1.2 -0.7l1.2 0.3l1.1 0.1l1.2 0.5l1.1 0.5l1.2 -0.5l1.2 -0.9l1.1 0l1.2 0.3l1.2 -0.2l1.1 0.3l1.2 -0.5l1.1 0.6l1.2 0.4l1.2 0.8l1.1 -0.5l1.2 0.3l1.2 -0.7l1.1 -0.4l1.2 -0.3l1.1 0.1l1.2 -0.4l1.2 -0.6l1.1 1.7l1.2 -0.3l1.2 0l1.1 0.1l1.2 -0.2l1.1 -0.1l1.2 0.6l1.2 -0l1.1 0.4l1.2 -0.9l1.2 0.3l1.1 -0.5l1.2 -0.5l1.1 0.6l1.2 0.2l1.2 0.3l1.1 0.1l1.2 -1.2l1.2 0.4l1.1 0.7l1.2 -0.5l1.1 0.1l1.2 0.6l1.2 0.6l1.1 -1.6l1.2 0.1l1.1 0.1l1.2 -0l1.2 0.6l1.1 -0.7l1.2 -1l1.2 0.7l1.1 0.1l1.2 0.8l1.1 0.4l1.2 -0l1.2 0.4l1.1 -1l1.2 -0.1l1.2 -0.6l1.1 1.2l1.2 -0.3l1.1 0.4l1.2 -0l1.2 0.1l1.1 0.2l1.2 0.2l1.2 -0.1l1.1 -0.3l1.2 0.1l1.1 -1.3l1.2 -0.2l1.2 1l1.1 0.1l1.2 -0.8l1.2 -0.4l1.1 -0.3l1.2 0.3l1.1 0.7l1.2 0l1.2 0.4l1.1 -0.7l1.2 0.1l1.2 0.2l1.1 0.2l1.2 0.3l1.1 -0.1l1.2 0.3l1.2 0.3l1.1 -0.1l1.2 -0.9l1.2 -0.3l1.1 -0.2l1.2 1l1.1 0.2l1.2 -0.2l1.2 -0.4" fill="none" stroke="#0a4ba0" stroke-width="10.5" stroke-linejoin="round" stroke-linecap="round"/>
<path d="M1320.4 518.9l1.2 -0l1.1 -0.1l1.2 -0.3l1.1 0.2l1.2 0.1l1.2 0.5l1.1 -0.7l1.2 1.4l1.2 -2.1l1.1 0.4l1.2 0.7l1.1 -0.2l1.2 -0.4l1.2 0.2l1.1 0.4l1.2 0.6l1.2 -1.1l1.1 0.2l1.2 -0.3l1.1 0.7l1.2 -0.4l1.2 0.1l1.1 0.6l1.2 -0.4l1.2 0l1.1 -0.5l1.2 -0.1l1.1 -0.8l1.2 -0l1.2 0.2l1.1 -0l1.2 1.5l1.2 -1.4l1.1 -0.9l1.2 0.8l1.1 0.7l1.2 0.2l1.2 0.6l1.1 0.8l1.2 -0.8l1.2 -0.9l1.1 0l1.2 0.8l1.1 -0l1.2 -0.3l1.2 0.1l1.1 0l1.2 -1l1.2 0.5l1.1 -0.3l1.2 0.1l1.1 -0.1l1.2 0.2l1.2 0.6l1.1 -0.2l1.2 0l1.1 0.5l1.2 -0l1.2 -0.6l1.1 0.4l1.2 -0.3l1.2 -0.2l1.1 0.2l1.2 0.7l1.1 -0.7l1.2 -0.3l1.2 0.2l1.1 -0.4l1.2 0.2l1.2 0.7l1.1 -1.1l1.2 0.3l1.1 -0.3l1.2 1.3l1.2 0.1l1.1 -0l1.2 -0.4l1.2 -0.7l1.1 0.2l1.2 0.2l1.1 0l1.2 0.9l1.2 0l1.1 -0.8l1.2 -0.3l1.2 0.2l1.1 -0.6l1.2 0.1l1.1 -0.2l1.2 0.4l1.2 0.1l1.1 -0.2l1.2 0.8l1.2 -0.5l1.1 0.4l1.2 -0.7l1.1 -0.4l1.2 -0l1.2 0.1l1.1 0.7l1.2 -0.8l1.2 1.1l1.1 -0.7l1.2 0.9l1.1 -0.1l1.2 -0.5l1.2 0.5l1.1 -0.4l1.2 -0.1l1.1 0.1l1.2 1.5l1.2 -1.2l1.1 0.9l1.2 -0.7l1.2 -0.6l1.1 -0.2l1.2 0.7l1.1 -0.3l1.2 -0.5l1.2 0.5l1.1 0.1l1.2 0.4l1.2 -0.8l1.1 0.8l1.2 0.4l1.1 -0.8l1.2 -0.3l1.2 0.3l1.1 -0.3l1.2 0.4l1.2 0.2l1.1 -0.3l1.2 -0.7l1.1 -0.9l1.2 0.7l1.2 -0.4l1.1 1l1.2 0.9l1.2 -0.3l1.1 0.2l1.2 0.3l1.1 0l1.2 -1l1.2 -0.6l1.1 -0l1.2 0.2l1.2 -0.3l1.1 0.3l1.2 0.8l1.1 -0.4l1.2 -0l1.2 -0.6l1.1 0.2l1.2 0.6l1.2 0.6l1.1 -0.3l1.2 -0.6l1.1 1l1.2 -1.5l1.2 -0l1.1 -0.2l1.2 0.3l1.1 0.4l1.2 -0.2l1.2 1.9l1.1 0.4l1.2 -0.4l1.2 -0.9l1.1 -1.1l1.2 0.7l1.1 0.3l1.2 -0l1.2 0.4l1.1 -0.2l1.2 -1.1l1.2 -0.9l1.1 0.2l1.2 0.4l1.1 0.5l1.2 0.2l1.2 -0.2l1.1 -0.4l1.2 0.4l1.2 0.4l1.1 -0.5l1.2 -0.5l1.1 0l1.2 -0.3l1.2 0.4l1.1 -0.4l1.2 0.5l1.2 -0.3l1.1 0.5l1.2 1.3l1.1 -1.1l1.2 0l1.2 1.2l1.1 -0.1l1.2 -0.4l1.2 -0.1l1.1 -0.5l1.2 -0.9l1.1 -1.1l1.2 0.2l1.2 0.3l1.1 1l1.2 0.1l1.2 -0.9l1.1 0.5l1.2 -0.6l1.1 0.8l1.2 -0.7l1.2 0.5l1.1 -0.1l1.2 -0.6l1.1 0.4l1.2 -0.6l1.2 -1.9l1.1 -0l1.2 -1.5l0.3 -0.3l0.5 -0.4l0.4 -0.2l0 -0.2l0.5 -1.9l0.5 -1.9l0.1 -1l0.3 -1.5l0.5 -4.2l0.4 -4.6l0.1 -2.1l0.4 -12l0.5 -20l0.1 -8.6l0.4 -23.1l0.4 -39.1l0.4 -33.3l0.1 -7.1l0.5 -21.4l0.1 -0.7l0.3 10.6l0.2 8.8l0.3 25.9l0.5 41.8l0.3 29.6l0.1 6.2l0.5 24.2l0.5 15.3l0.1 2.5l0.3 5.1l0.5 5.6l0.4 2.8l0 -0.3l0.5 1.4l0.5 2l0.1 -0.3l0.3 1.7l0.5 1.4l0.4 -0.3l1.1 1.1l1.2 1.4l1.2 1l1.1 0l1.2 0.1l1.2 -0.1l1.1 0.5l1.2 0.3l1.1 -0.2l1.2 -0.2l1.2 0l1.1 0l1.2 -0.1l1.2 -0.4l1.1 0.4l1.2 0.6l1.1 0l1.2 0.7l1.2 -0.1l1.1 0.1l1.2 0.2l1.2 -1.4l1.1 0.6l1.2 0.5l1.1 -0.8l1.2 -0.9l1.2 -0l1.1 0.3l1.2 0.5l1.1 -0.7l1.2 0.4l1.2 -0.4l1.1 0.6l1.2 0.1l1.2 0.3l1.1 -0.3l1.2 -0.1l1.1 0.7l1.2 -0.7l1.2 0.2l1.1 -0.2l1.2 0l1.2 -0.2l1.1 0.9l1.2 0.4l1.1 -0.3l1.2 0.9l1.2 -0.4l1.1 0.5l1.2 -1.1l1.2 -0.3l1.1 -0.3l1.2 1.3l1.1 0.1l1.2 -0.5l1.2 -0l1.1 -0.3l1.2 -0.1l1.2 -0.5l1.1 0.7l1.2 0.1l1.1 -0.5l1.2 0.2l1.2 0.5l1.1 -0.1l1.2 -0.3l1.2 0.3l1.1 0.2l1.2 0.8l1.1 -0.8l1.2 -0.1l1.2 -0.2l1.1 -0.3l1.2 0l1.2 -0.7l1.1 -0.2l1.2 -0.3l1.1 0.6l1.2 0l1.2 -0.3l1.1 0.1l1.2 0.6l1.1 -0.1l1.2 -1.3l1.2 1.8l1.1 -0.3l1.2 0.5l1.2 -0.7l1.1 -0.1l1.2 0.2l1.1 0.2l1.2 -0.3l1.2 1.1l1.1 -0.7l1.2 -0.3l1.2 1.2l1.1 -0.3l1.2 -1.2l1.1 0.5l1.2 0.3l1.2 0.6l1.1 0.6l1.2 -0.5l1.2 0.1l1.1 -0.4l1.2 -0.8l1.1 -0.4l1.2 -0.3l1.2 -0.5l1.1 1.3l1.2 -0.4l1.2 -0.6l1.1 0.3l1.2 -0.4l1.1 0.9l1.2 1l1.2 -0.2l0.3 -0.4l0.5 -0.4l0.3 0.2l0.2 0.3l0.6 0.2l0.4 -0.6l0.1 -0l0.5 -1l0.5 0.2l0.1 0.6l0.4 0.2l0.5 -1.2l0.2 -1l0.4 0.9l0.5 -1.2l0.3 -1.1l0.2 -0.5l0.5 -1.8l0.4 -0.9l0.1 0.1l0.5 -1l0 -0.7l0.6 0.7l0 -1.2l0.5 2.6l0.5 1.5l0.2 0.2l0.3 1.4l0.5 1.4l0.3 0.1l0.2 -0.3l0.6 -0.4l0.4 0.1l0.1 0.1l0.2 -0.3l0.3 0.5l0.2 0.5l0.3 -0l0.1 1.3l0.2 -0.4l0.2 0l0.3 1.6l0.2 -0.1l0.2 -0.9l0.1 -0.4l0.2 -0.6l0.3 -0.2l0.5 -0.8l0.1 -0.9l0.4 -1.2l0.6 -0.6l0.1 0.3l0.4 -1.9l0.5 -4.5l0.3 -3.5l0.2 -1.1l0.5 -5l0.5 -4.2l0 -1.2l0.5 -2.2l0.1 0.6l0.5 2.4l0 -0.1l0.5 3.9l0.5 5.9l0.2 2.2l0.3 2.7l0.5 4.5l0.3 0.8l0.3 1.5l0.5 1.1l0.4 0.4l0.1 0.4l0.5 -0.4l0.5 1.1l0.1 -0.5l0.4 -0.1l0.6 0.3l0.1 0.1l0.4 -0.7l0.5 0.2l0.3 -1l0.2 -0.1l0.5 -1.5l0.5 -1.2l0 0.3l0.6 -2l0.5 -2.1l0 0.7l0.4 -0.2l0.1 -0.6l0.5 0.8l0.2 0.4l0.3 2.7l0.5 1.6l0.3 1.5l0.3 0.4l0.5 1.1l0.4 0.3l0.1 -1.3l0.5 0.6l0.5 0.5l0.1 -0.3l0.4 1.2l0.6 -0.1l0.1 -0.1l0.4 -1.2l0.5 1l0.3 0.6l0.2 -0.9l1 -0.5l1.1 1l1.2 -0.7l1.1 0.5l1.2 -0l1.2 0.8l1.1 -0.2l1.2 0.2l1.2 -0.3l1.1 -1.1l1.2 0.3l1.1 1l1.2 -0.3l1.2 0.1l1.1 -0.1l1.2 0.4l1.2 0.1l1.1 0.4l1.2 -0.9l1.1 -1l1.2 0.9l1.2 -0.2l1.1 0.1l1.2 0.9l1.2 -0.5l1.1 0.8l1.2 -0.4l1.1 -1.3l1.2 0.3l1.2 0.2l1.1 0.2l1.2 -0.1l1.2 1.3l1.1 0.3l1.2 -0.1l1.1 -0.8l1.2 -0.3l1.2 0.1l1.1 0.7l1.2 -1.2l1.1 0.7l1.2 0.4l1.2 -0.1l1.1 -0.1l1.2 -0.6l1.2 -0.2l1.1 0.7l1.2 0.1l1.1 0.4l1.2 -0.1l1.2 -0.6l1.1 0.3l1.2 0.6l1.2 0.4l1.1 -0.4l1.2 -1.3l1.1 0.4l1.2 -1l1.2 1.1l1.1 -0.6l1.2 -0.5l1.2 0.8l1.1 0.2l1.2 -0.1l1.1 0.6l1.2 -0.5l1.2 0.2l1.1 -0l1.2 0l1.2 0l1.1 0l1.2 -1.2l1.1 -0l1.2 0.3l1.2 -0.4l1.1 0.7l1.2 -0.3l1.2 -0.5l1.1 0.6l1.2 -0.5l1.1 -0.1l1.2 0.1l1.2 -0.1l1.1 0.3l1.2 0.5l1.2 -0.5l1.1 0.2l1.2 -0.3l1.1 -0.1l1.2 -0.5l1.2 0.3l1.1 -0.4l0.7 -0.3l0.5 -0.4l0.1 -0.2l0.5 0.3l0.5 -0.4l0 -0.6l0.5 0.4l0.5 0.3l0.2 -1l0.3 -0.3l0.6 -2.1l0.3 -1.4l0.2 -0.8l0.5 -5.2l0.4 -6.2l0.1 -1.2l0.5 -9l0.5 -10.4l0.1 -1.5l0.5 -7.9l0.4 -2.1l0.1 -0.2l0.2 0l0.3 4.6l0.5 9.5l0.3 6.4l0.2 4.1l0.5 9.6l0.5 6.4l0.1 1l0.5 3.9l0.5 1.5l0 0.7l0.5 1.5l0.5 -0.3l0.2 1.1l0.3 0l0.6 0.1l0.3 0.4l0.2 0.8l0.5 -0.5l0.4 0.4l1.2 0.8l1.2 -0.4l1.1 0.5l1.2 -0.3l1.1 -0.4l1.2 0l1.2 0.2l1.1 0.6l1.2 0.5l1.2 -0.1l1.1 -0.4l1.2 -0.3l1.1 -0.3l1.2 -1l1.2 0.6l1.1 0.9l1.2 -0.8l1.2 0.2l1.1 0l1.2 -0.1l1.1 -0.5l1.2 -0.5l1.2 0.4l1.1 0.4l1.2 -0.3l1.2 0.6l1.1 -0.1l1.2 0.1l1.1 -0.1l1.2 0.6l1.2 -0l1.1 -0.3l1.2 -0.8l1.2 1.3l1.1 0.1l1.2 0.6l1.1 -1.1l1.2 -0.2l1.2 -0.1l1.1 -0.4l1.2 0.2l1.1 0.1l1.2 0.6l1.2 0.1l1.1 -0.9l1.2 0.5l1.2 -0.2l1.1 0.6l1.2 0.1l1.1 -0l1.2 -0.9l1.2 -0.1l0.3 0.5l0.5 -0.4l0.3 0.3l0.2 -1.1l0.6 -0.4l0.4 0.1l0.1 -0.1l0.5 -0.5l0.5 0.4l0.1 -0.1l0.4 -0.1l0.5 -0.6l0.2 0.2l0.4 -1.8l0.5 -2.2l0.3 -0.5l0.2 -0.1l0.5 -3l0.4 -2.9l0.1 -0.8l0.5 -3.4l0.6 -3l0 -0.8l0.4 0l0.1 -0.6l0.5 0.8l0.2 1.9l0.3 2.3l0.5 3.9l0.3 1.4l0.2 1.7l0.6 2.7l0.4 1.7l0.1 1.1l0.5 1l0.5 1.1l0.1 -0.5l0.4 0.3l0.5 -0.1l0.2 0.5l0.4 0.5l0.5 0.1l0.3 -0.2l0.2 -0.9l0.5 0.1l0.4 1.1l0.1 -0.1l0.5 0.1l0.6 0.5l0 -0.6l0.5 -0.5l0.5 -0.1l0.2 0.3l0.3 0.3l0.5 -0.6l0.3 -1l0.2 -0.4l0.6 -1.1l0.4 -0.9l0.1 -1.3l0.5 -2.5l0.5 -3.7l0.1 -0.2l0.4 -4.4l0.5 -4.4l0.2 -1.8l0.4 -2.5l0.4 -0.1l0.1 -0.9l0.3 1.7l0.2 1l0.5 3.7l0.4 4.6l0.1 0.2l0.5 4.3l0.6 3.1l0 0.8l0.5 1.5l0.5 1.6l0.2 0.2l0.3 1.3l0.5 1.2l0.3 0.5l0.2 -0.5l0.6 0l0.4 -0.4l0.1 0.5l0.5 -0.2l0.5 0.4l0.1 -0.6l0.4 0.5l0.7 1.3l1.2 -0.3l1.1 0l1.2 -0.5l1.2 -0.2l1.1 0.2l1.2 -0.5l1.2 -0.1l1.1 0.7l1.2 -1l1.1 0.7l1.2 -0.6l1.2 0.2l1.1 0.6l1.2 -0.2l1.1 0.8l1.2 -0.6l1.2 0.3l1.1 1.6l1.2 -0.4l1.2 -0.7l1.1 0.3l1.2 0.1l1.1 -0.6l1.2 0.1l1.2 -0.3l1.1 -0l1.2 0.1l1.2 -0.8l1.1 0.3l1.2 0.2l1.1 0.9l1.2 -0.2l1.2 -0.6l1.1 0.5l1.2 0.7l1.2 0.5l1.1 -1.4l1.2 1l1.1 -0.4l1.2 -0.8l1.2 0.8l1.1 -0.1l1.2 -0.7l1.2 0.3l1.1 -0.2l1.2 0.1l1.1 -0.8l1.2 0.4l1.2 0.5l1.1 -0.1l1.2 -0.2l1.2 -0.3l1.1 1.3l1.2 -0.4l1.1 -0.6l1.2 -0.3l1.2 0.4l1.1 0l1.2 -0.6l1.2 0l1.1 0l1.2 0.6l1.1 -0.1l1.2 -0.5l1.2 -1.1l1.1 0.7l1.2 0.2l1.1 -0.7l1.2 -0.1l0.2 -0.1l0.5 0.2l0.5 0.1l0.1 0.5l0.5 -0.6l0.5 -0.4l0 0.5l0.5 -0.3l0.5 -0.4l0.2 -0.8l0.3 0.4l0.6 0.9l0.3 -0.1l0.2 0.2l0.5 -0.2l0.4 0.1l0.1 -0.8l0.5 -1l0.5 -1.8l0.1 -0.3l0.5 -2.1l0.5 -2.1l0.1 -1l0.4 -1.3l0.5 -1.9l0.3 -0.8l0.1 -0l0.1 -0.1l0.5 1.3l0.5 1.4l0.1 0.6l0.5 2.1l0.5 1.7l0 0.8l0.5 2.4l0.5 1.6l0.2 -0.2l0.3 0.3l0.6 0.9l0.3 -0.3l0.2 1.4l0.5 0.4l0.4 0.2l0.1 -0.2l0.5 0.4l0.5 0.4l0.1 -0.7l0.5 -0.4l0.5 0.5l0.1 0.5l0.4 -0.5l0.5 0.5l0.3 0.3l1.2 -0.4l1.1 1.1l1.2 -0.5l1.2 -0.1l1.1 0.3l1.2 -0.2l1.1 -0l1.2 -0.4l1.2 -0.2l1.1 0.1l1.2 -0.9l1.2 1.2l1.1 -0.3l1.2 0.2l1.1 -0.5l1.2 0.4l1.2 -0.1l1.1 0.9l1.2 -1l1.2 0l1.1 -0.9l1.2 0.6l1.1 1l1.2 -0.2l1.2 0.1l1.1 0.6l1.2 -0l1.2 -0.5l1.1 -0.8l1.2 0.3l1.1 -0l1.2 0.2l1.2 -0.8l1.1 -0.1l1.2 1.3l1.1 -0.4l1.2 -0.2l1.2 0.3l1.1 -0.2l1.2 -1.2l1.2 0.7l1.1 0.4l1.2 -0.3l1.1 0.4l1.2 -0.4l1.2 0.2l1.1 -0l1.2 0.3l1.2 0.4l1.1 -0.5l1.2 0.8l1.1 -0.6l1.2 -0.2l1.2 -0.4l1.1 -0.1l1.2 0.9l1.2 -0.8l1.1 -1.1l1.2 -1.4l1.1 -0.9l1.2 1.1l1.2 0.4l1.1 1.3l1.2 -0.2l1.2 0.7l1.1 0.3l1.2 0l1.1 -0.2l1.2 0.7l1.2 -0.4l1.1 -1.5l1.2 -0.1l1.2 0.1l1.1 -1l1.2 -1.2l1.1 -1.4l1.2 -0.8l1.2 1.4l1.1 2.1l1.2 1.1l1.1 -0.3l1.2 1.1l1.2 -0.2l1.1 0.2l1.2 -1.2l1.2 0.8l1.1 0.1l1.2 0.8l1.1 -0.2l1.2 0.9l1.2 -1l1.1 0.5l1.2 -0.9l1.2 0l1.1 -1.8l1.2 0.5l1.1 0.5l1.2 -0.1l1.2 0.3l1.1 0.8l1.2 -0.5l1.2 -0.4l1.1 0.9l1.2 -0.3l1.1 0.3l1.2 0.8l1.2 -0.3l1.1 -0.8l1.2 -0.3l1.2 -0.2l1.1 0.2l1.2 1l1.1 0.2l1.2 -0.3l1.2 0.7l1.1 0.3l1.2 -0.9l1.2 -0.1l1.1 -0.3l1.2 -0.6l1 -0.6l0.1 -0.2l0.4 0.4l0.5 0.2l0.3 1.1l0.2 -0.2l0.5 0.6l0.5 -0.3l0.1 -0.8l0.5 -0.2l0.5 -0.1l0 -0.5l0.5 -0l0.5 -0l0.2 -0.2l0.3 -0.5l0.6 -0.2l0.3 -0.4l0.2 -0.1l0.5 -0.4l0.4 -1.6l0.1 -0.5l0.5 0.4l0.5 -2.1l0.1 -0.4l0.5 -1.3l0.4 0.2l0.1 0l0.1 0.4l0.4 0.5l0.5 1.2l0.3 0.5l0.2 0.1l0.5 1.2l0.5 1.5l0.1 1.3l0.5 0.1l0.5 0.4l0 0.8l0.5 1l0.5 -0.5l0.2 -1.2l0.3 0.5l0.6 0.3l0.2 0.8l0.3 -0.3l0.5 0.7l0.4 -0.8l0.1 0.9l0.5 -0.1l0.5 -0.1l0.1 -0.2l0.5 0.3l0.6 -0.2l1.2 -0.3l1.2 -0.6l1.1 -0.2l1.2 -0.1l1.1 -0.6l1.2 1.1l1.2 -0l1.1 -0.4l1.2 0.8l1.2 -0.2l1.1 0.1l1.2 -0.7l1.1 0.8l1.2 -0.1l1.2 0.4l1.1 -0.7l1.2 0.8l1.2 -0.5l1.1 0.3l1.2 -0.1l1.1 0.2l1.2 0.6l1.2 -1.3l1.1 0.3l1.2 -0.6l1.2 -0.1l1.1 0.9l1.2 -0.5l1.1 -0l1.2 -0.3l1.2 -0.8l1.1 0.3l1.2 0l1.2 1.4l1.1 -0.4l1.2 -0.3l1.1 -0.2l1.2 0.4l1.2 1.1l1.1 -0.4l1.2 -0l1.2 -0.4l1.1 0.9l1.2 -0l1.1 -1.4l1.2 0.7l1.2 -0.6" fill="none" stroke="#00ff00" stroke-width="10.5" stroke-linejoin="round" stroke-linecap="round"/>
<path d="M1582.6 526.5V713.5M1732.4 677.2V713.5M1744 658V713.5M1754.3 676.2V713.5M1875.7 649.8V713.5M1951.9 664.2V713.5M1967.4 665.2V713.5M2057.8 684V713.5M2065.6 671.2V713.5M2144.3 680.2V713.5M2163.7 679.2V713.5M2212.8 686.2V713.5M2224.4 676.6V713.5M2237.3 684.2V713.5M2298 687.2V713.5" fill="none" stroke="#777777" stroke-width="8.5" stroke-linecap="round"/>
<path d="M1581.3 771.2V846M1587.7 778.2V846M1624.6 743V846M1632.9 795.2V846M1639.4 795.2V846M1718.2 789.5V846M1756.9 795.2V846M1786.6 795.2V846M1830.5 771.6V846M1845.5 768.5V846M1858.3 795.2V846M1908 794.5V846M1919 780.5V846M1923.5 793.2V846M1936.4 795.5V846M1944.2 788.2V846M1964.8 795.5V846M1971.9 795.5V846M1993.2 794.2V846M2003.6 794.2V846M2020.4 795.2V846M2028.1 795.2V846M2034.6 795.2V846M2096.6 789.2V846M2108.2 795.2V846M2121.1 795.2V846M2128.8 795.2V846M2148.2 791.8V846M2158.5 790.8V846M2176.6 790.2V846M2220.5 795.2V846M2228.3 795.2V846M2242.5 795.2V846M2252.8 795.2V846M2265.7 795.2V846M2275.4 795.2V846" fill="none" stroke="#930080" stroke-width="8.5" stroke-linecap="round"/>
<text font-size="60.5" font-weight="bold"><tspan x="1900.5" y="121">50%Ce-B-TiO</tspan><tspan x="2271.5" y="134.9" font-size="40.5">2</tspan></text>
<text font-size="60.5" font-weight="bold"><tspan x="1899.5" y="227.2">30%Ce-B-TiO</tspan><tspan x="2271.5" y="241.6" font-size="40.5">2</tspan></text>
<text font-size="60.5" font-weight="bold"><tspan x="1899.8" y="302.5">20%Ce-B-TiO</tspan><tspan x="2271.5" y="317" font-size="40.5">2</tspan></text>
<text font-size="60.5" font-weight="bold"><tspan x="2071" y="484.4">B-TiO</tspan><tspan x="2231.5" y="497.9" font-size="40.5">2</tspan></text>
<text font-size="60.5" font-weight="bold"><tspan x="1901.2" y="647.6">Anatase-TiO</tspan><tspan x="2228.1" y="661.6" font-size="40.5">2</tspan></text>
<text font-size="60.5" font-weight="bold"><tspan x="2123.4" y="776.4">CeF</tspan><tspan x="2230.1" y="791.4" font-size="40.5">3</tspan></text>
<path d="M193.3 1166.9l1.1 -0.1l1.2 -0.6l1.1 0.6l1.2 0.1l1.1 0.1l1.2 -0l1.1 0.7l1.2 0.1l1.1 0.2l1.2 -0.7l1.1 -0.5l1.2 -0.6l1.1 0.1l1.2 -1.3l1.1 1.5l1.1 0.2l1.2 0l1.1 0.5l1.2 -0.4l1.1 0.1l1.2 0.3l1.1 -1l1.2 1.1l1.1 -0.2l1.2 0.2l1.1 -0.8l1.2 -0.3l1.1 1.1l1.2 -0.5l1.1 -0.3l1.1 0.3l1.2 0.7l1.1 -1.6l1.2 1.1l1.1 0l1.2 0.4l1.1 -0.9l1.2 0.3l1.1 0.8l1.2 -0.4l1.1 -0.6l1.2 -0.2l1.1 -0.2l1.2 0.6l1.1 0.1l1.1 -0.4l1.2 0.5l1.1 -0.7l1.2 -0.6l1.1 1.7l1.2 -0.6l1.1 0.8l1.2 -0.4l1.1 -0.3l1.2 0.2l1.1 -0.6l1.2 -0.4l1.1 0.1l1.1 -0l1.2 0.6l1.1 1l1.2 -1.1l1.1 -0.5l1.2 0.6l1.1 0.2l1.2 0.5l1.1 -0.7l1.2 0.3l1.1 -0.2l1.2 -1l1.1 0.6l1.2 -0.8l1.1 0.7l1.1 -0.1l1.2 0l1.1 1.3l1.2 0.5l1.1 -0.4l1.2 -0.2l1.1 -0.7l1.2 0.6l1.1 0l1.2 -0.7l1.1 -0.9l1.2 0.3l1.1 0.2l1.2 0.6l1.1 -0.6l1.1 -0.3l1.2 0.5l1.1 0.1l1.2 0.5l1.1 0.5l1.2 -0.9l1.1 -1.3l1.2 0.6l1.1 -0.1l1.2 0.4l1.1 -1.3l1.2 0.6l1.1 0.5l1.2 -0.1l1.1 0.6l1.1 0.1l1.2 0.1l1.1 0.6l1.2 0.4l1.1 0.2l1.2 -0.3l1.1 -0.3l1.2 -0l1.1 -0.1l1.2 -0.7l1.1 0.3l1.2 0.4l1.1 -0.5l1.2 -0.6l1.1 0.5l1.1 -0.4l1.2 -0.7l1.1 0.3l1.2 -0.5l1.1 0.7l1.2 -0l1.1 0.2l1.2 0.8l1.1 0.4l1.2 -0.4l1.1 -1.4l1.2 0.2l1.1 -0.3l1.2 0.9l1.1 0.9l1.1 0.1l1.2 -0l1.1 -0l1.2 0l1.1 -0.5l1.2 0.3l1.1 -0.4l1.2 -0.7l1.1 0.2l1.2 1l1.1 -0.4l1.2 -1.1l1.1 1l1.2 0l1.1 0.2l1.1 -0.4l1.2 0.2l1.1 0.8l1.2 -0.8l1.1 0.3l1.2 -0l1.1 -0.7l1.2 0.2l1.1 0.3l1.2 -0.6l1.1 0.7l1.2 -0.8l1.1 0.8l1.1 0.1l1.2 -0.1l1.1 -0.6l1.2 -0.3l1.1 -1l1.2 0.5l1.1 0.3l1.2 0.6l1.1 0.5l1.2 -0.1l1.1 -0.3l1.2 0.5l1.1 -0.2l1.2 -0.2l1.1 -0.7l1.1 0.8l1.2 -0.5l1.1 1.1l1.2 -0.8l1.1 -0.3l1.2 0.1l1.1 -0.3l1.2 -0.6l1.1 -0.3l1.2 0.1l1.1 0.3l1.2 0.9l1.1 0.3l1.2 0l1.1 0.3l1.1 -1.4l1.2 -0.1l1.1 0l1.2 -0.2l1.1 0.6l1.2 -0.2l1.1 -0.4l1.2 0.8l1.1 -0.4l1.2 0l1.1 -0.7l1.2 0.8l1.1 0l0.4 0.8l0.5 0.8l0.3 -0.3l0.2 -0.7l0.5 -0.8l0.4 0.9l0.1 -0.5l0.5 0.1l0.5 -0.2l0 -2l0.5 0.5l0.5 0.2l0.2 0.2l0.3 -0.3l0.5 -0.3l0.3 -0.9l0.3 0.2l0.5 -1.4l0.4 -0.9l0.1 0.6l0.5 -2l0.5 -2.9l0 0.1l0.5 -2.6l0.5 -1.1l0.2 0.6l0.2 -1l0.1 0l0.5 0.4l0.3 1.2l0.2 1.1l0.6 2l0.4 1.4l0.1 -0.7l0.5 1.5l0.5 1.4l0 0.8l0.5 -0.2l0.5 1.5l0.2 -0.3l0.3 -0.5l0.5 1.3l0.3 0.2l0.2 -0.6l0.2 0.2l0.3 0.3l0.2 -0.9l0.3 0.8l0 -0.6l0.2 0.5l0.4 -0.6l0.1 -0.9l0.4 -0.2l0 0l0.1 0.3l0.4 -1l0.1 -0.2l0.4 0.2l0.1 -0.2l0.1 -0.1l0.4 -0.4l0.5 -1.9l0.2 0.8l0.3 -2.1l0.6 -2.9l0.2 -2.6l0.3 -1.7l0.5 -7.3l0.4 -7.9l0.1 -1.5l0.5 -11.2l0.5 -13.5l0 0.1l0.5 -12.1l0.5 -9.3l0.2 -1.6l0.2 -1.1l0.1 -0.6l0.5 6l0.3 5.3l0.2 5.1l0.6 13.9l0.4 10.8l0.1 1.1l0.5 10.7l0.5 7.9l0 1.4l0.5 5.2l0.5 4.1l0.2 0.6l0.3 1.6l0.5 2.3l0.3 0.2l0.2 0.6l0.5 0.7l0.5 0.5l0.1 -0.4l0.5 1.4l0.5 -0.5l0 -0.2l0.5 0.5l0.5 0.6l0.2 -0.1l1.1 -0.1l1.2 0.5l1.1 0.1l1.1 0.3l1.2 1.3l1.1 -1.1l1.2 0.4l1.1 0.5l1.2 -0.2l1.1 -0.2l1.2 0.6l0.4 -0.3l0.5 -1.1l0.2 0.1l0.3 0.3l0.6 -0.3l0.3 -0.3l0.2 0.2l0.5 -0.6l0.4 -0.3l0.1 0.3l0.5 -1.6l0.5 -2.6l0.1 0.8l0.4 -2.9l0.5 -5.4l0.2 -2.8l0.3 -4.2l0.5 -7.4l0.3 -3.9l0.3 -2.2l0.4 -2.5l0.1 -0.1l0.4 2.2l0.1 0.9l0.5 7.4l0.5 8.4l0 -0l0.5 6.7l0.5 4.7l0.2 0.5l0.3 1.3l0.5 1.8l0.3 0.9l0.2 0.6l0.5 -0.5l0.5 0.3l0.1 0.6l0.5 0.7l0.5 0.3l0 -0.2l0.5 0.2l0.7 -0.2l1.1 1.1l1.2 0.3l1.1 -0.1l1.2 -0.5l1.1 -0l1.2 0.2l1.1 -0.1l1.1 0.8l1.2 0.7l1.1 -0.1l1.2 -1.1l1.1 0.2l1.2 -0.5l1.1 0l1.2 1l1.1 -1.3l1.2 -0.5l1.1 -0l1.2 0.7l1.1 -0.1l1.2 -0.9l1.1 0.6l1.1 0.6l1.2 0.6l1.1 -0.2l1.2 0.4l1.1 -0.6l1.2 0.4l1.1 0.3l1.2 -0.5l1.1 -0.3l1.2 0.6l1.1 -0.7l1.2 -0.4l1.1 0.2l1.2 0.4l1.1 0.4l1.1 -0.5l1.2 0.2l1.1 -0.5l1.2 -0.5l1.1 1.5l1.2 -0.7l1.1 -0.8l1.2 0.5l1.1 -0.3l1.2 0.6l1.1 -1.3l1.2 -0.1l1.1 1.1l1.2 0.2l1.1 -0.5l1.1 1l1.2 0.3l1.1 -0.5l1.2 0.5l1.1 0l1.2 -1l1.1 -0.3l1.2 0.3l1.1 -0.5l1.2 -0.5l1.1 0.2l1.2 0.8l1.1 0.1l1.2 -0.5l1.1 -1l1.1 1l1.2 0.1l1.1 0.6l1.2 -0.2l1.1 -0.4l1.2 0l1.1 -0.8l1.2 -0.6l1.1 -0.1l1.2 -0.3l1.1 1.6l1.2 0.8l1.1 -0.4l1.2 -0.1l1.1 1.3l1.1 -0.1l1.2 -0.6l1.1 -0.7l1.2 1l1.1 0.4l1.2 -0.8l1.1 0.2l1.2 -0.6l1.1 -0.2l1.2 0.7l1.1 -0.4l1.2 -0.4l1.1 -1l1.1 0.1l1.2 -0.7l1.1 -0.5l1.2 2l-0 -0.6l0.5 -0l0.5 0.4l0.1 -0.1l0.4 0.1l0.5 0.3l0.3 -0.3l0.2 -0.5l0.5 0l0.4 0.7l0.1 -0.1l0.5 0.5l0.5 -0.6l0.1 -0.7l0.4 -0.3l0.6 -0.9l0.1 -0.5l0.4 -0.8l0.5 -0.8l0.3 -0.7l0.2 -0.9l0.5 -2.2l0.4 -1.6l0.1 -0.2l0.5 -1.6l0.4 -1.1l0.1 0.6l0.1 0.4l0.4 1.1l0.5 -0.2l0.2 1.3l0.4 1.6l0.5 0.6l0.3 2.2l0.2 -0.2l0.5 1.5l0.4 1.3l0.1 0.9l0.5 0.3l0.5 0.1l0 -0.8l0.5 0.6l0.5 0.8l0.2 -0.6l0.3 1.1l0.5 -1.5l0.3 0.2l0.3 0.1l0.5 0.3l0.4 0.1l0.1 0.6l0.5 -0.9l0.5 -1.3l1.2 -1.4l1.1 0.6l1.2 1.2l1.1 1.1l1.2 0.6l1.1 0.3l1.2 0.7l1.1 0.1l1.2 -0.8l1.1 -0.2l1.1 0l1.2 0l1.1 0.7l1.2 0.5l1.1 -0l1.2 0.6l1.1 -0.9l1.2 -0l1.1 0.5l1.2 -0.2l1.1 -0.5l1.2 -0.4l1.1 0.7l1.2 0.4l1.1 0.7l1.1 0.5l1.2 -0.6l1.1 -0.7l1.2 -0.7l1.1 -0.1l1.2 1.1l1.1 -0.4l1.2 -0.5l1.1 -0.1l1.2 0.3l1.1 -0.4l1.2 -0.3l1.1 -0.1l1.2 1l1.1 -0.2l1.1 0.2l1.2 0.2l1.1 -1.3l1.2 0.5l1.1 -0.5l1.2 0l1.1 -0.7l1.2 0.9l1.1 0.2l1.2 -0.5l0.3 0.8l0.5 -0.6l0.3 0.8l0.2 -0.3l0.5 1l0.5 -1.3l0 0.2l0.5 -1l0.6 -0.8l0 0l0.5 -0.2l0.5 -1.1l0.2 0.2l0.3 0.1l0.5 -1.9l0.3 -2.3l0.2 -0.2l0.5 -4.4l0.4 -1.4l0.1 -0.7l0.5 -1.6l0 0.2l0.5 1.5l0.1 0.9l0.5 2.8l0.5 2.7l0.1 1.4l0.4 1.1l0.5 1.2l0.3 0.3l0.2 0.2l0.5 1.2l0.4 0.3l0.1 0.7l0.5 -0.6l0.5 0.5l0.1 0.3l0.4 0.2l0.5 0.2l0.2 -1.5l0.4 -0.2l0.5 0.2l0.3 0.6l0.2 0.9l0.5 1.1l0.4 -0.9l0.1 -0.3l0.5 0.3l0.5 -0.6l0.1 0.6l0.4 -0.6l0.5 -0.5l0.2 0.1l0.3 0.2l0.6 -1.5l0.3 -1.7l0.2 -0.1l0.5 -2.4l0.4 -3l0.1 -1.3l0.5 -2l0.4 -0.9l0.1 -0.1l0.1 0.5l0.4 1.8l0.5 3.2l0.2 0.7l0.3 1l0.5 1.6l0.3 0.6l0.2 1.4l0.6 0.2l0.4 0.7l0.1 -0.3l0.5 0.7l0.5 0.3l0 0.2l0.5 1.3l0.5 0.3l0.2 -0.4l0.3 -0.6l0.5 0.5l0.3 -0.1l1.2 0.1l1.1 -0.5l1.2 0.5l1.1 0.3l1.2 0.3l1.1 -0.1l1.2 0l1.1 -0.6l1.1 0.7l1.2 0.1l1.1 0.7l1.2 -0.6l1.1 -0.4l1.2 0.5l1.1 -0.5l1.2 0.2l1.1 -0.2l1.2 -0.2l1.1 -1.1l1.2 0.6l1.1 0.2l1.2 -0.7l1.1 0.9l0.8 -1.2l0.3 0.2l0.3 1.5l0.5 0.1l0.4 -0.8l0.1 0.3l0.5 0.1l0.5 -2.1l0 0.5l0.5 0.1l0.5 0.6l0.2 -0.4l0.3 -1.2l0.5 -0.9l0.3 0.5l0.2 -1l0.5 -1.2l0.5 -2.4l0.1 -1.4l0.5 -3.2l0.5 -3.8l0 -0.2l0.5 -2.7l0.4 -1.5l0.1 0.6l0.2 0.2l0.3 1l0.5 3.2l0.3 2l0.2 1.5l0.5 3.3l0.5 1.7l0 1.5l0.6 1.8l0.5 1l0 -0.8l0.5 1.7l0.5 0.6l0.2 0.5l0.3 -0.2l0.5 0.5l0.3 -0.5l0.2 0.1l0.5 0.8l0.5 0.9l0 -0.6l0.5 -1l0.6 0.3l1.1 0.2l1.2 -0.5l1.1 -0.3l1.2 1.5l1.1 -0.2l1.2 -0.5l1.1 0.2l1.2 -0.8l1.1 -0.7l1.2 0.1l1.1 0.9l0.6 0.6l0.5 -0.1l0.1 0.8l0.4 -1.2l0.5 -0.6l0.2 1l0.4 0.2l0.5 -0.3l0.3 -0l0.2 -0.6l0.5 1l0.4 -0.8l0.1 0.4l0.5 -0.7l0.5 -0.7l0 -0.8l0.5 -0.3l0.5 -0.6l0.2 -0.5l0.3 -1.3l0.5 -1.4l0.3 -1.2l0.3 0.8l0.5 -1.5l0.4 -1.2l0.1 0.6l0.4 -0.2l0.1 0.2l0.5 1l0 -0.3l0.5 -0l0.5 2l0.2 0.6l0.3 0.8l0.5 0.8l0.3 1.1l0.2 0.5l0.6 1.5l0.4 -0.7l0.1 -0.5l0.5 0.8l0.5 0.6l0 -0.3l0.5 0.8l0.5 -0.1l0.2 0.5l0.3 -0.4l0.5 0.1l0.3 0.2l0.2 -0.8l0.5 0.6l0.5 -0.4l0 0.5l1.1 -0.7l1.2 -1l1.1 0.6l1.1 -0.5l1.2 1.6l1.1 -1.2l1.2 -0.3l1.1 0.9l1.2 0.4l1.1 -0.8l1.2 0.4l1.1 -0.4l1.2 -2l1.1 -0.4l1.2 1.1l1.1 1.3l1.2 0.4l1.1 0.5l1.1 -0.7l1.2 0.1l1.1 -0.6l1.2 0.4l1.1 0.7l0.5 -0.7l0.5 0.7l0.2 -0.8l0.3 -1.2l0.5 0.2l0.3 0.5l0.2 0.7l0.6 0.4l0.4 -0.8l0.1 -0.2l0.5 0.5l0.5 -0.1l0 -0.6l0.5 -0.7l0.5 0.3l0.2 -0.2l0.3 -0.3l0.5 -1.3l0.3 -1l0.2 -0.6l0.5 -1.6l0.5 -0.5l0 -0.1l0.6 -1.7l0.5 -3.1l0 0.1l0.4 0.7l0.1 0.1l0.5 1.2l0.2 -0.6l0.3 1l0.5 2.5l0.3 0.7l0.2 2.6l0.5 1.2l0.4 1.2l0.1 1l0.5 -0.2l0.6 0.3l-0 -0.8l0.5 1.1l0.5 -0.5l0.1 -0.5l0.4 0.4l0.1 -0.2l0.4 0.5l0.1 -0.6l0.2 -0.1l0.2 0.2l0.1 0.1l0.4 -0.3l0.1 -0.1l0.3 1.9l0.1 -0.6l0.1 -0.5l0.4 -0.9l0.2 -0.3l0.3 0.9l0.1 0l0.1 0.9l0.5 -0.7l0.5 -0.4l0 0.1l0.5 0.2l0.5 -1l0.2 0.5l0.3 -0.8l0.5 -0.9l0.3 -0.9l0.2 0l0.5 -0.4l0.5 -2l0.1 -1.5l0.5 -2.3l0.5 -0.5l0 0.4l0.4 -0l0.1 0.2l0.5 0.4l0.2 1l0.3 1l0.5 1.1l0.3 0.6l0.2 1.2l0.5 1.8l0.4 0.3l0.1 0.5l0.5 0.5l0.6 -0.3l-0 -0l0.5 0.3l0.5 -0.5l0.1 0.8l0.4 0.5l0.5 0.8l0.3 0.3l0.2 -0.9l0.5 0.1l0.4 0.9l0.1 -0.1l0.5 -0.2l0.5 -0.2l0.1 0.5l1.1 -0.3l1.2 -0l1.1 -0l1.2 -0.4l1.1 -0.8l1.2 -0.5l1.1 1.1l1.2 1.2l1.1 -0.3l1.1 -0l1.2 0l1.1 -0.4l1.2 0.3l1.1 0.3l1.2 -0.6l1.1 -0.9l1.2 0.7l1.1 -0.3l1.2 0.3l1.1 -0.3l1.2 0.7l1.1 0.9l1.2 -1.1l1.1 0.4l1.1 -0.1l1.2 -0.3l1.1 -0.6l1.2 0.1l1.1 -1l1.2 1.3l1.1 0.3l1.2 -0l1.1 0.6l1.2 -0.2l1.1 0l1.2 0.2l1.1 -0.9l1.2 -0.3l1.1 -0.2l1.1 0.2l1.2 0.4l1.1 0.8l1.2 -0.6l1.1 -0l1.2 -0.3l1.1 0.6l1.2 -0.1l1.1 0.4l1.2 0.1l1.1 -0.7l1.2 0.8l1.1 -0.1l1.2 0.1l1.1 -0.7l1.1 0.1l1.2 -0.3l1.1 0.2l1.2 -0.3l1.1 0.5l1.2 -0.8l1.1 0.6l1.2 0.3l1.1 -0.7l1.2 0.2l1.1 0.5l1.2 0.3l1.1 0.4l1.1 -0.2l0.1 -0.5l0.4 0.3l0.5 -0.7l0.2 -0.2l0.4 0l0.5 0.3l0.2 0.6l0.3 0.2l0.5 -0.2l0.4 -0.1l0.1 0.3l0.5 -0.5l0.5 -0.3l0 0.1l0.5 0.6l0.5 -0.3l0.2 -0.7l0.3 0l0.6 -1.3l0.2 0.3l0.3 -0.6l0.5 -1.2l0.4 -0.5l0.1 -0.2l0.5 -1l0.5 -1.8l0 -0.2l0.5 0.2l0.4 -0.6l0.1 -0.9l0.2 0.9l0.3 1l0.5 1.6l0.3 0.7l0.2 -0.2l0.6 0.7l0.4 -0.2l0.1 0.1l0.5 0.2l0.5 0.6l0 -0.3l0.5 0.6l0.5 0.7l0.2 0.1l0.3 0.7l0.5 0l0.3 -0.1l0.2 -0.1l0.5 -0.3l0.5 0.8l0.1 -0.2l0.5 0.1l0.5 -0.2l-0 0.8l0.5 0.6l0.5 -0.2l0.1 -0.7l0.4 -0.8l0.8 0.7l1.1 0.7l1.2 0.1l1.1 -0.8l1.2 -1.3l1.1 1.1l1.2 -0.6l1.1 -0l1.2 0.1l1.1 0.3l1.2 0.6l1.1 0.3l1.1 -0.6l1.2 -0.8l1.1 0.9l1.2 0.3l1.1 -0.4l1.2 0.9l1.1 -1.5l1.2 0.2l1.1 -0l1.2 -0.4l1.1 0.3l1.2 0.2l1.1 1l1.2 0.1l1.1 0l1.1 0.3l1.2 -0.5l1.1 0.4l1.2 0.4l1.1 -0.2l1.2 -0.9l1.1 -0l1.2 -0l1.1 1.1l1.2 -0.3l1.1 0.4l1.2 -0.7l1.1 -0.4l1.2 -0.5l1.1 -0.1l1.1 1l1.2 -0.2l1.1 -0.3l1.2 0.2l1.1 0l1.2 -0.2l1.1 -0.6l1.2 0.8l1.1 0.2l1.2 0.6l1.1 -0.8l1.2 -0.2l1.1 -0.8l1.2 0.4l1.1 0.3l1.1 -1.8l1.2 0.1l1.1 -0.1l1.2 0.4l1.1 0.8l1.2 0.4l1.1 -0.1l1.2 0.8l1.1 -0.2l1.2 -1l1.1 0.7l1.2 0.2l1.1 -0.6l1.2 -0.2l1.1 -0.2l1.1 -0.3l1.2 -1.4l1.1 -1.5l1.2 -0.2l1.1 0.6l1.2 1.6l1.1 1l1.2 1.1l1.1 0.5l1.2 0.3l1.1 -0.4l1.2 -0.4l1.1 0.5l1.2 0.1l1.1 -0.2l1.1 -0l1.2 0.1l1.1 0.5l1.2 -0.5l1.1 0.1l1.2 -0.7l1.1 -0.4l1.2 0.1l1.1 -0.7l1.2 0.6l1.1 0.1l1.2 -0.1l1.1 0.2l1.1 0.8l1.2 -0.8l1.1 0.1l1.2 0.5l1.1 0l1.2 -1.1l1.1 0.7l1.2 0.3l1.1 -0.1l1.2 -0.3l1.1 0.2l1.2 -0.6l1.1 0.6l1.2 -0l1.1 -0.7l1.1 -0.2l1.2 -0.1l1.1 0.5l1.2 0.5l1.1 -0.2l1.2 0l1.1 -0.4l1.2 0.6l1.1 0.8l1.2 -1.5l1.1 -0.5l1.2 -0.7l1.1 -1.6l1.2 -1l1.1 0.8l1.1 2.2l1.2 1l1.1 1l1.2 0.8l1.1 -0.8l1.2 -0.2l1.1 -0.5l1.2 -0.9l1.1 1l1.2 -0.3l1.1 0.2l1.2 -0l1.1 0.2l1.2 0.5l1.1 -0.3l1.1 -0.2l1.2 0l1.1 -0.2l1.2 -0.1l1.1 0.4l1.2 0.8l1.1 -1l1.2 0.1l1.1 0l1.2 0.2l1.1 -0.3l1.2 0.5l1.1 0.5l1.2 -0.8l1.1 -0.7l1.1 0.4l1.2 -0.1l1.1 -0.7l1.2 0.5l1.1 -0.2l1.2 -0l1.1 0.5l1.2 -0.5l1.1 0.9l1.2 -0.2l1.1 0.1l1.2 -0.1l1.1 -0.4l1.2 -0.1l1.1 -0.8l1.1 1l1.2 -0.2l1.1 1.3l1.2 -0.2l1.1 0.4l1.2 -0.2l1.1 -0.1l1.2 -0.2l1.1 0.3" fill="none" stroke="#29aada" stroke-width="10.5" stroke-linejoin="round" stroke-linecap="round"/>
<path d="M193.3 1252.6l1.1 0l1.2 -0.5l1.1 1.1l1.2 -1.1l1.1 0.1l1.2 0.5l1.1 0.2l1.2 0.1l1.1 -0.8l1.2 1l1.1 -0.7l1.2 -0.1l1.1 -0l1.2 -0.1l1.1 -0.2l1.1 0.9l1.2 -0.3l1.1 0.4l1.2 -1.1l1.1 0.4l1.2 -0.1l1.1 0.2l1.2 0l1.1 0.2l1.2 -0.2l1.1 -0l1.2 -0l1.1 0l1.2 -0l1.1 -0.3l1.1 0.3l1.2 -0.5l1.1 1.2l1.2 0.1l1.1 0.4l1.2 -0.6l1.1 -1l1.2 -0.7l1.1 -0l1.2 0l1.1 0.2l1.2 0.1l1.1 0.6l1.2 -1.2l1.1 1.3l1.1 -0.2l1.2 0.1l1.1 -0.9l1.2 0.5l1.1 -0.6l1.2 0.7l1.1 0.2l1.2 0.2l1.1 -0.1l1.2 -0.2l1.1 -0.1l1.2 0.6l1.1 -0.1l1.1 0.1l1.2 1.1l1.1 -0.5l1.2 -0.8l1.1 -1.2l1.2 -0.8l1.1 0.8l1.2 0.9l1.1 -0.5l1.2 -0.3l1.1 0.3l1.2 0.4l1.1 0.6l1.2 -0.2l1.1 -0.4l1.1 0.5l1.2 -0.6l1.1 -0.6l1.2 -0.1l1.1 0.2l1.2 0.2l1.1 0.3l1.2 0.2l1.1 1.3l1.2 -0.3l1.1 -1.4l1.2 -0.5l1.1 0.5l1.2 -0.2l1.1 1.4l1.1 -0.5l1.2 -0.2l1.1 0.1l1.2 -0.1l1.1 0.3l1.2 -0.2l1.1 0.1l1.2 -0.3l1.1 -1.3l1.2 0.8l1.1 1.1l1.2 -0.6l1.1 -0.2l1.2 0.5l1.1 -0.3l1.1 0.1l1.2 -0.1l1.1 0.4l1.2 -0.2l1.1 1.1l1.2 -0.4l1.1 -0.4l1.2 -0.9l1.1 0.3l1.2 -0.4l1.1 0.6l1.2 0.3l1.1 1.3l1.2 -1l1.1 -0.2l1.1 0.4l1.2 -1.3l1.1 0.6l1.2 0.9l1.1 -0.3l1.2 -0.3l1.1 0.5l1.2 -0.2l1.1 -0.1l1.2 0.2l1.1 -0.7l1.2 1l1.1 -0.6l1.2 -0.2l1.1 -0.3l1.1 -1.3l1.2 -0.3l1.1 0.5l1.2 0.5l1.1 0.8l1.2 1.3l1.1 -0.2l1.2 -0.5l1.1 -0.6l1.2 0.6l1.1 -0.6l1.2 -0.1l1.1 0.7l1.2 -0.4l1.1 -0.2l1.1 0l1.2 -0.9l1.1 0.3l1.2 0.3l1.1 0.2l1.2 -0.2l1.1 -1l1.2 0l1.1 0.9l1.2 -0.3l1.1 -0.2l1.2 0.6l1.1 0.3l1.1 0l1.2 0.3l1.1 0.2l1.2 0l1.1 -0.1l1.2 0.8l1.1 -1.1l1.2 1l1.1 -0.3l1.2 -0.8l1.1 0.3l1.2 0.4l1.1 -1l1.2 0.2l1.1 0.4l1.1 0.2l1.2 -0.2l1.1 -0.7l1.2 0l1.1 1.2l1.2 -0.8l1.1 1.5l1.2 -0.7l1.1 -0.4l1.2 -0.5l1.1 0l1.2 0.1l1.1 -0.6l1.2 1.2l1.1 0.3l1.1 -0.3l1.2 -1l1.1 -0.1l1.2 -0l1.1 0.5l1.2 -0.2l1.1 -0.6l1.2 0.1l1.1 0l1.2 0.1l1.1 0.5l1.2 -0.5l1.1 -0.8l1.2 0.9l1.1 0.5l0.6 -0.9l0.5 0.4l0 -0.3l0.5 0.4l0.5 0.1l0.2 -0.9l0.3 -0.4l0.5 0.2l0.3 -0.6l0.3 -0.2l0.5 -0.1l0.4 0.3l0.1 0.3l0.5 -0.4l0.5 -0.2l0 0.8l0.5 -0.2l0.5 -0.6l0.2 -0.8l0.3 -0.9l0.5 -1.5l0.3 -0.8l0.2 -1.1l0.6 -0.6l0.4 -0.6l0.1 -0.2l0.4 -0.3l0.1 -0.3l0.5 1.2l0 0.5l0.5 1.4l0.5 0.9l0.2 -0l0.3 1l0.5 -0.2l0.3 -0.2l0.2 1l0.2 0.4l0.3 0.2l0.2 0.6l0.3 -0.3l0 -0.1l0.2 0.1l0.4 -0.9l0.1 0.3l0.4 0.2l0 -0.2l0.1 -0.5l0.4 -0.6l0.1 -1l0.4 -0.3l0.1 1.1l0.1 0.6l0.3 -0.8l0.1 -0.8l0.4 -0.1l0.1 -0l0.2 -0.6l0.2 -1.5l0.1 -0.2l0.4 -1.8l0.2 -1.4l0.2 -2.9l0.1 -0.9l0.2 -1l0.5 -6.2l0.4 -6.9l0.1 -1.8l0.5 -11.4l0.5 -12.4l0 -0.4l0.5 -11.6l0.5 -8.9l0.2 -2l0.2 -1.5l0.1 -0l0.5 5.2l0.3 5l0.2 5.3l0.6 12.7l0.4 10.5l0.1 2.6l0.5 10.3l0.5 7.7l0 0.6l0.5 4.7l0.5 4.3l0.2 1.7l0.3 1.6l0.5 2.2l0.3 -0l0.2 -0.7l0.5 1.3l0.5 1.7l0.1 -0.8l0.5 1.2l0.5 -0.3l0 0.7l0.5 -0.4l0.5 -0l0.2 0.2l1.1 -0.4l1.2 0.6l1.1 0.2l1.1 0.8l1.2 0.1l1.1 -0l1.2 -0.1l1.1 0.9l1.2 -0.1l1.1 -0.3l1.2 -1.4l0.4 1l0.5 -0.2l0.2 0l0.3 0.3l0.6 -0.3l0.3 0.5l0.2 -0.5l0.5 -0.3l0.4 -0.5l0.1 0.1l0.5 -0.8l0.5 -1.3l0.1 -0.2l0.4 -2.1l0.5 -3.1l0.2 -2l0.3 -3.5l0.5 -4.9l0.3 -2.8l0.3 -0.8l0.4 -2.4l0.1 0.9l0.4 1.5l0.1 0.1l0.5 5.2l0.5 5.2l0 0.9l0.5 2.5l0.5 3.8l0.2 0.9l0.3 1.7l0.5 0.6l0.3 -0.5l0.2 0.3l0.5 0.5l0.5 0.7l0.1 0.4l0.5 -1l0.5 -0.4l0 0.6l0.5 -0l0.7 0.9l1.1 0.8l1.2 0.9l1.1 -0.5l1.2 0.2l1.1 -0l1.2 -0.3l1.1 -0.5l1.1 0.5l1.2 0.2l1.1 -0.4l1.2 -0.2l1.1 -1l1.2 0.5l1.1 0.2l1.2 -0.5l1.1 1l1.2 -0.2l1.1 -0.6l1.2 0.1l1.1 -0.4l1.2 -0.1l1.1 -0.3l1.1 0.5l1.2 -0.5l1.1 0.1l1.2 0.4l1.1 0.2l1.2 0.2l1.1 -0.2l1.2 -0.2l1.1 0.4l1.2 -0.1l1.1 0.6l1.2 -0.3l1.1 0.1l1.2 -0.2l1.1 0.6l1.1 -0.6l1.2 0.4l1.1 0.5l1.2 -0l1.1 0.4l1.2 -0.9l1.1 -1l1.2 0l1.1 0.1l1.2 0.5l1.1 -0.2l1.2 -0.1l1.1 0l1.2 1.1l1.1 -0.6l1.1 -0l1.2 0.1l1.1 0.8l1.2 -1l1.1 -0.9l1.2 0.4l1.1 -0.2l1.2 -0l1.1 -0.7l1.2 1.4l1.1 -0.7l1.2 0.5l1.1 0.4l1.2 0.4l1.1 0.6l1.1 -0.7l1.2 -0.8l1.1 0.3l1.2 0.5l1.1 -0.3l1.2 -0.4l1.1 0.2l1.2 -1.1l1.1 1.2l1.2 -0.7l1.1 -0.1l1.2 0.3l1.1 -0.3l1.2 0.7l1.1 -0.3l1.1 -0.1l1.2 -0l1.1 0.7l1.2 -0.1l1.1 -0.2l1.2 0.6l1.1 -0.7l1.2 -0.6l1.1 0.2l1.2 0.3l1.1 -0.5l1.2 -0.1l1.1 -0.1l1.1 -1l1.2 -1l1.1 0l1.2 1.8l-0 -1l0.5 1.4l0.5 -0.9l0.1 0.5l0.4 0.5l0.5 1.3l0.3 0.1l0.2 -1.5l0.5 0.1l0.4 -0.7l0.1 0.6l0.5 0.5l0.5 -0.1l0.1 -0.6l0.4 -0.6l0.6 -1.6l0.1 0l0.4 -1.7l0.5 -1.2l0.3 -0.9l0.2 -1l0.5 -1.5l0.4 -1.4l0.1 0.5l0.5 -1.9l0.4 -0.4l0.1 -0.6l0.1 0.8l0.4 0.3l0.5 1.4l0.2 0.2l0.4 2.1l0.5 2.2l0.3 0.8l0.2 0.9l0.5 1.8l0.4 0.6l0.1 0.3l0.5 0.3l0.5 0.6l0 0.4l0.5 0l0.5 -0.7l0.2 0.4l0.3 1.1l0.5 -0.9l0.3 -0.5l0.3 0.1l0.5 -0.4l0.4 -0.4l0.1 -0.8l0.5 -0.4l0.5 0.1l1.2 -2.2l1.1 1.5l1.2 0.8l1.1 2.1l1.2 0.4l1.1 0.1l1.2 -0.7l1.1 1l1.2 -0.2l1.1 -0.5l1.1 0.7l1.2 0.3l1.1 0.6l1.2 -0.8l1.1 -0.2l1.2 -0.3l1.1 -0.6l1.2 0.1l1.1 0l1.2 0.3l1.1 0.2l1.2 0l1.1 0.2l1.2 -0.1l1.1 -0l1.1 0.2l1.2 0.9l1.1 -0.5l1.2 -0.5l1.1 1.3l1.2 -0.2l1.1 -0.6l1.2 -0l1.1 -1.1l1.2 0.2l1.1 -0.1l1.2 -0l1.1 -0.2l1.2 0.3l1.1 1l1.1 -0.5l1.2 0.2l1.1 0.6l1.2 -0.2l1.1 -0.6l1.2 0.4l1.1 0.3l1.2 -0.6l1.1 -0.5l1.2 -0.6l0.3 0.1l0.5 0.2l0.3 -0l0.2 -0l0.5 0.4l0.5 0.1l0 1l0.5 -1.3l0.6 -0.8l0 -0l0.5 0.2l0.5 0.3l0.2 -0l0.3 -0.4l0.5 -2.2l0.3 -0.8l0.2 0.1l0.5 -1.9l0.4 -2l0.1 -1.8l0.5 0.1l0 0.5l0.5 1.7l0.1 0l0.5 0.8l0.5 2.5l0.1 0.1l0.4 1.3l0.5 1.4l0.3 -0l0.2 0.7l0.5 -0.5l0.4 1l0.1 -0.8l0.5 -0.4l0.5 0.3l0.1 0.1l0.4 0.4l0.5 0.3l0.2 -0.1l0.4 -0.4l0.5 0.6l0.3 -1l0.2 0.8l0.5 -0.6l0.4 0.2l0.1 0.4l0.5 -1l0.5 0.3l0.1 0.4l0.4 -0.2l0.5 0.3l0.2 -0.1l0.3 -0.8l0.6 -1l0.3 -0.8l0.2 -1.1l0.5 -0.6l0.4 -2.5l0.1 0.7l0.5 -0.4l0.4 -0.3l0.1 -0.2l0.1 -0.4l0.4 0.4l0.5 1.6l0.2 1.4l0.3 0.6l0.5 1.5l0.3 1.2l0.2 0.2l0.6 0.6l0.4 0.3l0.1 -0.2l0.5 0.7l0.5 0.2l0 -0.1l0.5 -0.3l0.5 0.3l0.2 -0.2l0.3 -0.7l0.5 0.4l0.3 -1.1l1.2 0.9l1.1 -0l1.2 0l1.1 -0.1l1.2 0.9l1.1 -0l1.2 -0.5l1.1 -0l1.1 -0.2l1.2 0.9l1.1 -0.4l1.2 -0.3l1.1 0.1l1.2 -0.1l1.1 -0.5l1.2 0.6l1.1 -0l1.2 0.2l1.1 -1.2l1.2 0.2l1.1 0.3l1.2 0.3l1.1 -0.6l0.8 1.3l0.3 0.3l0.3 -0.4l0.5 -1.1l0.4 -1l0.1 1l0.5 0.5l0.5 -1.3l0 0.7l0.5 0.4l0.5 -0.9l0.2 -0.4l0.3 -0.5l0.5 -1.2l0.3 0.6l0.2 -1.2l0.5 -2.3l0.5 -1.8l0.1 0.3l0.5 -3.5l0.5 -4.5l0 -0.1l0.5 -2.8l0.4 -1.7l0.1 0.6l0.2 0.4l0.3 1l0.5 2.6l0.3 3.3l0.2 1.3l0.5 2.9l0.5 2.1l0 0.8l0.6 1.4l0.5 1.8l0 0l0.5 0.6l0.5 0.3l0.2 -0.4l0.3 0.9l0.5 0.1l0.3 -0.2l0.2 -0.3l0.5 0.6l0.5 1l0 -0.1l0.5 -0.8l0.6 -0.3l1.1 -0.4l1.2 0l1.1 0.3l1.2 0l1.1 0.6l1.2 -0l1.1 0.2l1.2 0.1l1.1 -0.4l1.2 0.4l1.1 0l1.2 0.2l1.1 -0.8l1.2 0.2l1.1 0.1l1.1 -0.9l1.2 -0.2l1.1 -1.8l1.2 -1.6l1.1 0.3l1.2 0.7l1.1 0.6l1.2 1.1l1.1 0.9l1.2 0.9l1.1 0.4l1.2 0.9l1.1 -0.2l1.2 -0.6l1.1 -0.1l1.1 -0.5l1.2 0.3l1.1 -0.4l1.2 -0.3l1.1 -0.2l1.2 -0.4l1.1 -0.2l1.2 0.2l1.1 -0.1l1.2 -0.2l1.1 0.6l1.2 -0.2l1.1 0.5l1.2 -0.1l1.1 0.4l1.1 0.3l1.2 -0.5l1.1 -0.3l1.2 0.4l1.1 -0.3l0.5 0.3l0.5 0l0.2 0.2l0.3 -0.3l0.5 0.1l0.3 -0.1l0.2 0.3l0.6 0.4l0.4 -0l0.1 -0.2l0.5 -0.2l0.5 0l0 -0.3l0.5 -0.4l0.5 0.1l0.2 0.7l0.3 -1.2l0.5 -0l0.3 -1.2l0.2 -0.5l0.5 -1.7l0.5 -1.3l0 0.9l0.6 -2.1l0.5 -1l0 -0.6l0.4 0.2l0.1 -0.4l0.5 -0l0.2 0.3l0.3 1.2l0.5 1l0.3 0.8l0.2 -0.2l0.5 3l0.4 0.5l0.1 0.2l0.5 0.2l0.6 1.1l-0 -0.5l0.5 1.1l0.5 -0.2l0.1 -0.5l0.4 0.1l0.1 -0.7l0.4 0.7l0.1 1.8l0.2 0.7l0.2 -0.8l0.1 -0.4l0.4 -1.3l0.1 1.1l0.3 -0.2l0.1 -0.1l0.1 0.2l0.4 0.2l0.2 -0.7l0.3 0.6l0.1 -0.4l0.1 0.3l0.5 -0.8l0.5 0.5l0 -0.4l0.5 -0.7l0.5 -0.1l0.2 -0.6l0.3 -0.5l0.5 0.4l0.3 -1.2l0.2 -0.1l0.5 -2.5l0.5 -1.1l0.1 -1.1l0.5 -1.5l0.5 -1.4l0 0l0.4 0.2l0.1 -0.1l0.5 0.6l0.2 -0.1l0.3 0.5l0.5 2.9l0.3 0.7l0.2 1.2l0.5 1.2l0.4 1l0.1 0.8l0.5 0.8l0.6 0.4l-0 -0.5l0.5 1l0.5 0.5l0.1 -0.6l0.4 -0.2l0.5 0l0.3 0.9l0.2 -0.5l0.5 0l0.4 0.1l0.1 0l0.5 -0.4l0.5 0.3l0.1 -0.3l1.1 0.8l1.2 -0.5l1.1 -0.3l1.2 0.2l1.1 0.1l1.2 0.7l1.1 -0.4l1.2 0.6l1.1 0.1l1.1 -0.1l1.2 -0l1.1 -0.4l1.2 1.1l1.1 -0.4l1.2 -0.2l1.1 0.6l1.2 -0.9l1.1 1.1l1.2 -0.2l1.1 -0.2l1.2 -0.5l1.1 -0.4l1.2 -0.3l1.1 0.6l1.1 0.2l1.2 -0.9l1.1 -0.2l1.2 0.3l1.1 1.4l1.2 0.2l1.1 -0.6l1.2 -0.1l1.1 -0.4l1.2 0.1l1.1 -0.4l1.2 0.3l1.1 -0.5l1.2 -0.3l1.1 1.5l1.1 -0.6l1.2 -0.4l1.1 0.7l1.2 0.8l1.1 0.6l1.2 -0.5l1.1 -1l1.2 -0.2l1.1 -0.4l1.2 0.2l1.1 -0l1.2 -0.3l1.1 0.7l1.2 -0.2l1.1 0.3l1.1 -0.3l1.2 -0.5l1.1 -0l1.2 0.5l1.1 1.1l1.2 -0.4l1.1 -0.5l1.2 -0.3l1.1 0.3l1.2 -0.1l1.1 0.1l1.2 0.1l1.1 -0.3l1.1 -1.2l0.1 0.4l0.4 0l0.5 0l0.2 -0.6l0.4 0.1l0.5 0.2l0.2 0l0.3 0.1l0.5 -0.7l0.4 0.3l0.1 0.3l0.5 -0.8l0.5 0.8l0 -0.1l0.5 0.1l0.5 0.4l0.2 -0.3l0.3 -0.7l0.6 0.3l0.2 0l0.3 -0.5l0.5 -1l0.4 -1.1l0.1 -0.2l0.5 -1.3l0.5 0.1l0 0.1l0.5 -1.1l0.4 0.1l0.1 0.3l0.2 0.3l0.3 -0l0.5 0.1l0.3 0.5l0.2 0.6l0.6 0.4l0.4 1.1l0.1 -1.2l0.5 1.7l0.5 1.1l0 0.7l0.5 -0.5l0.5 0.7l0.2 -0.7l0.3 -0.2l0.5 0.3l0.3 -0l0.2 0.1l0.5 -0.3l0.5 0.1l0.1 1.3l0.5 -0.9l0.5 -0.3l-0 0.4l0.5 0.5l0.5 -0.5l0.1 -0.2l0.4 0.1l0.8 0.5l1.1 -0.7l1.2 0.2l1.1 0.1l1.2 -0.8l1.1 0.7l1.2 -0.1l1.1 -2.1l1.2 0.1l1.1 1.3l1.2 0.8l1.1 1.1l1.1 -0.3l1.2 -0l1.1 -0.4l1.2 0.1l1.1 0.4l1.2 -0.9l1.1 0.8l1.2 0.1l1.1 -0.7l1.2 0l1.1 0.6l1.2 0.1l1.1 1l1.2 0.3l1.1 -0.6l1.1 -0.3l1.2 -0.5l1.1 0.5l1.2 -0.6l1.1 0.7l1.2 0l1.1 -0.6l1.2 -0.1l1.1 0.1l1.2 -0.5l1.1 0.2l1.2 0.6l1.1 0.2l1.2 0.5l1.1 -0.8l1.1 -0.1l1.2 0.7l1.1 -1.2l1.2 -0.5l1.1 0.8l1.2 0l1.1 -0.3l1.2 -0.1l1.1 0.2l1.2 0.3l1.1 -1.1l1.2 0.2l1.1 -0.2l1.2 -0.3l1.1 -0.2l1.1 -0.5l1.2 -0.6l1.1 0.7l1.2 0.1l1.1 0.6l1.2 0.9l1.1 -0.1l1.2 0.1l1.1 0.4l1.2 0.6l1.1 -1.1l1.2 -0.1l1.1 -0l1.2 -0.1l1.1 -0.1l1.1 -1l1.2 -1.1l1.1 -1.3l1.2 -0l1.1 1.4l1.2 1.4l1.1 1.3l1.2 1.2l1.1 -1l1.2 -1l1.1 0l1.2 0.9l1.1 -0.4l1.2 -1l1.1 0.2l1.1 0.4l1.2 0.5l1.1 -0l1.2 -0.4l1.1 -0.1l1.2 0.1l1.1 -0.1l1.2 0.6l1.1 0.2l1.2 0.1l1.1 0.1l1.2 -0.6l1.1 0.5l1.1 0.5l1.2 -0.5l1.1 0.9l1.2 0l1.1 -0.3l1.2 -0.4l1.1 -0.3l1.2 -0.8l1.1 -0.1l1.2 -0.4l1.1 0.1l1.2 1.1l1.1 0.1l1.2 -0.5l1.1 0.7l1.1 0.5l1.2 -1.6l1.1 -0.2l1.2 0.4l1.1 0.2l1.2 -0.2l1.1 -0.4l1.2 0.2l1.1 0.7l1.2 0.1l1.1 -0.8l1.2 -0.9l1.1 -1.7l1.2 -0.9l1.1 -0.2l1.1 2l1.2 1.7l1.1 -0.5l1.2 0.6l1.1 0.5l1.2 -0l1.1 -0.8l1.2 0.7l1.1 0.2l1.2 0.2l1.1 0.1l1.2 -0.2l1.1 -0.8l1.2 0.2l1.1 -0.1l1.1 -0.2l1.2 0l1.1 0.1l1.2 0.1l1.1 -0.2l1.2 0.3l1.1 0.4l1.2 0.3l1.1 0.9l1.2 -1.6l1.1 0.2l1.2 -0.3l1.1 0.6l1.2 0.5l1.1 -0.4l1.1 -0.1l1.2 0.3l1.1 0l1.2 -0.1l1.1 0.1l1.2 -0.5l1.1 0.3l1.2 -0.6l1.1 0.1l1.2 1.4l1.1 -0.6l1.2 -1.1l1.1 1l1.2 0.5l1.1 -0.2l1.1 0.2l1.2 0.3l1.1 -0.3l1.2 -0.6l1.1 -0.9l1.2 0.6l1.1 0l1.2 -0.7l1.1 0.8" fill="none" stroke="#ff3520" stroke-width="10.5" stroke-linejoin="round" stroke-linecap="round"/>
<path d="M193.3 1369.4l1.1 -0l1.2 0.4l1.1 -0.3l1.2 -0.4l1.1 -0.5l1.2 0.9l1.1 0l1.2 -0.2l1.1 -0.3l1.2 -0.9l1.1 0.8l1.2 -0.1l1.1 0.4l1.2 1l1.1 -0.3l1.1 -0.1l1.2 0.5l1.1 -0.3l1.2 0l1.1 -0.6l1.2 -0.3l1.1 -0.5l1.2 1l1.1 0.8l1.2 -0.4l1.1 -0.1l1.2 -0.2l1.1 1.5l1.2 -0l1.1 -0.5l1.1 0l1.2 0.4l1.1 -0.9l1.2 0.2l1.1 0.2l1.2 -0.2l1.1 0.2l1.2 0.4l1.1 -0.4l1.2 -0.4l1.1 0.4l1.2 -0.1l1.1 0l1.2 0.8l1.1 -0.3l1.1 -0.4l1.2 -0.9l1.1 0.4l1.2 0.2l1.1 0.2l1.2 0.1l1.1 0.2l1.2 -0.2l1.1 -0.1l1.2 0.1l1.1 -0.5l1.2 -0.5l1.1 -0.3l1.1 0.4l1.2 -0.7l1.1 0.2l1.2 0.3l1.1 0.4l1.2 -0.5l1.1 0.3l1.2 0.2l1.1 -0.2l1.2 0.2l1.1 -0l1.2 -0.5l1.1 0.1l1.2 -0.2l1.1 1.3l1.1 -0.3l1.2 -0.4l1.1 -0.6l1.2 0.3l1.1 0.4l1.2 0l1.1 -0.6l1.2 -0.2l1.1 -0.2l1.2 0.5l1.1 -0.2l1.2 0.3l1.1 1.1l1.2 -1.2l1.1 0.1l1.1 0.2l1.2 -0.6l1.1 0.9l1.2 -0.2l1.1 0.3l1.2 0.2l1.1 0.6l1.2 -0.7l1.1 -0.4l1.2 -0.5l1.1 -0.4l1.2 1.4l1.1 -0.4l1.2 -0.8l1.1 0.7l1.1 1l1.2 -0.8l1.1 -0l1.2 -0.7l1.1 -0.7l1.2 0.4l1.1 -0.2l1.2 -0.1l1.1 0.5l1.2 0.5l1.1 0l1.2 0.8l1.1 -0.5l1.2 -0.2l1.1 0.5l1.1 1l1.2 0.5l1.1 -0.3l1.2 -0.5l1.1 -1.1l1.2 0.8l1.1 -0.3l1.2 1l1.1 -0.6l1.2 -1.3l1.1 0.8l1.2 -0.1l1.1 -0.3l1.2 0.1l1.1 -0l1.1 0.1l1.2 -0.9l1.1 0.3l1.2 0.4l1.1 -0.6l1.2 0.9l1.1 -0.2l1.2 -1l1.1 1.2l1.2 -0.3l1.1 0.1l1.2 -0.1l1.1 1l1.2 -0.4l1.1 -0.5l1.1 -0.4l1.2 0.5l1.1 0.2l1.2 -0.4l1.1 0.5l1.2 -0.5l1.1 0.1l1.2 0.3l1.1 -0l1.2 -0l1.1 0l1.2 -0.4l1.1 0.1l1.1 0.2l1.2 -0.7l1.1 -0.5l1.2 0.5l1.1 0.2l1.2 0.2l1.1 0.4l1.2 0l1.1 -0.4l1.2 0.3l1.1 -0.5l1.2 1l1.1 0.2l1.2 -0.4l1.1 -0.5l1.1 0.2l1.2 -0.2l1.1 -0.4l1.2 0.4l1.1 0l1.2 0.4l1.1 -0.3l1.2 0.9l1.1 0.4l1.2 -1.4l1.1 -1l1.2 -0.1l1.1 1.1l1.2 0.3l1.1 -0.1l1.1 0l1.2 -0.7l1.1 0.2l1.2 -0.4l1.1 0.3l1.2 -0.1l1.1 -0.1l1.2 -0.1l1.1 0.5l1.2 0.9l1.1 -1.2l1.2 0.4l1.1 -0.3l1.2 0.8l1.1 0.2l1.1 -0.8l1.2 -0.1l1.1 0.6l1.2 0.4l1.1 -0.9l1.2 -0.8l1.1 0.1l1.2 0.5l1.1 -0l1.2 -0.5l1.1 -0.4l1.2 -0.5l0.2 -0.4l0.5 -1l0.4 0.1l0.1 0l0.5 -0.2l0.5 -0.9l0.1 -0.5l0.4 -0.4l0.5 -0.9l0.2 0.1l0.3 -2.5l0.5 -3.1l0.3 -2.6l0.2 -1l0.6 -8.9l0.4 -8.4l0.1 -2.4l0.5 -15.5l0.5 -17.8l0 -1.6l0.5 -19.2l0.5 -15.5l0.2 -2.6l0.2 -1.6l0.1 1l0.5 8.1l0.3 9.8l0.2 6.5l0.5 20.4l0.5 15.4l0.1 3l0.5 13.4l0.5 10.9l0 0.1l0.5 6.5l0.5 4.6l0.2 -0l0.3 1.4l0.5 1.1l0.3 -0.2l0.2 1.1l0.5 0.9l0.5 1.3l0 0.6l0.6 -0.8l0.5 0.3l0 0.3l1.2 1.1l1.1 0.4l1.2 -0.3l1.1 0.2l1.1 0.6l1.2 -0.6l1.1 -0.3l1.2 -0.2l1.1 0.3l1.2 1.1l1.1 -0.2l1.2 0.4l1.1 0.6l1.2 0.3l1.1 -0.5l1.2 -0.7l1.1 -1.4l1.1 -2.2l1.2 -0.6l1.1 2.4l1.2 1.8l1.1 0.1l1.2 -0.3l1.1 0.2l1.2 0.2l1.1 0.5l1.2 -0l1.1 -0.1l1.2 -0.8l1.1 0l1.2 0.1l1.1 -0.1l1.1 0.5l1.2 0.1l1.1 -0.4l1.2 0.4l1.1 0.6l1.2 1l1.1 -0.6l1.2 -0.6l1.1 0.3l1.2 0.6l1.1 -0.7l1.2 0.1l1.1 -0.3l1.2 0.3l1.1 -0.6l1.1 -0.2l1.2 -0l1.1 0l1.2 -0.5l1.1 0.2l1.2 -0.2l1.1 1.2l1.2 0.5l1.1 -0.7l1.2 -0.3l1.1 0.2l1.2 -0.3l1.1 -0.2l1.2 0.5l1.1 0.5l1.1 -0l1.2 0.4l1.1 -0.4l1.2 -0.3l1.1 -0.3l1.2 -0.3l1.1 -0.3l1.2 0.9l1.1 0.3l1.2 -0.3l1.1 -0.1l1.2 -0.5l1.1 0.4l1.2 -0.2l1.1 -0l1.1 -0.2l1.2 -0.6l1.1 0l1.2 1.1l1.1 -0.5l1.2 -0.4l1.1 0.1l1.2 -0.2l1.1 -0.2l1.2 -0.2l1.1 -0l1.2 0.4l1.1 -0.8l1.2 -0.1l1.1 -0l1.1 0.6l1.2 -0l1.1 0.6l1.2 -0.3l1.1 0.8l1.2 -0.9l1.1 1.2l1.2 -0.8l1.1 -0l1.2 -0.4l1.1 0.2l1.2 1l1.1 0.2l1.2 -0.5l1.1 0.2l1.1 0.7l1.2 -0.1l1.1 -0.5l1.2 -0l1.1 -0l1.2 -1.1l1.1 -0l1.2 0.2l1.1 1l1.2 0l1.1 -0.3l1.2 -1.2l1.1 -0.7l1.1 -2l1.2 -1.2l1.1 -0l1.2 2.2l-0 0l0.5 0.6l0.5 0.6l0.1 0.5l0.4 -0.2l0.5 -0.2l0.3 0.2l0.2 1.5l0.5 -0.9l0.4 -0.8l0.1 0.2l0.5 -1.1l0.5 0.1l0.1 -0.6l0.4 -0.5l0.6 -1l0.1 -0.7l0.4 -0.5l0.5 -2l0.3 -0.9l0.2 -1l0.5 -3.4l0.4 -2.2l0.1 -0.3l0.5 -2.3l0.4 -0.7l0.1 0.4l0.1 -0.5l0.4 1.7l0.5 2.4l0.2 1l0.4 2.3l0.5 3.8l0.3 0.3l0.2 -0l0.1 1.1l0.4 1.1l0.1 0.3l0.3 0.1l0.1 1l0.1 0.3l0.4 -0.2l0.1 0.9l0.4 0.4l0 -0.3l0.1 -0.7l0.4 1.6l0.1 -0.5l0.4 0.5l0.1 -0.3l0.1 -0.4l0.3 0.8l0.2 0.3l0.3 0.1l0.2 -0.5l0.1 0.2l0.3 0.1l0.1 0.4l0.4 -0.7l0.1 -0.1l0.3 -0.1l0.1 -1.5l0.1 0.2l0.4 0.3l0.1 -0.1l0.4 -0.9l0.1 -0.1l0.5 -0.7l0.5 -2.1l0.1 -0.3l0.4 -0.5l0 -0.4l0.6 1.5l0.1 -0.1l0.4 1l0.5 1.6l0.3 1.2l0.2 -0.6l0.5 0.2l0.4 -0.1l0.1 0.9l0.5 0.2l0.5 0.8l0.1 0.6l0.4 1l0.5 -0.9l0.2 0.1l0.3 -0l0.6 -1.1l0.3 0.8l0.2 0.8l0.5 -0.8l0.4 0.4l0.1 0.1l1.1 0.1l1.1 -0.6l1.1 -0.3l1.2 1.5l1.1 0.3l1.2 -0.3l1.1 0.3l1.2 -0.9l1.1 0.3l1.2 -0.4l1.1 -1.3l1.2 0.1l1.1 0.8l1.2 0.6l1.1 0.2l1.2 -0.1l1.1 0l1.1 -0.9l1.2 0.2l1.1 1.7l1.2 -0.4l1.1 -0.6l1.2 0.9l1.1 -0.5l1.2 -0.4l1.1 -0l1.2 0l1.1 -0.7l1.2 0.2l1.1 -0.1l1.2 -0.7l1.1 0.5l1.1 0.2l1.2 -0.1l1.1 -0.1l1.2 0.7l1.1 -1.5l1.2 0.9l1.1 0.2l1.2 0.1l1.1 -0.1l1.2 -0.1l1.1 0.5l1.2 -0.6l1.1 0.9l1.2 -1.2l1.1 -0.4l1.1 -1l1.2 0.9l1.1 0.9l1.2 -0.5l1.1 0.6l1.2 -0.4l1.1 0.5l1.2 -0l1.1 -0.5l1.2 -0.3l1.1 0.2l1.2 -0.3l1.1 -0.6l1.2 -0.9l1.1 1l1.1 0.4l1.2 -0.4l1.1 -0.3l1.2 1.7l1.1 -0.1l1.2 -0.4l1.1 -0.2l1.2 0.2l1.1 0.2l1.2 0.1l1.1 0.5l1.2 -0.4l1.1 0.3l1.1 -0l1.2 -0.3l1.1 0.4l1.2 0.2l1.1 -0.6l1.2 0.4l1.1 -0.3l1.2 -0.7l1.1 1.3l1.2 0.4l1.1 -1.4l1.2 0.2l1.1 0.1l1.2 -0.3l0.9 -0.6l0.2 0.4l0.3 0.1l0.6 -0.3l0.2 0.4l0.3 -1l0.5 -1.2l0.4 1l0.1 0.9l0.5 -1.2l0.5 -0.6l0 1.4l0.5 -0.7l0.5 -0.3l0.2 0l0.3 -1.1l0.5 -2.4l0.3 -0.4l0.3 -1.2l0.5 -4.1l0.4 -3.8l0.1 -0.4l0.5 -5.3l0.5 -2.9l0 -0.2l0.5 -2.8l0.4 -1.4l0.1 0.1l0.2 -1l0.3 1.5l0.5 4.4l0.3 2.1l0.2 1.9l0.5 4.2l0.5 4.1l0.1 1.2l0.5 2.6l0.5 2.4l0 -0.2l0.5 0.5l0.5 0.8l0.2 0.3l0.3 0.9l0.5 0.5l0.3 0.8l0.2 -0.5l0.5 0.7l0.5 0.1l0 0.6l0.6 -0.1l0.5 0.3l0 -1.4l0.5 0.6l0.6 0.1l1.2 0.5l1.1 0.1l1.2 -0.7l1.1 1.3l1.2 0.7l1.1 -0.3l1.2 0.3l1.1 -0.4l1.2 0.6l1.1 -1l1.2 0.3l1.1 -0l1.2 -1l1.1 -0l1.1 0.5l1.2 -0.6l1.1 -0.1l1.2 0.2l1.1 -0.1l1.2 0.2l1.1 0.1l1.2 0.2l1.1 -0.3l1.2 0.1l1.1 -0.5l1.2 1l1.1 -0.4l1.2 0.2l1.1 -0.3l1.1 0.5l1.2 -0.5l1.1 1l1.2 -0.1l1.1 -0.2l1.2 0.5l1.1 0.1l1.2 -0.4l1.1 -0.9l1.2 0.2l1.1 0.1l1.2 -0.4l1.1 0.3l1.2 -0.2l1.1 0.4l1.1 -0.3l1.2 -0.6l1.1 -0.9l1.2 0.1l0.6 -0.5l0.5 1.7l0 0.7l0.5 0.3l0.5 -0.3l0.2 0l0.3 -1.2l0.5 -0.1l0.3 -0.6l0.3 0.7l0.5 -0.1l0.4 0.7l0.1 -0.8l0.5 -0l0.5 0.1l0 -0.5l0.5 -0.4l0.5 -0.1l0.2 -1.3l0.3 -0.6l0.5 -1.3l0.3 -0.8l0.2 -1.8l0.5 -1.5l0.5 -2.3l0.1 1l0.5 -1.9l0.5 -1.2l0 -0.4l0.4 0l0.1 -0.3l0.5 1l0.2 1l0.3 1l0.5 2l0.3 1.3l0.2 1l0.5 1.5l0.4 1.1l0.1 0.1l0.6 0.1l0.5 0.7l-0 1.1l0.5 0.6l0.1 -0.1l0.4 -0.4l0.1 0.1l0 0.7l0.4 1.1l0.1 -0.2l0.4 -0.8l0.1 -0.9l0.2 0.2l0.2 1.3l0.1 0.2l0.4 -0.6l0.1 -0.1l0.3 0l0.1 0.7l0.2 0.5l0.3 0.1l0.2 -1.4l0.4 0.5l-0 0.7l0.1 -0.8l0.4 0l0.1 -0l0.4 -1.3l0.1 -0.7l0 0.1l0.5 -0.4l0.5 -0.1l0.2 -0.6l0.3 -0.9l0.5 -1.2l0.3 0.1l0.2 -1.1l0.6 -1.4l0.4 -1.4l0.1 -1l0.5 -1.9l0.5 -1.8l0 0l0.4 0.1l0.1 -0.2l0.5 0.7l0.2 0.5l0.3 1l0.5 2.9l0.3 0.2l0.2 1.1l0.5 1.4l0.4 1.3l0.2 0.5l0.5 2.5l0.5 0.5l-0 -0.2l0.5 0.7l0.5 0l0.1 -0.5l0.4 0.9l0.5 0.4l0.3 -0.1l0.2 -0.1l0.5 0.7l0.4 -0.3l0.1 -0.5l0.5 -0.2l0.6 -1.1l-0 1.2l0.5 0.5l0.5 0.4l0.1 -0.9l1.2 0.8l1.1 -0l1.2 0.1l1.1 0.8l1.2 0.2l1.1 -1.1l1.2 -0.2l1.1 0.2l1.1 -0l1.2 -0.2l1.1 0.2l1.2 0.2l1.1 -0.2l1.2 0.5l1.1 -0.6l1.2 0.1l1.1 -0.6l1.2 0.3l1.1 0.7l1.2 0.8l1.1 -0.8l1.2 -0.8l1.1 -0.3l1.1 0.2l1.2 0.7l1.1 -0.5l1.2 0.2l1.1 1.2l1.2 -0.2l1.1 0.2l1.2 -0l1.1 -0.8l1.2 0.7l1.1 0.6l1.2 -0.6l1.1 -0.3l1.2 -0.4l1.1 0.4l1.1 -0.2l1.2 0.7l1.1 -0.3l1.2 0l1.1 0.2l1.2 -0.8l1.1 -1l1.2 0.6l1.1 -0.2l1.2 -0.6l1.1 0.3l1.2 0.7l1.1 -0.1l1.2 0.6l1.1 -0.4l1.1 -0.1l1.2 -1l1.1 0l1.2 0.5l1.1 0.3l1.2 -0.6l1.1 0.5l1.2 1.7l1.1 0l1.2 -0.4l1.1 -1l1.2 -0.7l1.1 0.2l0.1 -0.3l0.5 0.7l0.5 -0.4l0.1 0.2l0.4 -0.1l0.6 0.1l0.1 -0.2l0.4 -0.1l0.5 0.1l0.2 0.4l0.3 -0.1l0.5 -0.6l0.4 -0.4l0.1 -0l0.5 -0.3l0.5 -0.1l0 0.3l0.5 0.7l0.5 -0.7l0.2 -0.5l0.4 -0.2l0.5 -0.5l0.2 -0.6l0.3 -1.1l0.5 -1.1l0.4 -0.5l0.1 -1.3l0.5 -1.2l0.5 -1.4l0 0.6l0.5 -0.1l0.4 -0.7l0.1 -0.1l0.2 0.5l0.3 0.9l0.5 1.7l0.3 -0.1l0.3 1.3l0.5 0.8l0.4 1l0.1 -0.4l0.5 1.3l0.5 0.5l0 0.4l0.5 0.3l0.5 0.6l0.2 -0.5l0.3 -0.1l0.5 0.7l0.3 0.5l0.2 0.4l0.6 0.1l0.4 -0.7l0.1 0.1l0.5 1.1l0.5 -0.5l-0 0.2l0.5 0.3l0.5 -0.1l0.1 0.1l0.4 0.4l0.5 -0.2l0.3 1.1l0.2 -1l0.9 0.1l1.2 -0.2l1.1 -0.7l1.2 0.9l1.1 0.2l1.2 0l1.1 0.3l1.2 -1l1.1 0.2l1.2 0.5l1.1 -0.4l1.1 -0.4l1.2 0.5l1.1 -0.7l1.2 -0.2l1.1 0.5l1.2 0.9l1.1 0.2l1.2 -0.2l1.1 0.3l1.2 -0.7l1.1 -0.9l1.2 0.3l1.1 -0.3l1.2 -0l1.1 -0.2l1.1 0.1l1.2 -0.6l1.1 -0.4l1.2 0.8l1.1 0.2l1.2 0.1l1.1 0.3l1.2 0.4l1.1 -0.5l1.2 -0.8l1.1 0.5l1.2 1.4l1.1 -0.2l1.2 0.2l1.1 -0.1l1.1 -0.7l1.2 0.1l1.1 -0.2l1.2 -0.3l1.1 1l1.2 -0.4l1.1 -0.4l1.2 -0.6l1.1 0.3l1.2 1.2l1.1 -0.2l1.2 0.8l1.1 -0.5l1.2 -1l1.1 -1.4l1.1 -1l1.2 -0.7l1.1 -1.8l1.2 1.4l1.1 1.9l1.2 1.1l1.1 -0.7l1.2 -0.3l1.1 0.2l1.2 -0.6l1.1 0.5l1.2 0l1.1 0.6l1.2 0.2l1.1 -0.1l1.1 -0.4l1.2 -0.7l1.1 -1.1l1.2 -1.5l1.1 1.3l1.2 1.4l1.1 0.2l1.2 0.5l1.1 0.7l1.2 -0.3l1.1 0.4l1.2 -0.6l1.1 0.3l1.2 1.2l1.1 0.4l1.1 0.3l1.2 0.2l1.1 -0.6l1.2 -0.3l1.1 0.2l1.2 -0.5l1.1 -0.8l1.2 0.8l1.1 0.5l1.2 -0l1.1 0.1l1.2 -0.8l1.1 0.2l1.1 -0.1l1.2 0.2l1.1 -0.4l1.2 -0.2l1.1 -0.6l1.2 0.4l1.1 -0.5l1.2 -0.5l1.1 0.3l1.2 0.4l1.1 -0.1l1.2 0.9l1.1 0.2l1.2 -0.8l1.1 -0.2l1.1 -0.1l1.2 1.7l1.1 -0.9l1.2 -0.3l0.7 0.2l0.4 0.2l0.2 -0.2l0.5 0.7l0.5 -1.1l-0 0.6l0.5 -0.6l0.5 1l0.1 0.4l0.4 -0.6l0.5 -0.2l0.3 -0.6l0.2 -0.5l0.5 0.3l0.4 -1.1l0.1 1.2l0.5 -0.8l0.6 1.2l-0 -0.4l0.5 -0.9l0.5 -0.8l0.1 0.3l0.4 -1.6l0.5 0.1l0.3 -0.7l0.2 -0.6l0.5 -1l0.4 -0.7l0.1 0.4l0.5 -0.5l0.5 -0.4l0.1 -1l0.3 0.8l0.2 -0l0.5 0.3l0.1 -0.7l0.4 1.2l0.5 0.8l0.2 0.9l0.3 0.8l0.5 1.7l0.4 0.2l0.1 -0.9l0.5 1l0.5 -0.2l0 0.3l0.5 -0.2l0.5 1.2l0.2 1.1l0.4 -1.4l0.5 -0.2l0.2 0.1l0.3 -0.8l0.5 0.1l0.4 0.6l0.1 0.5l0.5 -0.8l0.5 0.6l0 0.6l0.5 0.4l0.5 -0.5l0.2 -0.4l0.3 -0.1l0.6 1.1l0.2 0.2l1.2 -0.8l1.1 0.4l1.2 -0.2l1.1 -0.3l1.2 0.5l1.1 -0.1l1.1 0.6l1.2 0.6l1.1 -0.8l1.2 0.2l1.1 0.6l1.2 -0.6l1.1 -0.5l1.2 -0.1l1.1 0.3l1.2 -0.8l1.1 0.5l1.2 -0.2l1.1 0.5l1.2 0l1.1 1.3l1.1 -0.5l1.2 0.2l1.1 -0.4l1.2 0.3l1.1 -0.2l1.2 -1.3l1.1 -0.8l1.2 -0l1.1 0.3l1.2 1.2l1.1 -0.3l1.2 0.3l1.1 -0.3l1.2 0.2l1.1 -0.2l1.1 -0.2l1.2 -0.1l1.1 -0.6l1.2 0.9l1.1 0.1l1.2 -0.4l1.1 -0.4l1.2 0.3l1.1 0.1" fill="none" stroke="#ff9634" stroke-width="10.5" stroke-linejoin="round" stroke-linecap="round"/>
<path d="M193.3 1562.8l1.1 0.1l1.2 0.8l1.1 -1l1.2 0.7l1.1 -0.3l1.2 0.6l1.1 -0.2l1.2 -0.1l1.1 0.2l1.2 -0.3l1.1 0l1.2 -0l1.1 0.7l1.2 -0.1l1.1 -1l1.1 0.4l1.2 0.1l1.1 0l1.2 0.7l1.1 0.2l1.2 -1.1l1.1 0.7l1.2 -0.4l1.1 -0.3l1.2 -0.2l1.1 0l1.2 0.5l1.1 -0.7l1.2 0.1l1.1 -0.2l1.1 0.1l1.2 -0.1l1.1 0.5l1.2 0.4l1.1 -0.7l1.2 0.2l1.1 -0.8l1.2 0.4l1.1 0.6l1.2 -0.2l1.1 1.2l1.2 -0.2l1.1 -0.8l1.2 0.2l1.1 -0.5l1.1 0.3l1.2 -0.1l1.1 0l1.2 -1.3l1.1 0.1l1.2 0.9l1.1 0.5l1.2 0.3l1.1 -0.1l1.2 0.4l1.1 0.2l1.2 -0.2l1.1 0.3l1.1 0l1.2 -0.6l1.1 0.1l1.2 0.3l1.1 -0.4l1.2 -1.2l1.1 0.2l1.2 0.4l1.1 -1.2l1.2 -0.1l1.1 -0l1.2 1.4l1.1 0.4l1.2 -0.3l1.1 0.5l1.1 -0.1l1.2 -0.9l1.1 0l1.2 0.7l1.1 -0.3l1.2 1.3l1.1 -0.7l1.2 -0.4l1.1 -0.2l1.2 0.1l1.1 -0l1.2 0.6l1.1 0.8l1.2 -0.7l1.1 -1l1.1 -0.1l1.2 0.2l1.1 0.9l1.2 0.1l1.1 -0.3l1.2 1.2l1.1 -1.2l1.2 -0.8l1.1 0.9l1.2 0.1l1.1 -0.3l1.2 -0.7l1.1 0.3l1.2 0.2l1.1 -0.4l1.1 0.1l1.2 -0.7l1.1 0.9l1.2 -0.6l1.1 0.7l1.2 -0.6l1.1 -0.3l1.2 0.2l1.1 -0.2l1.2 0.6l1.1 -0.4l1.2 0.3l1.1 0.4l1.2 0.4l1.1 0.2l1.1 -0.4l1.2 0.8l1.1 -0.5l1.2 -0.6l1.1 0.1l1.2 0.9l1.1 -1.2l1.2 -0.2l1.1 0.9l1.2 -0.2l1.1 -0.8l1.2 0.5l1.1 0.3l1.2 -0.3l1.1 -0.7l1.1 0.1l1.2 -0.1l1.1 0.9l1.2 -0.6l1.1 -0.8l1.2 0.6l1.1 0l1.2 0.9l1.1 -1.4l1.2 0.3l1.1 0.7l1.2 -0.1l1.1 0.2l1.2 -0.4l1.1 0.9l1.1 -0.9l1.2 0.1l1.1 0l1.2 0l1.1 0.4l1.2 -0.1l1.1 -0l1.2 0.2l1.1 0l1.2 0.4l1.1 -0.7l1.2 0.8l1.1 -1.1l1.1 -0.7l1.2 0l1.1 -0.2l1.2 0.8l1.1 0.5l1.2 0.5l1.1 0.2l1.2 0.1l1.1 1.2l1.2 -1.2l1.1 -0.3l1.2 -0.4l1.1 0.6l1.2 -0.3l1.1 -0.4l1.1 -0.5l1.2 0.3l1.1 -0.4l1.2 0.7l1.1 0.3l1.2 -0l1.1 0.1l1.2 0.1l1.1 0.5l1.2 -0.6l1.1 -0.6l1.2 0l1.1 -0.1l1.2 0.4l1.1 -0.2l1.1 -0.5l1.2 0.1l1.1 0.5l1.2 -0.5l1.1 0.6l1.2 0.7l1.1 -0.7l1.2 -0.4l1.1 -0.2l1.2 -1l1.1 0.5l1.2 -0.6l1.1 0.2l1.2 0.7l1.1 1.1l1.1 0l1.2 -0.3l1.1 0.2l1.2 -0.3l1.1 -0.6l1.2 0.5l1.1 -0.7l1.2 0.2l1.1 0.4l1.2 -0.8l1.1 -0.8l1.2 -1.4l1.1 -0.5l1.1 -1.1l0.1 0.5l0.3 -0.6l0.5 -1.3l0.3 -0.7l0.2 -0.2l0.4 -2.2l0.5 -2.2l0 -0.4l0.4 -3.2l0.5 -6.3l0.3 -6.7l0.2 -6.3l0.4 -20.6l0.5 -28.7l0 -4.3l0.4 -33.9l0.5 -38.8l0.3 -16.6l0.2 -4.6l0 -0.9l0.4 10.5l0.5 34.9l0 5.5l0.4 34.6l0.5 33.2l0.3 15.9l0.1 8.3l0.5 15.1l0.5 8.3l0 1.1l0.4 3.4l0.5 2.2l0.3 0.9l0.1 0.3l0.5 1.3l0.5 1.3l0 0.7l0.4 0.8l0.8 0.5l1.1 0.7l1.2 -0.3l1.1 1.9l1.2 -0.1l1.1 1l1.1 -0.4l1.2 -0l1.1 0.2l1.2 0.6l1.1 0.1l1.2 -0.6l1.1 0.3l1.2 0.7l1.1 -0.1l1.2 -0.4l1.1 0.4l1.2 0.6l1.1 0.1l1.1 -0.1l1.2 -1.1l1.1 0.2l1.2 0.1l1.1 0.7l1.2 -0.5l1.1 0.4l1.2 -0.4l1.1 0l1.2 -0.3l1.1 0.7l1.2 0.2l1.1 -0.5l1.2 -0.5l1.1 -0.6l1.1 0.2l1.2 0.3l1.1 0.2l1.2 -0.3l1.1 0.3l1.2 0.4l1.1 -0.2l1.2 -0.3l1.1 0l1.2 -0.2l1.1 0.4l1.2 0.2l1.1 0.7l1.2 -0.3l1.1 -0.9l1.1 1.4l1.2 -0.4l1.1 -1.3l1.2 0.1l1.1 -0.1l1.2 -0.5l1.1 0.5l1.2 1.4l1.1 -0.3l1.2 -0.4l1.1 0.5l1.2 -0.2l1.1 -0.4l1.2 -0.3l1.1 -0.4l1.1 0.9l1.2 -0l1.1 0.1l1.2 -0.5l1.1 0.3l1.2 -0.1l1.1 -0.1l1.2 0.9l1.1 -1.4l1.2 0.3l1.1 -0.5l1.2 0.4l1.1 0.4l1.2 -0.5l1.1 -0.8l1.1 0.2l1.2 1.4l1.1 0.8l1.2 -0.6l1.1 -0.9l1.2 0.1l1.1 -0.1l1.2 0.7l1.1 0.1l1.2 0.8l1.1 -0.5l1.2 0.7l1.1 -0.5l1.2 -0.7l1.1 0.6l1.1 0.1l1.2 -0.7l1.1 0.5l1.2 0.1l1.1 -0.6l1.2 0.4l1.1 0.3l1.2 -0.5l1.1 -0.7l1.2 0.7l1.1 -0.1l1.2 -0.8l1.1 -0.6l1.2 0.4l1.1 0.7l1.1 -0.5l1.2 0.8l1.1 -0.3l1.2 0.8l1.1 -1l1.2 -0.1l1.1 0.9l1.2 0.3l1.1 -1l0.3 0.1l0.6 -1l0.3 1l0.2 0.7l0.5 -0.8l0.4 0.3l0.1 -0.3l0.5 0.6l0.5 -0.6l0.1 -0.1l0.4 -1.4l0.5 -0.1l0.2 0.1l0.3 0.3l0.5 -0.4l0.3 -1.4l0.3 -1l0.5 -2.3l0.4 -1.9l0.1 0.2l0.4 0.3l0.1 -0.1l0.5 1.3l0 -0.3l0.5 1.7l0.5 0.8l0.2 -0l0.3 1.4l0.5 0.9l0.3 0.8l0.2 -0l0.5 -0.3l0.2 0.4l0.3 -0.2l0.1 0.7l0.1 0.3l0.4 -1.3l0.1 0.7l0.4 -0.2l0 -0.2l0.1 0.4l0.4 -0.6l0.1 -0.2l0.4 0.4l0.1 0l0.1 0.1l0.3 -1.2l0.1 -0.2l0.5 -0.8l0.2 0.2l0.4 -1.4l0.5 -2.2l0.3 -1.4l0.2 -1.9l0.5 -4.3l0.4 -4.9l0.1 -0.2l0.5 -5.2l0.4 -1.3l0.1 0.2l0.1 0.4l0.4 1l0.5 6.1l0.2 3.2l0.3 3l0.5 3.9l0.4 1.8l0.2 0.6l0.5 2.2l0.4 1.9l0.1 -0.2l0.1 -0.5l0.4 -0.8l0.1 -0.2l0.4 1.9l0 0.7l0.1 -0.5l0.4 -0.2l0.1 -0l0.4 0.1l0.1 -0.5l0.1 0.3l0.3 -0.1l0.2 0.6l0.3 -0l0.2 0.3l0.1 0.5l0.4 -1l0.5 0.1l0.3 -0.1l0.2 -0.7l0.5 -1.9l0.4 -0.9l0.1 0.9l0.5 -1.5l0.5 -2.2l0.1 -0.3l0.4 0.4l0 -0.5l0.6 0.5l0.1 -0.4l0.4 1.3l0.5 2.2l0.3 0.6l0.2 0.1l0.5 1.6l0.4 0.9l0.1 0.1l0.5 0.3l0.5 0.7l0.1 0.5l0.4 0.6l0.5 -0.7l0.2 -0.8l0.3 -0.5l0.6 0.2l0.3 0.5l0.2 0.3l0.9 -0.4l1.2 -0.1l1.1 -0.2l1.1 -0l1.2 0.3l1.1 0.3l1.2 0.6l1.1 -0.1l1.2 -0.1l1.1 -0.4l1.2 0.1l1.1 0.1l1.2 1l1.1 -0.6l1.2 0l1.1 -0.9l1.2 0.5l1.1 -0.3l1.1 -0.5l1.2 -0.3l1.1 -0.4l1.2 0.6l1.1 0.2l1.2 -0.2l1.1 -0l1.2 0.3l1.1 -0.2l1.2 -0.6l1.1 1.2l1.2 -0.9l1.1 0.5l1.2 0.4l1.1 -0.2l1.1 -0.3l1.2 0.3l1.1 0.5l1.2 -0.1l1.1 1l1.2 -0.2l1.1 -0.6l1.2 0.4l1.1 -0.8l1.2 -0.4l1.1 1.3l1.2 0.3l1.1 -1.3l1.2 0.5l1.1 0.7l1.1 0.2l1.2 0l1.1 0.3l1.2 0.5l1.1 -0.6l1.2 -0.9l1.1 -0.1l1.2 0.4l1.1 -0l1.2 -0.9l1.1 0.1l1.2 0.9l1.1 -0.7l1.2 -0.6l1.1 1.5l1.1 -1l1.2 -0.2l1.1 0.9l1.2 -1l1.1 -0.4l1.2 -0.6l1.1 0.1l1.2 0.2l1.1 0.4l1.2 1l1.1 0.5l1.2 -0.7l1.1 0.1l1.1 -0l1.2 -0.9l1.1 -0.1l1.2 0.3l1.1 -0.6l1.2 0.8l1.1 -0.3l1.2 -0.1l1.1 0.9l1.2 -1.3l1.1 0.3l1.2 -0.2l1.1 0.1l1.2 0.5l1.1 -0l1.1 -0.9l0.8 -0.7l0.4 0.4l0.1 -0.3l0.5 -0.6l0.5 -0.3l0 0.4l0.5 -0.1l0.5 -0.3l0.2 0.1l0.3 -1.7l0.5 -1.7l0.3 -0.6l0.2 -1.5l0.5 -4.2l0.5 -5.7l0.1 -0.7l0.5 -8.8l0.5 -9.6l0 -2.2l0.5 -7.1l0.4 -2.8l0.1 0.1l0.2 0.1l0.3 3.9l0.5 9.7l0.3 6.1l0.2 3.5l0.5 9l0.5 5.2l0 0.6l0.6 3.5l0.5 2.6l0 -0.1l0.5 1.8l0.5 0.6l0.2 0.2l0.3 0.7l0.5 0.3l0.3 0.2l0.2 -0.2l0.5 1.3l0.5 0.2l1.1 0l1.1 -0.5l1.2 0.2l1.1 -0.1l1.2 0.4l1.1 -1.2l1.2 0.3l1.1 0.2l1.2 -0.2l1.1 1.1l1.2 0.4l1.1 -0.5l1.2 0.1l1.1 -0.5l1.2 -0.2l1.1 0.2l1.1 -0.1l1.2 -0l1.1 0.7l1.2 -0.2l1.1 0.3l1.2 0.8l1.1 -1.3l1.2 1l1.1 -0l1.2 -1.1l1.1 -0.2l1.2 0.5l1.1 -0.1l1.2 -0.1l1.1 0l1.1 -0.2l1.2 -0.3l1.1 0.3l1.2 0.9l1.1 -0.2l1.2 -1l1.1 -0.4l1.2 -0.1l1.1 0.9l1.2 0.4l1.1 -0.6l1.2 0.7l1.1 -0.8l1.2 1.5l1.1 -0.3l1.1 -0.1l1.2 -0.1l1.1 -0.1l1.2 -0.2l1.1 -0.3l1.2 -0.7l0.3 0l0.5 0l0.3 1.2l0.2 -0.5l0.5 -0.3l0.5 -0.5l0 1l0.6 -1.3l0.5 -0.8l0 0.1l0.5 0.4l0.5 0.3l0.2 -0.2l0.3 -2.1l0.5 -1.6l0.3 -0.8l0.2 -1.3l0.5 -2.2l0.5 -2.8l0 0.1l0.5 -4l0.6 -2.9l0 -0.1l0.4 -0.8l0.1 -0.1l0.5 1.6l0.2 1l0.3 2.6l0.5 3.3l0.3 1.5l0.2 1.3l0.5 2.7l0.4 1.4l0.1 0.6l0.5 1.9l0.5 0.3l0.1 -0.5l0.4 0.1l0.6 0.3l0.1 -0.3l0.4 0.1l0.5 -0.1l0.3 0.9l0.2 -0.2l0.1 -0.6l0.4 -0.3l0.1 1.3l0.3 0.4l0.1 0.7l0.1 -0.2l0.5 -0.5l0.5 -1.1l0.1 0.2l0.5 0.1l0.5 -0.2l0 -0.1l0.5 -0.7l0.5 -0.7l0.2 -0.2l0.3 -0.3l0.5 -1.5l0.3 -1.9l0.2 -1.9l0.5 -3.1l0.5 -2.8l0 -1.2l0.5 -4.2l0.6 -3.7l0 0l0.4 -1.1l0.1 0l0.5 1.8l0.2 1.2l0.3 2.4l0.5 4.7l0.3 2.2l0.2 1.9l0.5 3.8l0.4 0.9l0.1 1.1l0.5 2.1l0.5 0.9l0.1 0.2l0.5 0.7l0.5 -1.1l0.1 0.3l0.4 0.1l0.5 0.3l0.3 0.9l0.2 -0.4l0.5 -0.2l0.4 -0.4l0.1 -0.1l1.1 0.4l1.1 0.1l1.2 1.3l1.1 0.1l1.2 1.2l1.1 -0.4l1.2 -0l1.1 -0.4l1.2 -0.5l1.1 0.9l1.1 -0.4l1.2 -0.8l1.1 -0l1.2 1.2l1.1 -1.8l1.2 0.7l1.1 -0.5l1.2 0.5l1.1 0.1l1.2 0.6l1.1 0.7l1.2 -0.9l1.1 -0.3l1.2 -0.5l1.1 0.4l1.1 0.9l1.2 -0.5l1.1 -0.4l1.2 -0.2l1.1 -0.3l1.2 0.9l1.1 -0.3l1.2 0.4l1.1 -0.9l1.2 -0.3l1.1 0.6l1.2 0.5l1.1 -0.4l1.2 -0.8l1.1 0.5l1.1 -0.6l1.2 0.3l1.1 -0.1l1.2 0.9l1.1 0.5l1.2 -0.4l1.1 -0.4l1.2 0.2l1.1 0.4l1.2 0.8l1.1 -0.5l1.2 -0.4l1.1 -0.2l1.2 0.5l1.1 -0.2l1.1 -0.6l1.2 0.1l1.1 0.2l1.2 0.2l1.1 0.4l1.2 -0.9l1.1 0.3l1.2 0.6l1.1 -0.6l1.2 -0.5l1.1 0.7l1.2 0.8l1.1 -0.1l1.2 -1.1l0.9 -0.7l0.2 -0.1l0.3 0.1l0.6 -0.9l0.2 1.6l0.3 -0.9l0.5 0l0.4 0.3l0.1 0.7l0.5 -0.6l0.5 -0.9l0 0.3l0.5 0l0.5 0.3l0.2 -0.8l0.3 -0.6l0.5 -0.7l0.3 -0.2l0.2 -0.3l0.6 -1.6l0.4 -2.4l0.1 -0.4l0.5 -2.8l0.5 -2.2l0 0.1l0.5 -0.7l0.4 -0.1l0.1 -0.1l0.2 0.7l0.3 0.2l0.5 2.3l0.3 0.3l0.2 0.7l0.5 2.1l0.5 1.8l0.1 0.3l0.5 1.4l0.5 0.9l0 0.1l0.5 0.5l0.5 1l0.2 1.1l0.3 -0.6l0.5 1l0.3 -1.4l0.2 0.5l0.5 -0.4l0.5 -0.8l0 0.8l0.5 0.9l0.6 -0.6l-0 -0.1l0.5 -0.2l0.6 0.2l1.2 0.4l1.1 0.5l1.2 -0.3l1.1 0.5l1.2 0.7l1.1 -1.2l1.2 1l1.1 0.3l1.2 -1l1.1 0.1l1.2 -0.4l1.1 -1.2l1.1 1.3l1.2 0.5l1.1 -0.1l1.2 0.3l1.1 -0.1l1.2 -0.9l1.1 0.9l1.2 0.4l1.1 -0.6l1.2 0l1.1 -0.1l1.2 0.6l1.1 -0.5l1.2 0.5l1.1 -0.7l1.1 0.4l1.2 -0.2l1.1 -0.1l1.2 -1.4l1.1 0.9l1.2 0.3l1.1 0.8l1.2 -0.8l1.1 -0.8l1.2 0.9l1.1 -0.3l1.2 0.3l1.1 0.6l1.2 -0.6l1.1 0.5l1.1 -0.1l1.2 0.3l1.1 -0.3l1.2 -0.4l1.1 -0.7l1.2 1.3l1.1 0.6l1.2 -1l1.1 0.1l1.2 -1l1.1 0.4l1.2 -0.1l1.1 -0.7l1.2 0.2l1.1 0.6l1.1 -1.6l1.2 -1.6l1.1 -1.4l1.2 1.6l1.1 1l1.2 2.1l1.1 1l1.2 -0.6l1.1 0.4l1.2 0.1l1.1 -0.6l0.1 0.1l0.5 -0.9l0.5 -0.7l0.1 0.7l0.4 -0.1l0.5 0.3l0.2 -0.2l0.3 -0l0.6 0.2l0.3 0.3l0.2 0.6l0.5 0.3l0.4 -0.8l0.1 -0l0.5 -1l0.5 -0.4l0 0.2l0.5 -0.5l0.5 -1.1l0.2 0.4l0.3 -0.5l0.5 -1l0.3 -2.1l0.3 -0.6l0.5 0.5l0.4 -0.2l0.1 -1.1l0.5 1.3l0.5 0.7l0 -0.2l0.5 1.6l0.5 1.1l0.2 0.4l0.3 -0.5l0.5 1.2l0.3 0.1l0.2 0.3l0.6 0l0.4 0.4l0.1 0.4l0.5 0.7l0.5 -1.1l0 0.3l0.5 -0.5l0.5 0.3l0.2 1.5l0.3 -1.1l0.5 0.3l0.3 -1.1l0.2 1.6l0.5 0.2l0.5 0.5l1.1 -0.7l1.2 0.2l1.1 0.8l1.1 0.1l1.2 0.1l1.1 -0.7l1.2 -0.2l1.1 -0.5l1.2 -0.7l1.1 -0.2l1.2 -0.1l1.1 0.6l1.2 0.1l1.1 -0.7l1.2 -0.5l1.1 1.1l1.1 0.5l1.2 0.1l1.1 -0.3l1.2 0.2l1.1 -0.2l1.2 0.3l1.1 -0.6l1.2 0.2l1.1 -0.2l1.2 0.6l1.1 -0.3l1.2 0.3l1.1 -0.5l1.2 0.4l1.1 0.1l1.1 0.6l1.2 0.2l1.1 -0.1l1.2 -0.6l1.1 0.5l1.2 -0.6l0.5 0.8l0.5 -0.7l0.1 -0.3l0.4 0.6l0.5 -0.1l0.3 -0.7l0.2 -0.4l0.5 0.8l0.4 -0.1l0.1 0.5l0.5 -0.8l0.5 -0.1l0.1 -1.1l0.4 -0.7l0.5 -0.3l0.2 0.3l0.4 -0.2l0.5 -0.9l0.3 -0.3l0.2 -0.5l0.5 -1.1l0.4 -0.5l0.1 -0l0.5 -1.6l0.5 -0.8l0.1 -0.2l0.3 -0.3l0.1 0.3l0.5 0.4l0.2 0.4l0.3 1.2l0.6 1.3l0.2 0.4l0.3 0.9l0.5 0.8l0.4 0.2l0.1 0.5l0.5 0.2l0.5 0.1l0 0.7l0.5 0.5l0.5 -0.5l0.2 0.5l0.3 0.2l0.5 -0.3l0.3 0.2l0.3 1.1l0.5 -0.4l0.4 -0.3l0.1 0.5l0.5 -0.3l0.5 -0.3l0 -0.5l1.2 -0.3l1.1 -0.7l1.2 0.2l1.1 0.4l1.2 -0l1.1 0.6l1.2 0.8l1.1 -0.1l1.1 -0.6l1.2 0.3l1.1 0.4l1.2 0.3l1.1 -0.2l1.2 -0.5l1.1 0.1l1.2 0.5l1.1 -0.5l1.2 -0.7l1.1 -0.6l1.2 0.4l1.1 1.6l1.2 0l1.1 -0.4l1.1 -1.1l1.2 1.3l1.1 -0.3l1.2 -0.8l1.1 1l1.2 -0.2l1.1 -0l1.2 -0.5l1.1 -0.6l1.2 -0l1.1 0l1.2 -0.2l1.1 0l1.2 0.8l1.1 0.9l1.1 0.4l1.2 -0.8l1.1 -0.6l1.2 0.2l1.1 0.8l1.2 -0.2l1.1 -0.7l1.2 -0.1l1.1 0.4" fill="none" stroke="#00ff00" stroke-width="10.5" stroke-linejoin="round" stroke-linecap="round"/>
<path d="M451.9 1573.8V1742.5M599.7 1708.8V1742.5M611.2 1691.3V1742.5M621.4 1707.8V1742.5M741.1 1683.8V1742.5M816.3 1697.5V1742.5M831.6 1698.2V1742.5M920.8 1713.8V1742.5M928.4 1703V1742.5M1006.1 1711.3V1742.5M1025.2 1711.3V1742.5M1073.6 1716.8V1742.5M1085.1 1707.8V1742.5M1097.8 1715.8V1742.5M1157.7 1718.8V1742.5" fill="none" stroke="#000" stroke-width="7.5" stroke-linecap="round"/>
<path d="M436.6 1784.2V1860M444.9 1791V1860M481.2 1756.2V1860M488.4 1808V1860M495.2 1808V1860M574.2 1802.2V1860M611.2 1808V1860M617.5 1808V1860M641.7 1808V1860M685.1 1783.2V1860M699.1 1781V1860M711.8 1808V1860M760.2 1807V1860M771.7 1793V1860M778.1 1806.7V1860M789 1808V1860M796.8 1801V1860M817.6 1808V1860M825.2 1808V1860M844.3 1806.6V1860M855.8 1806.6V1860M871.1 1808V1860M881.3 1808V1860M887 1808V1860M945 1802V1860M956.4 1808V1860M961.5 1808V1860M973 1808V1860M979.4 1808V1860M997.2 1805V1860M1006.1 1805V1860M1011.2 1805V1860M1029 1803.4V1860M1063.4 1808V1860M1073.6 1806V1860M1086.4 1808V1860M1102.9 1808V1860M1114.4 1808V1860M1122 1808V1860M1148.8 1806V1860" fill="none" stroke="#930080" stroke-width="8" stroke-linecap="round"/>
<text font-size="60.5" font-weight="bold"><tspan x="748.2" y="1139.8">7%La-B-TiO</tspan><tspan x="1088" y="1154.5" font-size="40.5">2</tspan></text>
<text font-size="60.5" font-weight="bold"><tspan x="748.2" y="1234">4%La-B-TiO</tspan><tspan x="1088" y="1248.7" font-size="40.5">2</tspan></text>
<text font-size="60.5" font-weight="bold"><tspan x="747" y="1338">1%La-B-TiO</tspan><tspan x="1088" y="1351.4" font-size="40.5">2</tspan></text>
<text font-size="60.5" font-weight="bold"><tspan x="918.4" y="1536">B-TiO</tspan><tspan x="1079.5" y="1549.4" font-size="40.5">2</tspan></text>
<text font-size="60.5" font-weight="bold"><tspan x="754.9" y="1682.7">Anatase-TiO</tspan><tspan x="1081.9" y="1697.8" font-size="40.5">2</tspan></text>
<text font-size="60.5" font-weight="bold"><tspan x="972" y="1793.7">LaF</tspan><tspan x="1076.9" y="1808" font-size="40.5">3</tspan></text>
<path d="M1334.3 1166.2l1.1 0.4l1.2 0.5l1.1 0.7l1.2 -1.2l1.1 -0.4l1.2 -0.4l1.1 0.1l1.2 0.2l1.1 -0.5l1.2 0.5l1.1 -0.6l1.2 0.7l1.1 -0.4l1.2 0.4l1.1 0.4l1.1 -0.1l1.2 -0.3l1.1 -0.3l1.2 -0.4l1.1 1.2l1.2 0.2l1.1 0.8l1.2 -0.3l1.1 -0.2l1.2 -0.6l1.1 -0.2l1.2 -0.7l1.1 0.8l1.2 0.5l1.1 0.6l1.1 0.3l1.2 -1.1l1.1 -1.4l1.2 0.8l1.1 0.3l1.2 -0.5l1.1 -0.3l1.2 0.7l1.1 1l1.2 -0.1l1.1 -0.7l1.2 0.4l1.1 0.4l1.2 -1l1.1 0.4l1.1 -0.6l1.2 0.1l1.1 0.3l1.2 0l1.1 -0.8l1.2 0.5l1.1 -0.7l1.2 0.7l1.1 -0.9l1.2 0.2l1.1 0.1l1.2 -0.1l1.1 0.5l1.1 0.3l1.2 1l1.1 -0.1l1.2 0.2l1.1 -1l1.2 0.6l1.1 0.2l1.2 0.4l1.1 0.2l1.2 -1l1.1 -0.9l1.2 -0.2l1.1 -0.1l1.2 1.1l1.1 -1.2l1.1 0.4l1.2 0.7l1.1 -0.2l1.2 -0.7l1.1 -0.2l1.2 0.6l1.1 0.5l1.2 -0.2l1.1 0.2l1.2 0.6l1.1 -0.5l1.2 0.9l1.1 -1l1.2 0.9l1.1 -1.2l1.1 0.7l1.2 -0.2l1.1 -1l1.2 0.3l1.1 0.4l1.2 0.2l1.1 -0l1.2 -0.3l1.1 -0.1l1.2 0l1.1 0.7l1.2 -0l1.1 0.1l1.2 -0.2l1.1 0.5l1.1 0.9l1.2 0.4l1.1 -1.6l1.2 -0.8l1.1 -0.5l1.2 0l1.1 1.3l1.2 -0.5l1.1 -0l1.2 -0.2l1.1 -1l1.2 -0.3l1.1 0.1l1.2 0l1.1 0.3l1.1 0.1l1.2 0.2l1.1 -0.7l1.2 1.1l1.1 0.3l1.2 -0.4l1.1 -0.2l1.2 -0.3l1.1 -0.7l1.2 0.9l1.1 -0l1.2 0.8l1.1 0.7l1.2 -1.1l1.1 -0.5l1.1 0.5l1.2 -0.2l1.1 -0.2l1.2 -0l1.1 0.4l1.2 -0.7l1.1 0.4l1.2 0.8l1.1 -0.5l1.2 -0.1l1.1 0.3l1.2 0.5l1.1 0.3l1.2 -0.1l1.1 0.6l1.1 -0.9l1.2 0.7l1.1 -0.2l1.2 -0.5l1.1 -1l1.2 1.1l1.1 -0.1l1.2 0.1l1.1 0.6l1.2 -0.7l1.1 0.3l1.2 0.1l1.1 0.6l1.1 -0.4l1.2 0.6l1.1 -1l1.2 -0.3l1.1 -0.5l1.2 -0.5l1.1 1.2l1.2 -0.1l1.1 -0.2l1.2 -0l1.1 -0l1.2 -0.9l1.1 -0l1.2 0.4l1.1 -0.6l1.1 0.2l1.2 0l1.1 -0.3l1.2 -0.4l1.1 0.2l1.2 0.5l1.1 0.5l1.2 -0.8l1.1 0.4l1.2 0.5l1.1 -0.9l1.2 -0.4l1.1 0.8l1.2 0.5l1.1 0.3l1.1 0.7l1.2 -0.1l1.1 0.3l1.2 -0.5l1.1 -0.4l1.2 -0.7l1.1 0.1l1.2 -0.2l1.1 -0.3l1.2 0.5l1.1 0.1l1.2 -0.4l1.1 0l0.7 0.1l0.5 0.1l0 -0.5l0.5 0.3l0.5 -0.5l0.1 0.2l0.5 -0.5l0.5 1l0.1 -1.2l0.4 0.4l0.5 -1.1l0.3 0.6l0.2 -1.2l0.5 -0.5l0.4 -1.5l0.1 0.2l0.5 -3.3l0.5 -3.2l0.1 0l0.4 -3.1l0.6 -4.7l0.1 -2.3l0.4 -1.7l0.4 -1.2l0.1 0.5l0.3 0.7l0.2 0.6l0.5 3.9l0.4 4.5l0.1 0.8l0.5 3.2l0.5 3.2l0.1 -0.7l0.4 1.6l0.5 1.6l0.2 0.2l0.4 0.3l0.3 0.6l0.2 1.2l0.3 -0.2l0.1 0.1l0.1 0.8l0.4 -1.8l0.1 0.1l0.4 0.7l0 -0.9l0.1 0.1l0.4 0.9l0.1 -0.1l0.4 -0.1l0.1 1l0.1 -1.6l0.3 0.5l0.1 -0.9l0.4 0l0.3 0l0.2 -0.3l0.5 -1.3l0.5 -0.8l0 -0.2l0.6 -2.2l0.5 -3.2l-0 -0.4l0.5 -3.9l0.5 -6.8l0.1 -3.5l0.4 -5.4l0.5 -6.3l0.3 -3.5l0.2 -1.5l0.4 -1l0.1 1.1l0.4 1.2l0.1 1.1l0.5 5.1l0.5 7.7l0.1 -0.6l0.5 7.4l0.5 5.4l0.1 2.8l0.4 2.4l0.5 2.3l0.3 1.1l0.2 0.5l0.5 1.8l0.4 1.5l0.1 0l0.5 0.3l0.5 0.2l0.1 1l0.4 -0.6l0.6 0.6l0.1 -0.5l0.4 -0.3l0.5 0.8l0.3 -0.8l0.2 1.3l0.9 0.9l1.2 -0.8l1.1 -0.5l1.2 0.2l1.1 -0l1.1 -0.2l1.2 0.8l1.1 1.2l1.2 -0.7l1.1 -0.1l1.2 -0.7l1.1 -0.4l1 -0.7l0.2 -0l0.3 -0l0.5 -0.5l0.3 -0.1l0.2 -0.5l0.5 -0.2l0.5 -1.4l0 0.5l0.5 -1.1l0.6 -1.6l0 -0.4l0.5 -3.1l0.5 -5.6l0.2 -2.9l0.3 -5.9l0.5 -12.7l0.3 -8l0.2 -4.8l0.5 -11.9l0.5 -2.1l0 0.6l0.5 5.3l0.5 13.5l0.1 1.3l0.5 11.8l0.5 11.3l0.1 2.3l0.4 4.7l0.5 5.1l0.3 1.3l0.2 0.8l0.5 1.7l0.4 1l0.1 -0.4l0.5 0.7l0.5 0.3l0.1 0.7l0.4 -0l0.6 0.7l0.1 0l1.2 0.1l1.1 0.8l1.2 0.3l1.1 -0.2l1.2 0.6l1.1 0.6l1.2 -1.3l1.1 0.6l1.1 -1.1l1.2 0.4l1.1 0.7l1.2 0.3l1.1 0.1l1.2 -0.2l1.1 0.2l1.2 -0.8l1.1 1.2l1.2 -1.4l1.1 0.1l1.2 -0.6l1.1 0.3l1.2 -0l1.1 -0.3l1.1 1l1.2 -0.3l1.1 -0.2l1.2 0.2l1.1 0.6l1.2 0.2l1.1 -0.4l1.2 0.2l1.1 -0l1.2 -0.1l1.1 -0.4l1.2 0.3l1.1 -0.8l1.2 0.8l1.1 0.5l1.1 -0.3l1.2 -0.3l1.1 -1l1.2 0.3l1.1 0.8l1.2 -0.8l1.1 0.7l1.2 -0.3l1.1 1.2l1.2 -0l1.1 0.4l1.2 -0.6l1.1 -0.3l1.2 -0.6l1.1 1l1.1 -0.4l1.2 -0l1.1 -0.7l1.2 0.3l1.1 -0.5l1.2 0.3l1.1 0.8l1.2 -0.5l1.1 -0.5l1.2 0.4l1.1 0.1l1.2 -0.4l1.1 -0.7l1.2 0.5l1.1 0.5l1.1 0.1l1.2 0.7l1.1 -0.2l1.2 -0.1l1.1 -1.2l1.2 -0.7l1.1 -1.5l1.2 -1.6l1.1 1.2l1.2 1.5l1.1 1.4l1.2 0.1l1.1 0.4l1.2 0.6l1.1 0l1.1 0.3l1.2 -0.3l1.1 -1l1.2 0.7l1.1 -0.3l1.2 -0.5l1.1 1l1.2 -0.2l1.1 -0.3l1.2 -0.7l1.1 0.8l1.2 -0.1l1.1 -0.5l1.1 0.5l1.2 0.5l1.1 0.2l0.1 0.1l0.6 0.2l0.5 -1.1l-0 -0.5l0.5 0.4l0.5 0.7l0.1 1.1l0.4 -1.3l0.5 -0.2l0.3 -0.5l0.2 0l0.5 -0.4l0.4 0.2l0.1 -0l0.5 0.3l0.6 -0.3l-0 0.9l0.5 -0.3l0.5 -0.7l0.1 -0.8l0.4 -0.4l0.5 -1.4l0.3 -0.4l0.2 -0.8l0.5 -0.5l0.4 -1.2l0.1 -0.1l0.5 -0.2l0.4 -0.3l0.1 -0.2l0.1 -0.8l0.4 0.7l0.6 1.6l0.1 0.1l0.4 0.4l0.5 1.4l0.3 1.5l0.2 0l0.5 0.3l0.4 -0l0.1 0.1l0.5 -0.3l0.5 0.3l0 -0.1l0.5 1.4l0.5 -0.8l0.2 0.3l0.4 -0.1l0.5 -0.4l0.2 0.7l0.3 0.7l0.5 -0.2l0.4 -0.2l0.1 0.1l0.5 0.4l0.5 0.1l0 -0.3l0.5 -0.3l0.7 0.1l1.1 -0.6l1.2 0.2l1.1 0.9l1.2 -0.1l1.1 -0.1l1.2 -0.6l1.1 -0.4l1.2 0.9l1.1 -0.1l1.1 -0.5l1.2 -0.4l1.1 0.2l1.2 1.2l1.1 -0.1l1.2 -1.3l1.1 0.2l1.2 0.5l1.1 -0.6l1.2 0.3l1.1 1l1.2 -0.5l1.1 -0.9l1.2 0.2l1.1 0.7l1.1 -0.5l1.2 0.3l1.1 0.2l1.2 0l1.1 0l1.2 -0.8l1.1 1.6l1.2 -0.3l1.1 0.6l1.2 -0.4l1.1 -0.7l1.2 -0.8l1.1 -0.2l1.2 0.4l1.1 -0.2l1.1 1.1l1.2 -0.1l1.1 -0l1.2 0.8l1.1 -0.2l1.2 -1.4l1.1 0.6l1.2 -0.9l1.1 -0.5l1.2 0.8l0.3 0.1l0.5 -1l0.3 0.6l0.2 1.4l0.5 -1.6l0.5 -0.6l0 -0.7l0.5 0.1l0.6 -0.5l0 -0l0.5 -1.4l0.5 -0.9l0.2 -0.6l0.3 -0.3l0.5 -4.1l0.3 -3.9l0.2 -2.7l0.5 -5.5l0.4 -4.3l0.1 -0.7l0.5 -0.6l0 0l0.5 2.6l0.1 -0.1l0.5 4.7l0.5 6.4l0.1 2.5l0.4 3.1l0.5 3.2l0.3 1.2l0.2 1.6l0.5 1.3l0.4 0.6l0.1 -0.9l0.5 0.5l0.5 -0.1l0.1 -0.4l0.4 -0.3l0.5 0.9l0.2 0.3l0.4 0.2l0.5 -0l0.3 -0l0.2 -0l0.5 0.1l0.4 -0.8l0.1 -0.3l0.5 -0.2l0.5 -0.1l0.1 0.1l0.4 -0.7l0.5 -1.5l0.2 -0.2l0.3 -1.5l0.6 -2.2l0.3 -1.4l0.2 -2.6l0.5 -4.2l0.4 -5.6l0.1 -1.8l0.5 -5.5l0.4 -2.3l0.1 0.8l0.1 0.5l0.4 3.3l0.5 5.9l0.2 2.5l0.3 3.5l0.5 4.3l0.3 2.7l0.2 1.4l0.6 2.7l0.4 1.2l0.1 -0.2l0.5 1l0.5 -0.2l0 0l0.5 -0l0.5 0.1l0.2 -0.3l0.3 0.2l0.5 0.7l0.3 -0.5l1.2 1l1.1 0.5l1.2 0.1l1.1 -0.5l1.2 0.9l1.1 -0.5l1.2 0l1.1 0.6l1.1 -0.6l1.2 0.4l1.1 -0.4l1.2 0.7l1.1 -0.4l1.2 -0.2l1.1 0.3l1.2 0l1.1 -0.4l1.2 0.5l1.1 -1l1.2 0.8l1.1 0.5l1.2 -0.3l1.1 -0.4l0.8 0l0.3 -1.3l0.3 0.2l0.5 0.9l0.4 -0.3l0.1 0.3l0.5 0.3l0.5 0.4l0 -0.1l0.5 -0.4l0.5 0.3l0.2 -0.4l0.3 -0.5l0.5 0.5l0.3 -0.9l0.2 -0.5l0.5 -1.4l0.5 -0.8l0.1 -0.9l0.5 -1.4l0.5 -2.2l0 1.2l0.5 -1.4l0.4 -0.8l0.1 -0.2l0.2 -0.3l0.3 0.7l0.5 2.1l0.3 0.2l0.2 0.2l0.5 2.1l0.5 1l0 0.7l0.6 0.8l0.5 1l0 -1l0.5 1l0.5 0.6l0.2 0.1l0.3 0.5l0.5 0l0.3 -1.1l0.2 0.3l0.5 0l0.5 -0.1l0 1.3l0.5 -0.4l0.6 -0.9l1.1 0.4l1.2 0.4l1.1 -0.8l1.2 0.3l1.1 0.9l1.2 0.5l1.1 -1.4l1.2 -0.4l1.1 0.7l1.2 -0.3l1.1 -0.1l1.2 1l0.4 -1l0.5 0.1l0.2 -0.2l0.3 -1.3l0.5 0l0.4 0.5l0.2 0.5l0.5 -0.1l0.4 -0.3l0.1 0.4l0.5 -0.9l0.5 -0.6l0 0.1l0.5 -0l0.5 0l0.2 0.1l0.3 -2.3l0.5 -2.3l0.3 -1.1l0.2 -0.3l0.6 -2.2l0.4 -1.1l0.1 -1.5l0.4 -0.8l0.1 -0.1l0.5 1.1l0 1.1l0.5 2.4l0.5 2.5l0.2 0.4l0.3 1l0.5 2.3l0.3 -0.1l0.2 1.1l0.5 0.1l0.5 0.6l0 -0.1l0.6 0.7l0.5 1.2l0 -1l0.5 0.2l0.5 0.5l0.2 -0.3l0.3 -0.5l0.5 -0.4l0.3 0.6l0.2 0l1 0.6l1.1 -0.3l1.2 -1.1l1.1 1.4l1.1 0.3l1.2 0.4l0.7 -0l0.4 0.2l0.1 -0.3l0.5 -0.2l0.5 0.6l0.1 0l0.5 -0.5l0.5 0.2l0.1 -0.6l0.4 -0.9l0.5 0.3l0.3 0.1l0.2 -0.9l0.5 -0.2l0.4 0.2l0.1 0.1l0.5 -1l0.5 -0l0.1 -0.2l0.4 -1l0.6 -0.6l0.1 0.4l0.4 -1.4l0.5 -1.7l0.3 0l0.2 -0.6l0.4 -0.6l0.1 -0.1l0.4 -0.2l0.1 1l0.5 0.4l0.5 1.3l0.1 0.4l0.4 0.7l0.5 1.6l0.2 0.5l0.3 1.1l0.6 0.6l0.3 -0.5l0.2 0.6l0.5 0.5l0.4 -0.3l0.1 0l0.5 0.4l0.5 0.1l0 0l0.5 -0.1l0.5 0.4l0.2 -0.5l0.3 -0.1l0.5 0.1l0.3 -0.2l0.3 0.4l0.9 0.1l1.1 -0.3l1.2 0.4l1.1 -0.5l1.2 0.1l1.1 -0.8l1.2 1.1l1.1 -1.5l1.2 -1.8l1.1 -1.5l1.2 0.4l1.1 1.9l1.1 1.2l1.2 1.2l1.1 -0.7l0.5 0.4l0.5 0.7l0.2 -0.6l0.3 0.6l0.5 -0.7l0.3 -0.1l0.2 0.1l0.6 -0.2l0.4 -0.3l0.1 -0.1l0.5 -0.1l0.5 -0.5l0 0l0.5 -0.7l0.5 0.5l0.2 0.1l0.3 -0.4l0.5 -0.8l0.3 0l0.2 -0.4l0.5 -0.3l0.5 -0.7l0.1 0.5l0.5 -0.7l0.5 -0.9l0 -0.9l0.4 -0.1l0.1 -0.3l0.5 -0.3l0.2 0.4l0.3 0.9l0.5 1.7l0.3 1.6l0.2 -0.7l0.5 0.9l0.4 0.6l0.1 0.6l0.5 -0.3l0.6 0.7l-0 -1.2l0.5 0.1l0.5 0.7l0.1 -1l0.4 0.7l0.5 0.2l0.3 -0.1l0.2 0l0.5 -0l0.4 0.8l0.1 -0.7l0.5 0.2l0.5 -0l0.1 0.3l1.1 0.2l1.2 0l1.1 1.4l1.2 -1l1.1 -0.3l1.2 -0.3l1.1 -0l1.2 -0.3l1.1 -0.4l1.1 1.2l1.2 -0.1l1.1 -0.1l1.2 0.5l1.1 -0.4l1.2 -0.2l1.1 0.5l1.2 0l1.1 0.4l1.2 0.4l1.1 -1.6l1.2 0.6l1.1 -0.7l1.2 -0.3l1.1 0.6l1.1 0.3l1.2 0.3l1.1 0.7l1.2 -0.2l1.1 -0.1l1.2 -0.1l1.1 -1.1l1.2 0.6l1.1 0.7l1.2 0l1.1 -0.5l1.2 0.4l1.1 -1.7l1.2 0.8l1.1 0.5l1.1 -0.2l1.2 -0.4l1.1 -0.2l1.2 -0.2l1.1 1.1l1.2 -0.6l1.1 -0.4l1.2 0l1.1 0.7l1.2 -1l1.1 0.5l1.2 0.1l1.1 0.7l1.2 -0.1l1.1 -0.3l1.1 0.1l1.2 0.8l1.1 0.7l1.2 -0.2l1.1 -1.2l1.2 0.2l1.1 0.2l1.2 0.1l1.1 -1.2l1.2 0.3l1.1 -0.2l1.2 -0l1.1 0.4l1.2 0.1l1.1 -0.3l1.1 -0.2l1.2 0.3l1.1 0.2l1.2 -0.3l1.1 -0l1.2 -1.2l1.1 -1l1.2 -0.6l1.1 -0.1l1.2 1.2l1.1 0.6l1.2 0.2l1.1 0l1.2 0l1.1 0.4l1.1 0.6l1 -0.9l0.2 -0.2l0.3 0.5l0.5 0.1l0.3 0.7l0.3 -0.4l0.5 0.5l0.4 -1l0.1 -0.5l0.5 0.4l0.5 -0l0 0.2l0.5 -0.5l0.5 0.4l0.2 0.3l0.3 -0l0.5 -1l0.3 -0.5l0.2 0.4l0.5 -2l0.5 -1l0.1 1.4l0.5 -2.2l0.5 -0.2l0 0.1l0.5 -1.7l0.4 -0.1l0.1 0.3l0.2 -0.3l0.3 0.8l0.5 0.9l0.3 1.7l0.2 -0.2l0.5 0.6l0.5 0.9l0 0.1l0.6 0.2l0.5 1.2l0 -0.5l0.5 0.4l0.5 0.5l0.1 -0l0.4 0.5l0.5 -0.3l0.3 0.9l0.2 0.1l0.5 -0.9l0.4 -0.7l0.1 0.6l0.5 0.7l0.6 -0l-0 -0.9l0.5 0.1l0.6 0l1.2 1.2l1.1 -0.6l1.2 0.4l1.1 0.2l1.2 0.2l1.1 0.2l1.2 -0.4l1.1 0.1l1.2 0.8l1.1 -1l1.1 -0.1l1.2 -0.3l1.1 -0.3l1.2 -0.5l1.1 0.2l1.2 0.9l1.1 -0.5l1.2 1l1.1 -1.5l1.2 -0.4l1.1 -0.1l1.2 0.1l1.1 -0.5l1.2 1.2l1.1 -0.6l1.1 1.3l1.2 -0.8l1.1 0.5l1.2 0.7l1.1 -0.7l1.2 -1.2l1.1 -0.4l1.2 0.8l1.1 -0.1l1.2 -0.7l1.1 0.2l1.2 0.9l1.1 0.7l1.2 0.1l1.1 -0.4l1.1 -0.4l1.2 -1.5l1.1 -0.7l1.2 0.7l1.1 0.9l1.2 0.8l1.1 -0.3l1.2 -0.7l1.1 1.1l1.2 0.4l0.2 0.3l0.5 -0.8l0.4 0.5l0.1 -0.6l0.5 0.1l0.5 0.5l0.1 -0.5l0.4 0.2l0.6 0.3l0.1 -1.2l0.4 -0.5l0.5 0.3l0.3 0.4l0.2 -0.9l0.5 0.4l0.4 1.2l0.1 -0.2l0.5 -1.2l0.5 -0.3l0 -0.6l0.5 -0.9l0.5 -1l0.2 -0.7l0.3 -0.2l0.6 -0.7l0.2 -0.5l0.3 0.3l0.5 -0.3l0.4 0.3l0.1 -1l0.5 1.5l0.5 1.1l0 -0.8l0.5 0.8l0.5 0.5l0.2 0.2l0.3 1l0.5 1l0.3 -0.5l0.3 0.4l0.5 0.4l0.4 0.2l0.1 -0.7l0.5 -0.2l0.5 0.6l0 0.7l0.5 -0.5l0.5 0.1l0.2 1l0.3 0.1l0.5 -0.2l0.3 0.2l0.2 -0.4l0.6 -0l0.4 -0.1l0.1 -1.6l0.5 1.3l0.5 -0.2l1.2 0.1l1.1 0.2l1.1 0.7l1.2 -0.6l1.1 -0.7l1.2 0.8l1.1 0.6l1.2 -0.3l1.1 0.4l1.2 0.8l1.1 -0.6l1.2 -0.2l1.1 -0.1l1.2 0.6l1.1 -0.7l1.2 0.3l1.1 -0.4l1.1 -0.2l1.2 0.6l1.1 -0.5l1.2 0.4l1.1 0.9l1.2 -0.5l1.1 0.3l1.2 -0.1l1.1 0l1.2 0.2l1.1 -1.1l1.2 0.3l1.1 0.2l1.1 -0.6l1.2 0.3l1.1 -0.3l1.2 -0l1.1 0.3l1.2 0.4l1.1 -1.1l1.2 -0.1l1.1 0l1.2 0.1l1.1 0.2l1.2 -0.6l1.1 -0.6l1.2 -0.3l1.1 0.6l1.1 0.6l1.2 -0l1.1 0.9l1.2 -0.3l1.1 0.3l1.2 0.2l1.1 0.4l1.2 -0.3l1.1 -0.4l1.2 -0.1l1.1 0.1l1.2 -0.5l1.1 0.5l1.2 -0l1.1 -0.1l1.1 0.2l1.2 -0.3l1.1 0.7l1.2 0.3l1.1 1l1.2 -1.3l1.1 -0.7l1.2 -0.4l1.1 -0.2l1.2 0.1l1.1 -0.1l1.2 0.1l1.1 0.6l1.2 -0.6l1.1 0.1l1.1 0.5l1.2 -0.7l1.1 0.6l1.2 -0.3l1.1 0.4l1.2 -0.2l1.1 -0.6l1.2 0.4l1.1 0.6l1.2 -0l1.1 -0.7l1.2 0.8l1.1 -1.4l1.2 1.2l1.1 -0.5l1.1 -0.6l1.2 1l1.1 -0l1.2 -0.2l1.1 -0l1.2 -0.3l1.1 0.1l1.2 -0.2l1.1 0.8" fill="none" stroke="#00a077" stroke-width="10.5" stroke-linejoin="round" stroke-linecap="round"/>
<path d="M1334.3 1244.1l1.1 -0.1l1.2 0l1.1 0.4l1.2 -0.1l1.1 -0.8l1.2 0.4l1.1 -0l1.2 -0l1.1 0.2l1.2 0.1l1.1 0.6l1.2 0.1l1.1 -0.3l1.2 -0.5l1.1 -0.5l1.1 0.4l1.2 0.7l1.1 -0.2l1.2 -0.2l1.1 0.2l1.2 -0.8l1.1 0l1.2 0.4l1.1 0.5l1.2 -0.3l1.1 0.1l1.2 0.1l1.1 0.2l1.2 -0.7l1.1 0.3l1.1 -0.8l1.2 -1l1.1 0.3l1.2 0.1l1.1 1l1.2 0.4l1.1 -0.7l1.2 0.7l1.1 -0.6l1.2 0.2l1.1 -0.1l1.2 0.2l1.1 0.5l1.2 0.2l1.1 -0l1.1 0.1l1.2 -0l1.1 -0.6l1.2 -0.4l1.1 -0.1l1.2 0.5l1.1 -0.2l1.2 1.3l1.1 -0.9l1.2 -0.6l1.1 0.5l1.2 0.7l1.1 -0.1l1.1 0.1l1.2 0.4l1.1 -0.5l1.2 -1l1.1 -0.2l1.2 0.7l1.1 -0.8l1.2 0.2l1.1 0.3l1.2 -0.1l1.1 0.4l1.2 0.2l1.1 1l1.2 -0.3l1.1 -0.7l1.1 -0.5l1.2 -0.4l1.1 0.7l1.2 -0.4l1.1 0l1.2 0.5l1.1 -0.5l1.2 -0.1l1.1 -0.8l1.2 -0.1l1.1 0.2l1.2 0.6l1.1 0.7l1.2 -0.1l1.1 0l1.1 0l1.2 0.4l1.1 0.2l1.2 -0.2l1.1 -0.8l1.2 0.5l1.1 0.1l1.2 0.4l1.1 -0.3l1.2 0.7l1.1 -0.7l1.2 0.6l1.1 -0.4l1.2 -0.5l1.1 -0.7l1.1 0.1l1.2 0.9l1.1 0.2l1.2 0l1.1 -1.5l1.2 0.7l1.1 0.3l1.2 -0.4l1.1 -0.2l1.2 0.1l1.1 1l1.2 -0.8l1.1 -0.2l1.2 0.8l1.1 -0.5l1.1 -0.2l1.2 0.1l1.1 -0.6l1.2 0.4l1.1 -0.5l1.2 0.7l1.1 0l1.2 1.2l1.1 -0.3l1.2 0.3l1.1 -1.1l1.2 -0.1l1.1 0.2l1.2 0.8l1.1 -1.2l1.1 0.6l1.2 0.1l1.1 0.6l1.2 -0.1l1.1 -0.3l1.2 -0.5l1.1 -0.7l1.2 0.3l1.1 0l1.2 1.1l1.1 -0.6l1.2 0l1.1 -0.9l1.2 0.1l1.1 0.3l1.1 0.5l1.2 0.6l1.1 -0.4l1.2 -0.7l1.1 0.3l1.2 0.2l1.1 0.2l1.2 -0.6l1.1 0.6l1.2 -0.1l1.1 0.2l1.2 0.4l1.1 -0.1l1.1 -0.2l1.2 0.8l1.1 -0.5l1.2 -0.5l1.1 -0.2l1.2 0.6l1.1 -0.3l1.2 0l1.1 0.4l1.2 -0.7l1.1 -1l1.2 0.4l1.1 0.2l1.2 -0.3l1.1 0.6l1.1 0.2l1.2 -0.7l1.1 0.4l1.2 -0.2l1.1 -0.7l1.2 0.5l1.1 0l1.2 -0.3l1.1 0.5l1.2 0.2l1.1 -0.4l1.2 0.3l1.1 0.4l1.2 -0.6l1.1 0.2l1.1 -0.1l1.2 1l1.1 -1.4l1.2 0.4l1.1 -0.3l1.2 -0.1l0.5 1l0.6 -0.4l0 0.9l0.5 -0.9l0.5 -0.1l0.2 -0.5l0.3 -0.4l0.5 0.1l0.3 -0.1l0.2 0.2l0.5 -1.1l0.5 1.4l0 -0.2l0.5 0.8l0.5 -1l0.1 0.1l0.4 1.5l0.6 -1.2l0.2 -1l0.3 -0.2l0.5 0.3l0.3 0.3l0.2 0.5l0.5 -0.6l0.5 -1.1l0 -0l0.5 0.6l0.5 -0.2l0.1 -1.2l0.4 0l0.5 0.5l0.2 0.7l0.4 -0.6l0.5 -0.9l0.3 -1.4l0.2 -0.7l0.5 -0.6l0.4 -0.5l0.1 0.1l0.5 -1.5l0.5 -1.7l0.1 -0.4l0.4 -1.4l0.5 -0.6l0.2 -1.6l0.3 -0.4l0.5 -0.7l0.4 0.2l0.2 -0.5l0.5 -0.5l0.4 -1l0.1 -0.5l0.3 -0.4l0.2 1l0.5 0.6l0.1 0l0.4 2l0.5 0.1l0.2 0.2l0.3 0.4l0.5 0.8l0.4 1.9l0.1 0.6l0.6 -0.2l0.4 0.7l0.1 0.4l0 0.4l0.5 0l0 -0.9l0.5 0.3l0 0.8l0.1 0.4l0.4 1l0 -0.2l0.5 0.1l0 -0.6l0.2 0.9l0.3 0.6l0 0.7l0.5 0.3l0.1 -0.3l0.3 0.5l0.1 -0.4l0.1 -0.6l0.4 -0.6l0.1 -0.2l0.4 -1.7l0 0.5l0.1 0.3l0.5 -1.6l-0 -0.4l0.5 -2.1l0 0.7l0 -0.5l0.5 -4l0 -0.7l0.5 -5.1l0 -1l0.2 -2l0.3 -4.2l0 0.5l0.5 -7.4l0 -0.5l0.3 -5.6l0.2 -2.5l0.1 -1.3l0.4 -5.4l0.1 -0.2l0.4 -2.2l0 1.2l0.1 -0l0.4 1.8l0.1 0.8l0.5 6.3l-0 0.7l0 0.9l0.5 7.3l0 -0.5l0.5 7.3l0 1.4l0.2 3.1l0.3 4.8l0 0.8l0.5 3.3l0 0.7l0.3 1.3l0.2 2.3l0 0.2l0.5 1.7l0.1 1.4l0.4 1.4l0 -1.1l0.1 0.4l0.5 0.8l0.5 1l0 -0.1l0.5 1.3l0.5 -0.5l0.2 0.5l0.3 1.1l0.5 -0.5l0.3 0.2l0.2 0.1l0.5 -0.3l0.5 0.6l1.1 0.2l1.2 -0.3l1.1 1.1l1.1 0.2l1.2 -0.3l1.1 -0.5l1.2 -0.3l1.1 0.7l1.2 -0.3l1.1 0.1l1.2 -0.5l0.4 0.2l0.5 -0.4l0.2 0.2l0.3 -0.4l0.6 0l0.3 -0.1l0.2 -0.5l0.5 -1.1l0.4 -1.1l0.1 -0.3l0.5 -1.7l0.5 -1.8l0.1 -0.4l0.4 -3.2l0.5 -5.9l0.2 -3.6l0.3 -7.3l0.5 -10.7l0.4 -5.7l0.2 -3.8l0.4 -2.7l0.1 0.5l0.4 3.8l0.1 1l0.5 9.7l0.5 11.5l0 0.7l0.5 7.1l0.5 5.9l0.2 2.2l0.3 1.8l0.5 2.6l0.3 1.2l0.2 0.6l0.5 1.2l0.5 -0.2l0.1 0.5l0.5 -0.4l0.5 0.1l0 0.7l0.5 0.4l0.7 -0.1l1.1 -0.5l1.2 0.6l1.1 -0.2l1.2 -0.2l1.1 -0l1.2 0.5l1.1 -0.9l1.1 0.7l1.2 0.3l1.1 -0.1l1.2 0.7l1.1 0.2l1.2 -0.5l1.1 -0.3l1.2 0.5l1.1 -0.8l1.2 0.1l1.1 -0l1.2 0.3l1.1 0.2l1.2 0.1l1.1 0.6l1.1 -0.1l1.2 -0.3l1.1 -0.7l1.2 0.6l1.1 0.3l1.2 0.6l1.1 -0.7l1.2 -0.1l1.1 -0.1l1.2 -0l1.1 -0l1.2 -0.9l1.1 0.8l1.2 0.4l1.1 0.4l1.1 0.9l1.2 -0.8l1.1 -0.3l1.2 -0.2l1.1 0.9l1.2 -1.4l1.1 0.4l1.2 -0.8l1.1 -1.1l1.2 -0.3l1.1 0.1l1.2 1.3l1.1 -0.2l1.2 0.2l1.1 -0.3l1.1 0.7l1.2 -0.5l1.1 1l1.2 -0.6l1.1 -0.3l1.2 0.3l1.1 0.2l1.2 0.7l1.1 -0.2l1.2 -0.7l1.1 -0.2l1.2 -0.1l1.1 0.6l1.2 0.2l1.1 -0.1l1.1 0.4l1.2 -0.5l1.1 -0.1l1.2 0l1.1 0.6l1.2 -0.7l1.1 -1.2l1.2 -1.3l1.1 0.9l1.2 0.6l1.1 0.8l1.2 -0.7l1.1 1l1.2 -0.7l1.1 -0l1.1 0.8l1.2 -0.7l1.1 0.3l1.2 0.2l1.1 -0.4l1.2 0.9l1.1 0.6l1.2 -1.4l1.1 -0.5l1.2 0.8l1.1 -0.6l1.2 0.1l1.1 0.3l1.1 0.4l1.2 -0.2l1.1 0.1l0.1 -0.4l0.6 0.7l0.5 -0.4l-0 0.2l0.5 -0.4l0.5 0.1l0.1 -0.1l0.4 -0.1l0.5 -0.5l0.3 0.6l0.2 0.7l0.5 -0.3l0.4 0l0.1 0.1l0.5 -0l0.6 -0.6l-0 -0.2l0.5 -0.2l0.5 -0.9l0.1 -0.9l0.4 -0.5l0.5 -1.9l0.3 -0.3l0.2 -0.1l0.5 -0.6l0.4 -1.1l0.1 0.1l0.5 -1.2l0.4 -0.9l0.1 -0.6l0.1 -0.1l0.4 0.2l0.6 1.9l0.1 0.4l0.4 1.4l0.5 1.3l0.3 1.1l0.2 0.8l0.5 0.3l0.4 0.4l0.1 -0.2l0.5 -0.1l0.5 1.1l0 0.7l0.5 0.1l0.5 -0.2l0.2 0.6l0.4 -1.3l0.5 0.5l0.2 0.3l0.3 -0.2l0.5 0.9l0.4 0.4l0.1 -0.4l0.5 -0.2l0.5 -0.2l0 -0.2l0.5 -0.5l0.7 1l1.1 0.5l1.2 0.2l1.1 -0.9l1.2 1.1l1.1 0.6l1.2 -0.5l1.1 -0.8l1.2 -0.5l1.1 0.3l1.1 -0.5l1.2 0.2l1.1 0.7l1.2 -0.9l1.1 1.2l1.2 0.5l1.1 -1.1l1.2 -0.7l1.1 0.1l1.2 -0.3l1.1 0.2l1.2 -1.1l1.1 0.6l1.2 1.3l1.1 -0.6l1.1 0l1.2 -0.6l1.1 0.7l1.2 0l1.1 1.1l1.2 -0.2l1.1 -0.4l1.2 0.2l1.1 -0.4l1.2 -0.7l1.1 0.4l1.2 0l1.1 0.2l1.2 0.2l1.1 -0.3l1.1 0.2l1.2 0.8l1.1 -0.9l1.2 0.8l1.1 -0.5l1.2 -0.5l1.1 1.2l1.2 -0.5l1.1 0.3l1.2 -0.1l0.3 -1.4l0.5 0.1l0.3 -0.3l0.2 -0.6l0.5 -0.7l0.5 0.4l0 0.6l0.5 -0l0.6 -0.6l0 -0.4l0.5 -1l0.5 -1.2l0.2 -0.8l0.3 -1.2l0.5 -2.9l0.3 -2.7l0.2 -1.7l0.5 -5.1l0.4 -3.3l0.1 -0.1l0.5 -1.3l0 0.2l0.5 1.5l0.1 0.4l0.5 4.6l0.5 5.2l0.1 0.6l0.4 2.8l0.5 3.5l0.3 0.9l0.2 0.5l0.5 1.2l0.4 0.5l0.1 0.3l0.5 0.2l0.5 0.1l0.1 -0.4l0.4 0.1l0.5 0.8l0.2 -0.3l0.4 -0.1l0.5 -0.3l0.3 0.5l0.2 -0.6l0.5 0.6l0.4 -0.7l0.1 -0.4l0.5 0.2l0.5 -0l0.1 0.2l0.4 0.1l0.5 -1.1l0.2 -0.2l0.3 -1.4l0.6 -1.2l0.3 -1.5l0.2 -1.3l0.5 -4.3l0.4 -4.6l0.1 -0.8l0.5 -3.7l0.4 -1.4l0.1 0.1l0.1 -0.6l0.4 2.6l0.5 4.2l0.2 1.3l0.3 3.2l0.5 3.2l0.3 2.6l0.2 1.5l0.6 1.6l0.4 0.4l0.1 -0.2l0.5 0.8l0.5 -0.6l0 0.7l0.5 0.9l0.5 0.1l0.2 -0.1l0.3 0.3l0.5 0.3l0.3 0.6l1.2 -0.1l1.1 -0.4l1.2 -0.1l1.1 0.3l1.2 0.8l1.1 -0.4l1.2 -0.6l1.1 -0.3l1.1 -0.7l1.2 0.7l1.1 -0.4l1.2 -0.2l1.1 -0.4l1.2 0.1l1.1 0.9l1.2 -0.4l1.1 -0.4l1.2 0.7l1.1 0.1l1.2 0.5l1.1 0.4l1.2 -0.2l1.1 -0.7l0.8 0.1l0.3 0.4l0.3 -0.4l0.5 -0.6l0.4 0.8l0.1 -0.2l0.5 -0.2l0.5 0l0 0.6l0.5 -0.2l0.5 -0.5l0.2 0.2l0.3 0.7l0.5 -0.5l0.3 -0.7l0.2 -1.5l0.5 0.4l0.5 -3l0.1 -0.8l0.5 -2.7l0.5 -1.6l0 -0.3l0.5 -2.7l0.4 -0.3l0.1 0.3l0.2 -0.1l0.3 0.3l0.5 2.1l0.3 1.6l0.2 1.3l0.5 2.1l0.5 2.1l0 -0.2l0.6 0.5l0.5 0.9l0 1.2l0.5 0.1l0.5 1.6l0.2 -0.1l0.3 -0.8l0.5 -0.2l0.3 0.4l0.2 -0.5l0.5 1.5l0.5 -0.7l0 0.3l0.5 0.7l0.6 -0.4l1.1 -0.6l1.2 -0.1l1.1 0.4l1.2 0.4l1.1 -0.1l1.2 -0.8l1.1 0.2l1.2 -0.2l1.1 -0.9l1.2 0.1l1.1 -0.2l1.2 0.8l0.4 1.2l0.5 0.6l0.2 -0.8l0.3 -0.5l0.5 0.3l0.4 0.3l0.2 -0.5l0.5 -0.3l0.4 1l0.1 -0.5l0.5 -0.7l0.5 -0.3l0 0.2l0.5 -1.1l0.5 -0.7l0.2 -0.8l0.3 -0.6l0.5 -0.3l0.3 -1l0.2 -1.1l0.6 -2.5l0.4 -1.5l0.1 0.5l0.4 -0.9l0.1 0.8l0.5 -0.1l0 0.1l0.5 2.5l0.5 0.7l0.2 1.5l0.3 0.1l0.5 1.6l0.3 0.8l0.2 0.9l0.5 -1l0.5 -0l0 0.5l0.6 0.8l0.5 0l0 0.3l0.5 -0.2l0.5 0.3l0.2 -0.1l0.3 0.5l0.5 0.5l0.3 0.7l0.2 -0.6l1 -0.1l1.1 0.1l1.2 -0.1l1.1 0l1.1 -0.7l1.2 0.5l1.1 -0.3l1.2 -0.3l1.1 -0.5l1.2 1l1.1 -0.3l1.2 -0.1l1.1 -1.5l1.2 -2.7l1.1 -0.4l1.2 2.3l1.1 1.2l1.2 0.5l1.1 0.6l1.1 0.3l1.2 -0.3l1.1 0.2l1.2 0l1.1 -1.1l1.2 0.9l1.1 -0.1l1.2 0.9l1.1 -0.8l1.2 -1l1.1 -0.1l1.2 -2.6l1.1 -1.8l1.2 1.1l1.1 1.9l1.1 0.9l1.2 1.3l1.1 0.4l1.2 0.9l1.1 0.2l1.2 1.2l1.1 -1.7l1.2 -0.5l1.1 -1.6l1.2 -1.1l1.1 -1.4l1.2 0.6l1.1 1.3l1.1 1.2l1.2 -0.1l1.1 1.7l1.2 0.3l1.1 -0.2l1.2 0.5l1.1 0.2l1.2 0.2l1.1 -1.1l1.2 -0.2l1.1 0.3l1.2 0.2l1.1 0.5l1.2 -0.7l1.1 0.2l1.1 1.1l1.2 -0.1l1.1 0.1l1.2 -0.5l1.1 0.2l1.2 0.6l1.1 -0.5l1.2 0.3l1.1 -0.9l1.2 0.2l1.1 0.3l1.2 -0.7l1.1 0.5l1.2 -0.5l1.1 -0.4l1.1 0.1l1.2 1.1l1.1 -0.2l1.2 0.2l1.1 -0.7l1.2 -0l1.1 -0.7l1.2 -0l1.1 0.6l1.2 -0l1.1 0.7l1.2 -0.4l1.1 -0.2l1.2 0.6l1.1 -0.7l1.1 -0.7l1.2 0.9l1.1 0.1l1.2 -1.2l1.1 0.3l1.2 0l1.1 1.1l1.2 -0.6l1.1 -0.3l1.2 -0.3l1.1 -0.3l1.2 0.1l1.1 -0.4l1.2 -0l1.1 -0.3l1.1 -0.1l1.2 -0.2l1.1 0.5l1.2 0.2l1.1 -0.2l1.2 0.8l1.1 0.2l1.2 -0.1l1.1 -0.1l1.2 1l1.1 -0.1l1.2 0.1l1.1 -1.5l1.2 0l1.1 -0.7l1.1 0.4l1.2 0.6l1.1 -0.2l1.2 0.3l1.1 -1l1.2 -0.5l1.1 -1.9l1.2 -0.2l1.1 1.4l1.2 1.4l1.1 0.7l1.2 1.3l1.1 -0.5l1.2 -0.3l1.1 -1.3l1.1 1.4l1 -0.2l0.2 -0.6l0.3 1l0.5 0.5l0.3 -0.3l0.3 -0.9l0.5 0.3l0.4 -0.3l0.1 -0.5l0.5 0.8l0.5 -1.1l0 0.6l0.5 0.3l0.5 0.9l0.2 -0.4l0.3 -1.5l0.5 -0.5l0.3 -0l0.2 0.1l0.5 -0.2l0.5 -1.9l0.1 -0.1l0.5 -0.3l0.5 -0.3l0 0.5l0.5 -1.5l0.4 0.1l0.1 0.4l0.2 0.1l0.3 0.2l0.5 0.8l0.3 -0.2l0.2 -0.4l0.5 1.7l0.5 0.5l0 0.2l0.6 0.4l0.5 0.4l0 0.3l0.5 -0.2l0.5 0.5l0.1 0.3l0.4 0.1l0.5 -0.3l0.3 0.6l0.2 0.9l0.5 -0.6l0.4 0.5l0.1 0.1l0.5 -1.6l0.6 -0.1l-0 0l0.5 0.8l0.6 0.1l1.2 0.3l1.1 0.2l1.2 -0.6l1.1 -0.3l1.2 -0.4l1.1 0.3l1.2 0.2l1.1 0.2l1.2 -0.2l1.1 0.6l1.1 0.4l1.2 0.5l1.1 -0l1.2 -0.4l1.1 0.1l1.2 -0l1.1 -0.6l1.2 0.6l1.1 0.5l1.2 0.5l1.1 -0.7l1.2 -0.3l1.1 -0.1l1.2 -0.3l1.1 0.2l1.1 -0.3l1.2 -0.2l1.1 0.8l1.2 -0.2l1.1 -0.3l1.2 0.3l1.1 -0.2l1.2 -0.1l1.1 -0.2l1.2 -0.7l1.1 0.1l1.2 -0.5l1.1 0.4l1.2 -0.7l1.1 0.4l1.1 -0.4l1.2 -0.9l1.1 -0.6l1.2 0.7l1.1 -0.1l1.2 0.4l1.1 0.6l1.2 0.6l1.1 0.1l1.2 -0.4l0.2 0.3l0.5 -0.1l0.4 -0.4l0.1 0.5l0.5 -0l0.5 0.7l0.1 0.1l0.4 0.1l0.6 -0.1l0.1 -0.7l0.4 -0.5l0.5 -0.6l0.3 1.8l0.2 -0.9l0.5 -0.2l0.4 -0.3l0.1 -0.1l0.5 -0.5l0.5 -1.2l0 -0.1l0.5 -0.8l0.5 -0.3l0.2 -0.2l0.3 -0.7l0.6 -0.5l0.2 -0.7l0.3 0.3l0.5 -0.9l0.4 -0l0.1 -0.7l0.5 1l0.5 0.6l0 0.3l0.5 1.1l0.5 0.8l0.2 0.4l0.3 0.4l0.5 1.4l0.3 0.6l0.3 0.1l0.5 -0.4l0.4 -0.3l0.1 -0l0.5 0.3l0.5 0.6l0 -0.4l0.5 0.9l0.5 -0l0.2 -1.1l0.3 0.2l0.5 -1l0.3 0.4l0.2 0.3l0.6 0.2l0.4 0.2l0.1 0.1l0.5 -0l0.5 1l1.2 0.5l1.1 -0.8l1.1 0.6l1.2 -1l1.1 -0.2l1.2 1.1l1.1 -1.3l1.2 0.7l1.1 -0.6l1.2 0.3l1.1 0.1l1.2 1l1.1 -0.6l1.2 -0l1.1 0.3l1.2 -0.2l1.1 -0.4l1.1 0.1l1.2 0.1l1.1 0.5l1.2 -0.6l1.1 -0.1l1.2 0.3l1.1 -0.1l1.2 -0l1.1 0l1.2 -0.3l1.1 -0.2l1.2 0.5l1.1 -0.5l1.1 0.8l1.2 0.1l1.1 -0.8l1.2 0.4l1.1 0.1l1.2 0.4l1.1 0.4l1.2 -0.6l1.1 -0.5l1.2 -0.4l1.1 -0.6l1.2 -0.6l1.1 -0.5l1.2 -0.6l1.1 0l1.1 0.7l1.2 1.2l1.1 0.3l1.2 -0.1l1.1 0.3l1.2 0.1l1.1 -0.3l1.2 0.7l1.1 0.5l1.2 -0.1l1.1 -0.1l1.2 0.2l1.1 -0.1l1.2 0.3l1.1 0.6l1.1 -0.4l1.2 -0.1l1.1 0.2l1.2 -0.5l1.1 -0.7l1.2 0.6l1.1 -0.9l1.2 1.2l1.1 0.2l1.2 -0.2l1.1 -0.2l1.2 0.7l1.1 -0.9l1.2 -0.6l1.1 -0.1l1.1 0.1l1.2 -0.3l1.1 0.4l1.2 0.2l1.1 -0.3l1.2 1l1.1 -0.9l1.2 -0.5l1.1 0.5l1.2 0.1l1.1 0.3l1.2 -0.3l1.1 -0.4l1.2 -0.1l1.1 -0l1.1 0.6l1.2 -0.2l1.1 0.5l1.2 0.3l1.1 0.3l1.2 0.2l1.1 0l1.2 0l1.1 -0.6" fill="none" stroke="#ff2a8c" stroke-width="10.5" stroke-linejoin="round" stroke-linecap="round"/>
<path d="M1334.3 1340.2l1.1 -0.1l1.2 0.1l1.1 0.1l1.2 -0.7l1.1 -0.9l1.2 -0.2l1.1 0.5l1.2 0.7l1.1 -0l1.2 -0.8l1.1 0.9l1.2 -0.9l1.1 -0l1.2 -0.1l1.1 0.4l1.1 0.6l1.2 -0.9l1.1 0.1l1.2 0.3l1.1 -0.5l1.2 0.2l1.1 0.3l1.2 -0.6l1.1 -0.4l1.2 0.5l1.1 0.1l1.2 0.3l1.1 1.2l1.2 0.1l1.1 -0.2l1.1 -0.7l1.2 0.4l1.1 -0.6l1.2 0.8l1.1 0.3l1.2 -1.4l1.1 -0.5l1.2 0.3l1.1 -0l1.2 -0.4l1.1 -0.2l1.2 0.8l1.1 -0.1l1.2 -0.6l1.1 0.3l1.1 0.8l1.2 0.8l1.1 -0.3l1.2 -0.4l1.1 -0.5l1.2 -0.1l1.1 0.5l1.2 0.6l1.1 0.3l1.2 -0.5l1.1 0.3l1.2 0.1l1.1 -0.1l1.1 -1.5l1.2 0.2l1.1 0.1l1.2 0.8l1.1 -0.3l1.2 0.2l1.1 0l1.2 0.6l1.1 0l1.2 0.2l1.1 0.3l1.2 -0.1l1.1 -0.1l1.2 -0.6l1.1 -0.2l1.1 1l1.2 -0.5l1.1 -0.1l1.2 -0.3l1.1 -0.4l1.2 -1.5l1.1 1.4l1.2 -0.6l1.1 -0.1l1.2 1l1.1 -1.3l1.2 0.4l1.1 -0l1.2 -0.7l1.1 0.9l1.1 -0.2l1.2 0.2l1.1 -0l1.2 0.5l1.1 1.1l1.2 -1.1l1.1 0.4l1.2 -0.5l1.1 -0.2l1.2 -0.8l1.1 -0.2l1.2 0.3l1.1 0.8l1.2 0.2l1.1 0.2l1.1 0.3l1.2 -0.9l1.1 0.8l1.2 -0.3l1.1 0.3l1.2 -0.3l1.1 0.1l1.2 0.2l1.1 -1.3l1.2 1.3l1.1 -0.1l1.2 0.4l1.1 -0.2l1.2 -0.2l1.1 -0.8l1.1 -0l1.2 -0.9l1.1 0.4l1.2 1.2l1.1 -1.1l1.2 0l1.1 0.2l1.2 0.8l1.1 0.6l1.2 -0.3l1.1 -0.1l1.2 -0.3l1.1 -0.2l1.2 -0.2l1.1 -0.1l1.1 0.1l1.2 0.2l1.1 -0.3l1.2 0.5l1.1 -0.1l1.2 0.3l1.1 -0.8l1.2 -0.1l1.1 0.3l1.2 0.3l1.1 -0.1l1.2 0.8l1.1 -0.4l1.2 0.6l1.1 0.4l1.1 -0.2l1.2 -0.2l1.1 -0.1l1.2 -0.4l1.1 -0.7l1.2 -0.1l1.1 -0.2l1.2 0.1l1.1 -0.2l1.2 -0.2l1.1 0.4l1.2 0.9l1.1 -0.6l1.1 -0.8l1.2 0.1l1.1 -0.3l1.2 -0l1.1 -0.2l1.2 0.5l1.1 0.6l1.2 1.3l1.1 -1l1.2 -0.7l1.1 0.2l1.2 0.1l1.1 1l1.2 0.4l1.1 -0.8l1.1 -1.1l1.2 0.6l1.1 -0.1l1.2 0.8l1.1 -0.2l1.2 -0.2l1.1 -0.6l1.2 0.2l1.1 0.7l1.2 -0.6l1.1 0.2l1.2 -0.3l1.1 0.6l1.2 -0.2l1.1 0.2l1.1 0l1.2 -0.6l1.1 -0.5l1.2 1l1.1 -0.3l1.2 -0.6l1.1 -0.1l1.2 1.1l1.1 -0.2l1.2 0.4l1.1 -1.5l1.2 1.3l1.1 -0.3l1.2 0.3l0.2 -0.5l0.5 -0.3l0.4 0.3l0.1 0.7l0.5 -0.6l0.5 -0.8l0 0.4l0.5 0.7l0.5 -1.5l0.2 -0.6l0.3 0.2l0.5 -0.9l0.3 -1.5l0.2 0l0.6 -1l0.4 -1.3l0.1 0.2l0.5 -3.9l0.5 -3.7l0 -0.3l0.5 -3.1l0.5 -3.4l0.2 -0.4l0.2 -0.7l0.1 0.6l0.5 2.2l0.3 1.2l0.2 1.7l0.5 3.1l0.5 3.2l0 -0.3l0.6 3l0.5 2.5l0 0.5l0.5 -0.2l0.5 0.9l0.2 0.1l0.3 1l0.5 0.2l0.3 0.6l0.2 -0.7l0.5 -0.7l0 -1.1l0.5 0.7l0 0.1l0 0.4l0.5 -0.2l0.1 0.2l0.5 0.5l-0 -0.9l0 0.3l0.5 0.3l0.5 -0.4l0.2 0.5l0.3 -1l0.5 -1l0.3 -0.9l0.2 -0.8l0.5 -0.7l0.4 -3.2l0.1 -0.8l0.5 -4.1l0.6 -5.6l-0 -0.5l0.5 -7l0.5 -9.7l0.1 -2.9l0.4 -7.7l0.5 -12.1l0.3 -6.1l0.2 -2.9l0.4 -2.5l0.1 0.2l0.4 4.3l0.1 1.3l0.5 8.8l0.5 11.3l0.1 1.9l0.4 9.4l0.6 9.8l0.1 3l0.4 3.8l0.5 4.6l0.3 2.7l0.2 1.6l0.5 2.8l0.4 1.4l0.1 -0.5l0.5 2l0.5 0.4l0.1 -0.1l0.4 0.4l0.5 -0.5l0.2 -0.1l0.4 0.9l0.5 0.7l0.3 -0.3l0.2 0.2l0.9 0l1.2 0.1l1.1 0.2l1.1 -0.3l1.2 0.1l1.1 0.3l1.2 0.3l1.1 0l1.2 -0.1l1.1 0.2l1.2 -0.2l0.4 -0.1l0.5 -0.4l0.2 -0.1l0.3 0.3l0.6 -0.1l0.3 -0.6l0.2 -0.6l0.5 -0.8l0.4 -1.1l0.1 0.9l0.5 -2.1l0.5 -2.3l0.1 -0.5l0.4 -4l0.5 -7.6l0.2 -3.2l0.3 -6l0.5 -10.5l0.4 -6.5l0.2 -3l0.4 -3.2l0.1 0.3l0.4 3.9l0.1 0.9l0.5 11.4l0.5 10.2l0 1.1l0.5 7.6l0.5 6.4l0.2 1.2l0.3 2l0.5 2.4l0.3 1.5l0.2 -0.2l0.5 1.7l0.5 0.3l0.1 0.2l0.5 -0.1l0.5 0.9l0 -0.3l0.5 0.4l0.7 -0.7l1.1 1.5l1.2 0.3l1.1 -0.5l1.2 -0.2l1.1 0.3l1.2 -0.3l1.1 -0.6l1.1 0.4l1.2 1l1.1 0.2l1.2 0.1l1.1 -0.4l1.2 0.8l1.1 -0.8l1.2 -0.5l1.1 -0.4l1.2 0.6l1.1 -0.3l1.2 0.2l1.1 0.6l1.2 -0.9l1.1 -0.1l1.1 0.6l1.2 0.2l1.1 -0.1l1.2 0.1l1.1 -0.3l1.2 0.3l1.1 0.4l1.2 -0.5l1.1 -0.3l1.2 -0.4l1.1 0.2l1.2 0.8l1.1 -0.4l1.2 -0l1.1 0.8l1.1 -0.7l1.2 -0.1l1.1 0.1l1.2 -0l1.1 1l1.2 -0.4l1.1 0.5l1.2 -0.1l1.1 0.7l1.2 0.5l1.1 -1.7l1.2 0.1l1.1 -0.2l1.2 0.6l1.1 0.5l1.1 -0.4l1.2 -0.4l1.1 0.1l1.2 -0.9l1.1 0.3l1.2 0.3l1.1 -0.1l1.2 -0.6l1.1 0.6l1.2 -0.2l1.1 -0.3l1.2 0.3l1.1 -0.5l1.2 0.6l1.1 -0.1l1.1 -0.5l1.2 0.3l1.1 1l1.2 0.1l1.1 -1.3l1.2 -0.8l1.1 -0.3l1.2 -0.3l1.1 0.1l1.2 1.2l1.1 -0.3l1.2 0.8l1.1 -0.8l1.2 0.5l1.1 0.7l1.1 -0.3l1.2 0.3l1.1 -1.4l1.2 0.8l1.1 -0.1l1.2 0.5l1.1 -0.8l1.2 1.1l1.1 -0.2l1.2 0.7l1.1 -1.2l1.2 -0.4l1.1 0.8l1.1 0l1.2 -0.7l1.1 -0.3l0.1 -0.2l0.6 0.7l0.5 -0.4l-0 0.1l0.5 0.6l0.5 -0.7l0.1 -0.2l0.4 -0.3l0.5 0.8l0.3 -0.4l0.2 0.5l0.5 0l0.4 -0.2l0.1 0.1l0.5 -0.2l0.6 -1l-0 0.3l0.5 0.6l0.5 -1.3l0.1 -0.9l0.4 -1.2l0.5 -1.8l0.3 -1.2l0.2 -1.8l0.5 -2l0.4 -0.6l0.1 -0l0.5 -1.2l0.4 -0.7l0.1 0.2l0.1 0.1l0.4 0.4l0.6 0.8l0.1 0.5l0.4 1.9l0.5 2.4l0.3 0.9l0.2 1l0.5 0.4l0.4 0.3l0.1 1l0.5 0.4l0.5 1.9l0 -0.2l0.5 -0.5l0.5 0.9l0.2 -0.6l0.4 0.7l0.5 -0.2l0.2 -0.7l0.3 1.3l0.5 -0.4l0.4 0.4l0.1 0.1l0.5 -0.4l0.5 -0.4l0 0.6l0.5 0.9l0.7 0.3l1.1 -0.5l1.2 -0.2l1.1 0.3l1.2 0.1l1.1 -1l1.2 0.6l1.1 0.2l1.2 -0.9l1.1 0.2l1.1 -0.4l1.2 0.7l1.1 0.3l1.2 -0l1.1 -0.2l1.2 0l1.1 0.2l1.2 -0.3l1.1 0.5l1.2 -0.4l1.1 0l1.2 -0.2l1.1 0.1l1.2 0.3l1.1 -1l1.1 -0.5l1.2 1.1l1.1 -0.2l1.2 -0.4l1.1 0l1.2 -0.1l1.1 1.1l1.2 0.8l1.1 -0.2l1.2 0.7l1.1 -1.1l1.2 0.3l1.1 -0.6l1.2 -0.4l1.1 1.1l1.1 -0.4l1.2 -0.5l1.1 0.3l1.2 0.8l1.1 -1.2l1.2 -0.1l1.1 0.2l1.2 -0.6l1.1 0l1.2 -0.6l0.3 0.6l0.5 0.7l0.3 -0.2l0.2 -0.5l0.5 -0.6l0.5 0.7l0 -0.1l0.5 0.4l0.6 -1.1l0 -0.6l0.5 -0.4l0.5 -0.8l0.2 0.1l0.3 -1.2l0.5 -2.9l0.3 -2.7l0.2 -1.8l0.5 -3.6l0.4 -2.9l0.1 -0.5l0.5 -1l0 0.7l0.5 2.2l0.1 -0.4l0.5 4.1l0.5 3l0.1 1.4l0.4 1.9l0.5 2.4l0.3 1.2l0.2 0.6l0.5 1l0.4 -0.4l0.1 0.9l0.5 -0.1l0.5 0.3l0.1 0.6l0.4 -0.4l0.5 -0.4l0.2 -0.7l0.4 0.8l0.5 0.1l0.3 0.1l0.2 0.3l0.5 -0.5l0.4 -1.1l0.1 -0.4l0.5 0.5l0.5 0.5l0.1 -0.2l0.4 0.1l0.5 -0.8l0.2 -0.3l0.3 -0.2l0.6 -3.8l0.3 -1l0.2 -0.6l0.5 -4.5l0.4 -3.1l0.1 -1.7l0.5 -3.1l0.4 -0.9l0.1 -0.2l0.1 0.5l0.4 2.4l0.5 4.4l0.2 1.4l0.3 2.9l0.5 4.2l0.3 0.4l0.2 1.5l0.6 0.7l0.4 0.6l0.1 -0.1l0.5 0.1l0.5 0.8l0 -0.5l0.5 0.5l0.5 0.8l0.2 0.3l0.3 1.1l0.5 0.4l0.3 0.1l1.2 -0.2l1.1 -0.2l1.2 -0.3l1.1 -0.8l1.2 0.4l1.1 -0.3l1.2 -0.1l1.1 -0.4l1.1 0.5l1.2 0.5l1.1 0.5l1.2 0l1.1 -0l1.2 -0.5l1.1 0.4l1.2 -0.7l1.1 0.6l1.2 -0.2l1.1 0.9l1.2 -0.5l1.1 0.2l1.2 -0.2l1.1 0.1l0.8 -0l0.3 -1.5l0.3 -0.4l0.5 0.7l0.4 -0.3l0.1 -0.3l0.5 -0l0.5 0.6l0 0.1l0.5 -0.8l0.5 -0l0.2 -0.1l0.3 -0.6l0.5 0.6l0.3 -1l0.2 -0.7l0.5 -1.5l0.5 -1.9l0.1 -0l0.5 -3.6l0.5 -2.8l0 -0.9l0.5 -2.3l0.4 -0.1l0.1 0.1l0.2 -0.2l0.3 1.5l0.5 2.7l0.3 1l0.2 1l0.5 3.5l0.5 1.7l0 1l0.6 1.7l0.5 0l0 1l0.5 0.4l0.5 -0.7l0.2 -0.2l0.3 0.5l0.5 0.4l0.3 -0.2l0.2 1.6l0.5 -0.7l0.5 0.5l0 -0.1l0.5 0.4l0.6 -0.2l1.1 -0.6l1.2 0.7l1.1 0.1l1.2 -0.1l1.1 -0.1l1.2 0.1l1.1 0.2l1.2 0.4l1.1 0.7l1.2 -1.1l1.1 -1.1l1.2 -0.1l0.4 -0.2l0.5 0.3l0.2 0.1l0.3 0.3l0.5 0.3l0.4 -1.1l0.2 0l0.5 1l0.4 -0.7l0.1 -0.7l0.5 -0.4l0.5 1.2l0 -0.6l0.5 -1l0.5 -1.1l0.2 0.5l0.3 -1.7l0.5 -1.8l0.3 -0.8l0.2 -0.1l0.6 -2.1l0.4 -2.2l0.1 1.6l0.4 -1.5l0.1 -0l0.5 0.9l0 0.3l0.5 0.8l0.5 2l0.2 0.8l0.3 1.6l0.5 1.7l0.3 0.8l0.2 0.8l0.5 -0.1l0.5 0.8l0 -0.9l0.6 1.2l0.5 0.2l0 0.2l0.5 0.3l0.5 0.1l0.2 0.3l0.3 -0.4l0.5 0.1l0.3 0.1l0.2 -1.1l1 -0.7l1.1 0.3l1.2 0.1l1.1 0.4l1.1 0.5l1.2 -0.6l1.1 0.1l1.2 0.4l1.1 0.2l1.2 -0.5l1.1 0.2l1.2 -0.9l1.1 -1.6l1.2 -1l1.1 -0.7l1.2 0.5l1.1 1.9l1.2 1.3l1.1 0.6l1.1 -0.3l1.2 0.5l1.1 0.3l1.2 -0.2l1.1 0l0.5 0.9l0.5 -0.5l0.2 -0.8l0.3 -0.1l0.5 0.7l0.3 -0.1l0.2 -0.6l0.6 0.8l0.4 -0.1l0.1 0.1l0.5 -0.3l0.5 -1.8l0 0l0.5 0.2l0.5 -0.5l0.2 -0.9l0.3 0.7l0.5 -0.3l0.3 0.1l0.2 -0l0.5 -1.1l0.5 -1.7l0 -0.2l0.6 -1.3l0.5 -0.6l0 -0l0.4 -0l0.1 -0.8l0.5 1.3l0.2 0.4l0.3 0.9l0.5 0.6l0.3 -0.3l0.2 1l0.5 1.3l0.4 1.1l0.1 0.2l0.5 0.1l0.6 0.5l-0 -0.2l0.5 0.5l0.5 0.6l0.1 -0.5l0.4 0l0.1 0.3l0.4 0l0.1 0.2l0.2 -0.5l0.2 -0.4l0.1 1l0.4 -0.4l0.1 -0.5l0.3 0.2l0.1 0.7l0.1 0.2l0.4 -0.8l0.2 -0l0.3 0.5l0.1 -0.3l0.1 -1.1l0.5 0.1l0.5 0.7l0 0.1l0.5 0.4l0.5 -1.5l0.2 -0.1l0.3 0.5l0.5 -1.6l0.3 0.2l0.2 -0.9l0.5 -0.5l0.5 -1l0.1 -0.4l0.5 -1.7l0.5 -1.6l0 -0.7l0.4 0.1l0.1 -0.2l0.5 0.8l0.2 -0.1l0.3 2.1l0.5 1.4l0.3 0.5l0.2 0.2l0.5 1.1l0.4 1.2l0.1 0.3l0.5 0.3l0.6 0.8l-0 0.9l0.5 -0.6l0.5 0.7l0.1 -0.7l0.4 0.1l0.5 -0.3l0.3 -0.1l0.2 0.9l0.5 0.3l0.4 -0.2l0.1 -0.1l0.5 1.4l0.5 -0.5l0.1 -0.4l1.1 0.1l1.2 0.3l1.1 0l1.2 0.4l1.1 -1.1l1.2 -0.8l1.1 0.4l1.2 -0.2l1.1 -0.4l1.1 0.8l1.2 -0.2l1.1 -0.6l1.2 0.5l1.1 0.2l1.2 -0.8l1.1 1.2l1.2 0.3l1.1 -0l1.2 -0.8l1.1 -0.2l1.2 0.1l1.1 0l1.2 0.5l1.1 0.3l1.1 -0.1l1.2 1.5l1.1 0.1l1.2 -1.8l1.1 -0.2l1.2 -0.6l1.1 0.6l1.2 0.1l1.1 -0.1l1.2 -0l1.1 -0l1.2 0.5l1.1 0.1l1.2 0.5l1.1 -0.9l1.1 0.3l1.2 0.3l1.1 -0.4l1.2 0.2l1.1 -0.3l1.2 0.4l1.1 0.1l1.2 -1.4l1.1 0.6l1.2 0.8l1.1 0.3l1.2 0.9l1.1 -0.2l1.2 -1.2l1.1 -0.1l1.1 -0.5l1.2 0.8l1.1 0l1.2 0.9l1.1 -0.4l1.2 0.5l1.1 -0.7l1.2 -0.3l1.1 0l1.2 -0.5l1.1 -1l1.2 0.2l1.1 -0.3l1.2 0.2l1.1 0.9l1.1 -0.3l1.2 0.2l1.1 -0.8l1.2 -0l1.1 -1.1l1.2 -1.8l1.1 -1.5l1.2 0.3l1.1 1.2l1.2 0.5l1.1 1.4l1.2 0.3l1.1 1.2l1.2 0.2l1.1 -0.6l1.1 0.4l1.2 -0.4l1.1 0.2l1.2 -0.3l1.1 0.6l1.2 -0.2l1.1 1l1.2 -0.8l1.1 1l1.2 0.5l1.1 -0.7l1.2 0.5l1.1 0.2l1.1 -0.4l1.2 -0.4l1.1 -0.2l1.2 -0.9l1.1 0l1.2 0.6l1.1 1.2l1.2 -0.4l1.1 -0.8l1.2 0.7l1.1 0.1l1.2 0.5l1.1 -0.6l1.2 0.4l1.1 -0.4l1.1 0.3l1.2 -0.6l1.1 -0.3l1.2 -0.2l1.1 0.6l1.2 -0.5l1.1 0.3l1.2 -0l1.1 0.2l1.2 -0.2l1.1 -0.6l1.2 0.3l1.1 -0.3l1.2 0.4l1.1 -0l1.1 1.3l1.2 -0.3l1.1 -0.7l1.2 0.4l1.1 -0.6l1.2 0.2l1.1 1l1.2 -1l1.1 -0.8l1.2 0.2l1.1 -0.5l1.2 0.8l1.1 -0.5l1.2 -0.2l1.1 0.9l1.1 -0l1.2 -1l1.1 -0.6l1.2 0.3l1.1 -0.2l1.2 0.8l1.1 0.3l1.2 0.8l1.1 -0l1.2 -0.4l1.1 0.8l1.2 0.1l1.1 -0.8l1.2 -0.6l1.1 -0l1.1 -1.3l1.2 -0.6l1.1 -2l1.2 -0.6l1.1 0.5l1.2 1.8l1.1 0.8l1.2 0.3l1.1 1.3l1.2 0.4l1.1 -0.2l1.2 -0.4l1.1 -0.4l1.2 -0.3l1.1 0.2l1.1 1.1l1.2 0.2l1.1 -0.1l1.2 -0.3l1.1 0.3l1.2 0.2l1.1 -0.6l1.2 -0.3l1.1 -0l1.2 0.1l1.1 -0.5l1.2 -0.4l1.1 0.5l1.2 -0.4l1.1 0.6l1.1 0.7l1.2 0.5l1.1 0l1.2 -0.2l1.1 -0.4l1.2 0l1.1 -0.1l1.2 0.5l1.1 -0.4l1.2 -0.5l1.1 0.3l1.2 -0.6l1.1 0.3l1.1 -0.5l1.2 -0.2l1.1 1.1l1.2 0.2l1.1 -0.3l1.2 1.1l1.1 -0.1l1.2 -1.1l1.1 -0l1.2 -0.6l1.1 0.1l1.2 -1.1l1.1 -0.5l1.2 -0.7l1.1 -0.2l1.1 1.6l1.2 0.3l1.1 0.8l1.2 -0l1.1 0.3l1.2 0.1l1.1 -0.4l1.2 -0l1.1 0.9l1.2 1.1l1.1 -0.8l1.2 -1l1.1 0.1l1.2 0.2l1.1 0.7l1.1 0.2l1.2 -0.3l1.1 0.1l1.2 -0.4l1.1 -0.7l1.2 -0.3l1.1 0.9l1.2 -0.9l1.1 1.1l1.2 0.3l1.1 0.2l1.2 -0.8l1.1 0.2l1.2 0.2l1.1 -0.2l1.1 -0.9l1.2 0.5l1.1 0l1.2 0.5l1.1 -0.6l1.2 -0.1l1.1 -0.2l1.2 0.4l1.1 -0.1l1.2 0.1l1.1 -0.1l1.2 -0.6l1.1 0l1.2 -0.3l1.1 -0.1l1.1 -0.5l1.2 0.3l1.1 0.2l1.2 0.3l1.1 0l1.2 -0l1.1 -0.4l1.2 -0.3l1.1 1.1" fill="none" stroke="#0a4ba0" stroke-width="10.5" stroke-linejoin="round" stroke-linecap="round"/>
<path d="M1334.3 1561.2l1.1 0.5l1.2 0.2l1.1 -0.3l1.2 0.1l1.1 0.1l1.2 0l1.1 0l1.2 0.3l1.1 0.4l1.2 0.4l1.1 -0.5l1.2 -0.6l1.1 0.3l1.2 -0.3l1.1 -0.5l1.1 1.1l1.2 0.1l1.1 -0.5l1.2 -0.3l1.1 0.2l1.2 0l1.1 0.2l1.2 -0.2l1.1 -1l1.2 -0.6l1.1 1l1.2 0.3l1.1 -1.1l1.2 0.7l1.1 0.3l1.1 0.5l1.2 -0.1l1.1 0.1l1.2 -0.6l1.1 -0.7l1.2 0.3l1.1 0.3l1.2 0l1.1 -0.6l1.2 0.1l1.1 0l1.2 0.7l1.1 -0.5l1.2 -0.2l1.1 0l1.1 0.4l1.2 0.8l1.1 0.1l1.2 -0.9l1.1 -0.3l1.2 1.1l1.1 -0l1.2 -0.3l1.1 0.2l1.2 0.2l1.1 0.7l1.2 -0.4l1.1 -0.6l1.1 -0.5l1.2 0.6l1.1 -0.1l1.2 0.1l1.1 0.1l1.2 -0.6l1.1 0.9l1.2 -0.3l1.1 -0.2l1.2 -0.2l1.1 0.1l1.2 -0.2l1.1 -0.1l1.2 0.5l1.1 0.5l1.1 0.1l1.2 -0.9l1.1 -0.1l1.2 0.8l1.1 -0.3l1.2 -0l1.1 -0.2l1.2 0.7l1.1 -0.5l1.2 -0.4l1.1 0.6l1.2 -1l1.1 -0l1.2 1.4l1.1 -0.3l1.1 -0.1l1.2 -1.2l1.1 0.2l1.2 -0.3l1.1 -0l1.2 -0.1l1.1 0.4l1.2 0l1.1 0.7l1.2 -1.2l1.1 0.1l1.2 0.7l1.1 0.2l1.2 0.7l1.1 -0.5l1.1 0.4l1.2 0l1.1 -0.9l1.2 -0.8l1.1 1.4l1.2 0.4l1.1 -0.2l1.2 -0.6l1.1 -0.9l1.2 0.2l1.1 0.4l1.2 0.9l1.1 -0.4l1.2 -0.1l1.1 -0.1l1.1 0.6l1.2 0.6l1.1 0.5l1.2 -0.7l1.1 0l1.2 -0.8l1.1 -0.4l1.2 -0.1l1.1 0.6l1.2 -1.2l1.1 0.4l1.2 1.2l1.1 0.3l1.2 0.4l1.1 -0.8l1.1 -0.1l1.2 -0.6l1.1 0.9l1.2 -0.5l1.1 -0.3l1.2 -0.4l1.1 0.3l1.2 0.8l1.1 -0.2l1.2 -0.2l1.1 -0.3l1.2 0.6l1.1 -0.1l1.2 0.1l1.1 -0.2l1.1 -0l1.2 0.2l1.1 0.2l1.2 -1l1.1 0.1l1.2 -0l1.1 0.3l1.2 0.6l1.1 -0.6l1.2 -0.4l1.1 -0.6l1.2 0.1l1.1 0.9l1.1 -0.3l1.2 0.7l1.1 -0.2l1.2 -0.2l1.1 0l1.2 -0.3l1.1 0.3l1.2 -0l1.1 -1l1.2 -0l1.1 0.6l1.2 -0l1.1 -1l1.2 1l1.1 0.8l1.1 -0.8l1.2 0.1l1.1 0.5l1.2 0.1l1.1 0.1l1.2 -1l1.1 0.7l1.2 -0.3l1.1 -0.2l1.2 0.3l1.1 0.5l1.2 0.2l1.1 -0.7l1.2 0.2l1.1 -0.9l1.1 0.7l1.2 -0.5l1.1 -0.2l1.2 0.6l1.1 0.1l1.2 -0.5l1.1 0.5l1.2 0.8l1.1 -1.1l1.2 0.1l1.1 0l1.2 0.1l1.1 -0l1.2 0.4l1.1 0.1l1.1 -0.3l1.2 0.3l1.1 -0.6l1.2 0.7l1.1 -0.5l1.2 -0.5l1.1 0.1l1.2 -0.9l1.1 -0.7l1.2 -0.3l1.1 0.6l1.2 -0.3l1.1 -1.4l1.2 -1.2l0.3 -0.5l0.4 -1.1l0.4 -0.9l0.1 -0.5l0.4 -1.8l0.5 -1.7l0.1 0.3l0.4 -1.7l0.4 -4.6l0.4 -5.8l0.1 -2.5l0.4 -13.3l0.5 -22.9l0.1 -9.3l0.4 -24.4l0.4 -43.1l0.4 -34.4l0.1 -8.4l0.4 -24.3l0.1 -0.6l0.4 11.9l0.1 10.7l0.4 28.2l0.4 43.6l0.4 31.2l0.1 5.6l0.4 27.7l0.5 17.1l0.1 4.2l0.3 6.6l0.5 4.9l0.4 2.9l0.1 0.5l0.4 2.9l0.5 1.3l0.1 -0l0.3 0.5l0.5 1.2l0.4 -0.4l1.1 1.2l1.2 0.7l1.1 0.3l1.2 1.2l1.1 -0.4l1.1 1.4l1.2 -0.4l1.1 -0.1l1.2 1.7l1.1 -0.8l1.2 -0.2l1.1 0.2l1.2 -1l1.1 0.4l1.2 0.5l1.1 0.6l1.2 -0.1l1.1 0.4l1.2 0.1l1.1 -0.7l1.1 0.6l1.2 0.2l1.1 -0.2l1.2 -0.2l1.1 0l1.2 0.1l1.1 -0.2l1.2 -0.4l1.1 0.6l1.2 -0l1.1 0.2l1.2 0.5l1.1 -0.8l1.1 0.3l1.2 -0.2l1.1 0.1l1.2 -0.4l1.1 0.7l1.2 -0.8l1.1 -0l1.2 0.2l1.1 0.2l1.2 0l1.1 -0.8l1.2 -0.4l1.1 -0.6l1.2 0.4l1.1 1.3l1.1 -0.1l1.2 0.7l1.1 0.3l1.2 -0.7l1.1 -1.1l1.2 -0.6l1.1 0.3l1.2 0.5l1.1 1l1.2 -0.3l1.1 -0.1l1.2 0.4l1.1 0.1l1.2 -0.1l1.1 0.6l1.1 -0.4l1.2 -0.1l1.1 -0.5l1.2 0.5l1.1 -0.8l1.2 0.6l1.1 -0.4l1.2 0.7l1.1 -0.5l1.2 0.7l1.1 0.6l1.2 -0.8l1.1 0.9l1.2 -1l1.1 -0.3l1.1 -0.5l1.2 0.2l1.1 0.2l1.2 0.1l1.1 0.9l1.2 0.2l1.1 -0.5l1.2 -0.2l1.1 -0.7l1.2 0.5l1.1 -0.8l1.2 -0.6l1.1 -0.3l1.2 1.6l1.1 0.3l1.1 -0.2l1.2 -0.8l1.1 0.3l1.2 -0.7l1.1 0.8l1.2 0.1l1.1 0l1.2 -0.5l1.1 0.7l1.2 -0.1l1.1 0.3l1.2 -0.5l1.1 -0.4l1.2 1.5l1.1 -0.5l1.1 -0.3l1.2 0.1l1.1 0.1l1.2 0.3l1.1 -0.8l1.2 0.3l1.1 0.2l1.2 -0l1.1 -1l0.3 0.6l0.6 0.4l0.3 0.2l0.2 -1l0.5 0.6l0.4 -0.4l0.1 -0.4l0.5 -0.1l0.5 -0.5l0.1 0.2l0.4 -0.2l0.5 -0.5l0.2 0.5l0.3 -0.7l0.5 -0.5l0.3 -1.3l0.3 -0.8l0.5 -1.2l0.4 -1.6l0.1 -0.5l0.4 -1.4l0.1 1.5l0.5 1.3l0 0.2l0.5 1.5l0.5 2l0.2 0.7l0.3 -0.1l0.5 1l0.3 0.2l0.2 -0.2l0.5 0.7l0.2 0l0.3 -0.1l0.1 -0.2l0.1 -0.2l0.4 -0.1l0.1 -0.2l0.4 0l0 0.5l0.1 -0.6l0.4 0.6l0.1 -0.2l0.4 -0.4l0.1 0.7l0.1 -0.3l0.3 -0.7l0.1 -1.1l0.5 -0.1l0.2 0.5l0.4 -2.2l0.5 -2.6l0.3 -1.9l0.2 -1.5l0.5 -6.6l0.4 -5l0.1 -1.1l0.5 -4.8l0.4 -1.8l0.1 0.3l0.1 -0.8l0.4 2.4l0.5 6.5l0.2 1.4l0.3 4.6l0.5 4.9l0.4 3.3l0.2 1.4l0.5 2.5l0.4 0.6l0.1 0.4l0.1 -0.1l0.4 0.5l0.1 0.6l0.4 0.4l0 -0.7l0.1 -0.7l0.4 -0.2l0.1 0.7l0.4 0.6l0.1 -1.4l0.1 -0.2l0.3 1.2l0.2 0.5l0.3 -1l0.2 0.1l0.1 -0.1l0.4 0.4l0.5 -0.8l0.3 -0.1l0.2 -1l0.5 -0.5l0.4 -0.8l0.1 0l0.5 -2.4l0.5 -1l0.1 0.1l0.4 -1l0 0.7l0.6 1.4l0.1 0.9l0.4 0.4l0.5 2.2l0.3 0.6l0.2 0.7l0.5 1.2l0.4 0.9l0.1 -0.5l0.5 0l0.5 0.9l0.1 0.3l0.4 -0.4l0.5 1l0.2 0.3l0.3 -0.8l0.6 -0.2l0.3 -0.1l0.2 0.1l0.9 -0.7l1.2 0.3l1.1 0.1l1.1 -0.2l1.2 0.4l1.1 0.7l1.2 -0.2l1.1 0.1l1.2 -0.2l1.1 -0.5l1.2 -0.9l1.1 0.4l1.2 -0.2l1.1 0.6l1.2 0.6l1.1 0l1.2 -1l1.1 0.1l1.1 -0.4l1.2 0l1.1 -0.8l1.2 0.4l1.1 0.2l1.2 0.4l1.1 0.1l1.2 0.6l1.1 -0.1l1.2 -1l1.1 1.3l1.2 -0.2l1.1 -0.6l1.2 -0.3l1.1 0l1.1 0.9l1.2 -0.5l1.1 -0.7l1.2 1.3l1.1 0.1l1.2 -0.6l1.1 0.2l1.2 -0l1.1 0.4l1.2 -0.6l1.1 -0.9l1.2 0.5l1.1 -0.2l1.2 0.5l1.1 0.2l1.1 0.8l1.2 -0.4l1.1 -0.9l1.2 0.8l1.1 0.8l1.2 -0.7l1.1 -0.1l1.2 -0l1.1 0.1l1.2 0.3l1.1 0.2l1.2 -0.3l1.1 -1l1.2 1.6l1.1 -0.7l1.1 -0.9l1.2 -0.5l1.1 0.9l1.2 -0.3l1.1 0.5l1.2 -0.6l1.1 0.2l1.2 -0.8l1.1 0.9l1.2 -0.3l1.1 0.3l1.2 0.1l1.1 -0.2l1.1 -0.6l1.2 0.5l1.1 -0.2l1.2 0.8l1.1 -1.5l1.2 0.2l1.1 0.4l1.2 0.1l1.1 -0.1l1.2 0.4l1.1 -1l1.2 -0.5l1.1 1.2l1.2 -0.8l1.1 0.8l1.1 -0.6l0.8 0.6l0.4 -0.2l0.1 -0l0.5 -1.4l0.5 0.4l0 -0.1l0.5 -0.7l0.5 -1.6l0.2 0.3l0.3 -0l0.5 -1.9l0.3 -1.2l0.2 -0.8l0.5 -5.1l0.5 -5.9l0.1 -1.8l0.5 -10.2l0.5 -11.3l0 -1.4l0.5 -8.3l0.4 -3.5l0.1 -0.3l0.2 0.1l0.3 4.1l0.5 11.3l0.3 7.5l0.2 4.2l0.5 9.3l0.5 5.8l0 0.3l0.6 3l0.5 3l0 1.5l0.5 2.5l0.5 2.1l0.2 -0.3l0.3 -0.1l0.5 -0.8l0.3 0.6l0.2 -0.2l0.5 0.2l0.5 0l1.1 0.3l1.1 -0.4l1.2 1.6l1.1 -0.2l1.2 -0l1.1 -0l1.2 0.4l1.1 0.2l1.2 0.5l1.1 -0.5l1.2 0.5l1.1 -1.4l1.2 -0.2l1.1 0.2l1.2 0.2l1.1 -0.3l1.1 -0.3l1.2 0.9l1.1 0.1l1.2 0.9l1.1 0.9l1.2 -1.6l1.1 -0.5l1.2 -0.4l1.1 -0.3l1.2 0.4l1.1 0.1l1.2 -0.3l1.1 0.9l1.2 -0.7l1.1 1.1l1.1 -0.5l1.2 0.7l1.1 -0.9l1.2 -0.2l1.1 0.9l1.2 -1.2l1.1 0.6l1.2 -0.1l1.1 -0.3l1.2 0.1l1.1 0.2l1.2 -0.7l1.1 -0.4l1.2 0.5l1.1 -0.1l1.1 0.5l1.2 -0.8l1.1 0.5l1.2 0.4l1.1 -0l1.2 -0.5l0.3 0.8l0.5 -1.4l0.3 0.2l0.2 -0.1l0.5 0.2l0.5 -0.1l0 0.1l0.6 -0.8l0.5 -0l0 -0.5l0.5 0.3l0.5 -1l0.2 -0.4l0.3 -0.6l0.5 -1.7l0.3 -1.4l0.2 -1.2l0.5 -2.9l0.5 -4.1l0 -0.4l0.5 -3.8l0.6 -3.2l0 -0.1l0.4 -0.4l0.1 0.1l0.5 1.8l0.2 0.6l0.3 2.5l0.5 3.8l0.3 2.6l0.2 1.6l0.5 3.6l0.4 1.5l0.1 0.8l0.5 1.5l0.5 0.9l0.1 -0.6l0.4 0.3l0.6 0.1l0.1 0.4l0.4 0.5l0.5 0.6l0.3 -0.2l0.2 0.3l0.1 -0.4l0.4 -0.3l0.1 -0.4l0.3 0.7l0.1 -0.2l0.1 -0.2l0.5 -0.9l0.5 -0.3l0.1 0.1l0.5 -0.5l0.5 -0.4l0 0.4l0.5 -0.1l0.5 -0.2l0.2 -0.6l0.3 0.8l0.5 -3.4l0.3 -0.7l0.2 -1.4l0.5 -5l0.5 -3.4l0 -1.1l0.5 -5.8l0.6 -4.1l0 -0.5l0.4 -0.4l0.1 -0.5l0.5 2.9l0.2 1.2l0.3 3l0.5 4.9l0.3 3.1l0.2 2l0.5 3.6l0.4 1.1l0.1 0.8l0.5 2.2l0.5 1.6l0.1 0.3l0.5 0.5l0.5 -0l0.1 -0.7l0.4 0.8l0.5 0.4l0.3 0.1l0.2 0.9l0.5 -0.4l0.4 0.2l0.1 0.1l1.1 0.4l1.1 -0.2l1.2 -0.3l1.1 0.2l1.2 0.1l1.1 -0.4l1.2 -0.2l1.1 -0.6l1.2 1l1.1 0.5l1.1 -0.1l1.2 -0.8l1.1 0.7l1.2 -0.3l1.1 -0l1.2 -0.3l1.1 0.5l1.2 -0l1.1 0.4l1.2 0.2l1.1 -0.4l1.2 0.8l1.1 -0.5l1.2 -0.3l1.1 0.6l1.1 0l1.2 0.1l1.1 -0.2l1.2 0.3l1.1 -0.5l1.2 -0.4l1.1 -0.1l1.2 1l1.1 -0.5l1.2 -0.3l1.1 -0.4l1.2 -0l1.1 0.1l1.2 -0.5l1.1 -0.4l1.1 1.1l1.2 0.4l1.1 -0.6l1.2 0.2l1.1 0.8l1.2 -0.2l1.1 -0.3l1.2 0.1l1.1 -0.3l1.2 1.1l1.1 -0.9l1.2 -0.6l1.1 1.2l1.2 -0.7l1.1 1.1l1.1 -1.3l1.2 0.8l1.1 -0.5l1.2 -0.2l1.1 0.1l1.2 0.6l1.1 -0.5l1.2 -0.2l1.1 0.5l1.2 -0.1l1.1 -1l1.2 0.2l1.1 0.4l1.2 -0.3l0.9 0.2l0.2 -0.8l0.3 -0.4l0.6 0.2l0.2 0.5l0.3 0.4l0.5 -0.3l0.4 0.2l0.1 0.5l0.5 -0.7l0.5 -0.7l0 0.5l0.5 -0.1l0.5 0.4l0.2 -1.6l0.3 -0.4l0.5 -0.2l0.3 -0.8l0.2 -1.9l0.6 -1.7l0.4 -1.9l0.1 0.1l0.5 -2.8l0.5 -2.7l0 0.6l0.5 -2.5l0.4 -0.4l0.1 0.3l0.2 0.4l0.3 0.4l0.5 2.4l0.3 1.2l0.2 1.4l0.5 3.3l0.5 1.9l0.1 0.3l0.5 1.7l0.5 1.5l0 -0.2l0.5 -0.7l0.5 0.9l0.2 1.5l0.3 0.1l0.5 0.2l0.3 0.1l0.2 0.7l0.5 -0.9l0.5 0.2l0 -0.4l0.5 0.3l0.6 0.4l-0 -0.6l0.5 0.6l0.6 0.5l1.2 -0.1l1.1 0.1l1.2 -0.3l1.1 -0.5l1.2 -0.1l1.1 -0.1l1.2 -0.7l1.1 0l1.2 0.1l1.1 -0.2l1.2 0.8l1.1 1.3l1.1 -2.3l1.2 0.7l1.1 1.2l1.2 -0.2l1.1 -0.7l1.2 -0.7l1.1 0.7l1.2 0.8l1.1 -0.3l1.2 0.6l1.1 -0.2l1.2 -0.1l1.1 0.1l1.2 -0.6l1.1 -0.1l1.1 0.1l1.2 -0.4l1.1 0.3l1.2 -0.1l1.1 0.9l1.2 -0.5l1.1 0.4l1.2 -0.1l1.1 0.6l1.2 -0.8l1.1 0.8l1.2 -0.1l1.1 -0.9l1.2 0.3l1.1 -0.1l1.1 -0.4l1.2 -0.2l1.1 -0.2l1.2 1l1.1 -1.1l1.2 0.5l1.1 -0.1l1.2 0.6l1.1 0l1.2 0.1l1.1 0l1.2 -1.1l1.1 -0.1l1.2 -1.7l1.1 -0.6l1.1 -0.3l1.2 -2.5l1.1 -0.3l1.2 1.4l1.1 2.8l1.2 0.8l1.1 0.3l1.2 0.1l1.1 0.3l1.2 0.1l1.1 0.3l0.1 0.2l0.5 -0.7l0.5 0.7l0.1 -0.6l0.4 0.3l0.5 -0.7l0.2 0.4l0.3 0.8l0.6 -1.6l0.3 0.3l0.2 0.6l0.5 -0.8l0.4 0.3l0.1 -0.3l0.5 0l0.5 -0.2l0 -0.5l0.5 -0.7l0.5 -1.8l0.2 0.3l0.3 -0.8l0.5 -2.3l0.3 -0.7l0.3 -0l0.5 -1.1l0.4 0.6l0.1 0l0.5 0.5l0.5 0.8l0 -0.3l0.5 1.7l0.5 1.2l0.2 0.9l0.3 0.2l0.5 1.2l0.3 0.4l0.2 0.6l0.6 -0.2l0.4 0.1l0.1 -0.1l0.5 0.4l0.5 -0.7l0 0.6l0.5 0.4l0.5 0.4l0.2 -0.3l0.3 0.2l0.5 0.1l0.3 0.4l0.2 0.6l0.5 -0.6l0.5 -0.7l1.1 0.4l1.2 -0.6l1.1 0.5l1.1 -0.1l1.2 -0.2l1.1 -0.5l1.2 1.8l1.1 -0.2l1.2 -0.8l1.1 -0.1l1.2 -0.2l1.1 0.6l1.2 0.8l1.1 -0.6l1.2 0.5l1.1 0.1l1.2 -0.8l1.1 -0.6l1.1 0.2l1.2 -0.1l1.1 1l1.2 -0.5l1.1 0.8l1.2 -0.2l1.1 -1l1.2 -0l1.1 -0.1l1.2 0.7l1.1 -0.3l1.2 0.5l1.1 -0.4l1.1 0.3l1.2 -0.6l1.1 -0.3l1.2 0.4l1.1 0.1l1.2 -0.7l0.5 0.2l0.5 0.2l0.1 0.1l0.4 -0.1l0.5 -0.2l0.3 0.4l0.2 -0.2l0.5 -0.4l0.4 0.4l0.1 -0.9l0.5 -0.5l0.5 0.3l0.1 -0.3l0.4 -0l0.5 -0.3l0.2 0.2l0.4 0.4l0.5 -0.7l0.3 -0.2l0.2 -0.4l0.5 -2.3l0.4 -2l0.1 -0.5l0.5 -0.9l0.5 -1.2l0.1 0.6l0.3 -0.8l0.1 -0.8l0.5 1.2l0.2 1.5l0.3 1.2l0.6 0.8l0.2 -0.3l0.3 0.8l0.5 1.3l0.4 1l0.1 0.7l0.5 0.3l0.5 1.1l0 0.7l0.5 -0.7l0.5 1.2l0.2 -0.6l0.3 0.2l0.5 0.3l0.3 0.6l0.3 -0.3l0.5 -0l0.4 -0.9l0.1 0.6l0.5 1.4l0.5 -0.8l0 -0.3l1.2 -1.5l1.1 -0.8l1.2 -0.1l1.1 0.2l1.2 2l1.1 0.1l1.2 -0.2l1.1 0.7l1.1 0.6l1.2 1.4l1.1 -2.5l1.2 -0.2l1.1 0.5l1.2 -0l1.1 -0.6l1.2 -0.2l1.1 0.1l1.2 0.3l1.1 0.4l1.2 -0.2l1.1 -0.2l1.2 -0.3l1.1 0.1l1.1 0l1.2 1.1l1.1 -0.1l1.2 -0.4l1.1 -0.2l1.2 0.2l1.1 -0.2l1.2 0.3l1.1 0.4l1.2 -0.1l1.1 -0.9l1.2 0.4l1.1 0.7l1.2 -1.5l1.1 0.3l1.1 -0.1l1.2 0.3l1.1 -0.2l1.2 -0.6l1.1 -0.2l1.2 -0.3l1.1 1.1l1.2 -0.9l1.1 -0.3" fill="none" stroke="#00ff00" stroke-width="10.5" stroke-linejoin="round" stroke-linecap="round"/>
<path d="M1592.9 1577.3V1745.5M1740.7 1711.8V1745.5M1752.2 1694V1745.5M1762.4 1710.8V1745.5M1882.1 1687.5V1745.5M1957.3 1701.3V1745.5M1972.6 1701.3V1745.5M2061.8 1716.8V1745.5M2069.4 1706.2V1745.5M2147.1 1714.3V1745.5M2166.2 1714.3V1745.5M2214.6 1719.8V1745.5M2226.1 1710.8V1745.5M2238.8 1717.8V1745.5M2298.7 1721.8V1745.5" fill="none" stroke="#000" stroke-width="7.5" stroke-linecap="round"/>
<path d="M1577.6 1787.2V1863M1585.9 1794V1863M1622.2 1759.2V1863M1629.4 1811V1863M1636.2 1811V1863M1715.2 1805.2V1863M1752.2 1811V1863M1758.5 1811V1863M1782.7 1811V1863M1826.1 1786.2V1863M1840.1 1784V1863M1852.8 1811V1863M1901.2 1810V1863M1912.7 1796V1863M1919.1 1809.7V1863M1930 1811V1863M1937.8 1804V1863M1958.6 1811V1863M1966.2 1811V1863M1985.3 1809.6V1863M1996.8 1809.6V1863M2012.1 1811V1863M2022.3 1811V1863M2028 1811V1863M2086 1805V1863M2097.4 1811V1863M2102.5 1811V1863M2114 1811V1863M2120.4 1811V1863M2138.2 1808V1863M2147.1 1808V1863M2152.2 1808V1863M2170 1806.4V1863M2204.4 1811V1863M2214.6 1809V1863M2227.4 1811V1863M2243.9 1811V1863M2255.4 1811V1863M2263 1811V1863M2289.8 1809V1863" fill="none" stroke="#930080" stroke-width="8" stroke-linecap="round"/>
<text font-size="60.5" font-weight="bold"><tspan x="1864.9" y="1136.8">20%La-B-TiO</tspan><tspan x="2236.5" y="1151" font-size="40.5">2</tspan></text>
<text font-size="60.5" font-weight="bold"><tspan x="1864.2" y="1224.8">15%La-B-TiO</tspan><tspan x="2236.5" y="1239" font-size="40.5">2</tspan></text>
<text font-size="60.5" font-weight="bold"><tspan x="1864.2" y="1311.2">10%La-B-TiO</tspan><tspan x="2236.5" y="1325.8" font-size="40.5">2</tspan></text>
<text font-size="60.5" font-weight="bold"><tspan x="2036" y="1538">B-TiO</tspan><tspan x="2197.5" y="1552.3" font-size="40.5">2</tspan></text>
<text font-size="60.5" font-weight="bold"><tspan x="1872.9" y="1685.4">Anatase-TiO</tspan><tspan x="2201.1" y="1700.8" font-size="40.5">2</tspan></text>
<text font-size="60.5" font-weight="bold"><tspan x="2089.8" y="1797.7">LaF</tspan><tspan x="2195.4" y="1813.2" font-size="40.5">3</tspan></text>
<rect x="187" y="58" width="981" height="790.5" fill="none" stroke="#000" stroke-width="12"/>
<path d="M187 714H1168" stroke="#000" stroke-width="8"/>
<path d="M251 848.5V864M380.1 848.5V864M509.3 848.5V864M638.4 848.5V864M767.6 848.5V864M896.7 848.5V864M1025.8 848.5V864M1155 848.5V864" stroke="#000" stroke-width="12"/>
<text x="251" y="922.5" font-size="78" font-weight="bold" text-anchor="middle">10</text>
<text x="380.1" y="922.5" font-size="78" font-weight="bold" text-anchor="middle">20</text>
<text x="509.3" y="922.5" font-size="78" font-weight="bold" text-anchor="middle">30</text>
<text x="638.4" y="922.5" font-size="78" font-weight="bold" text-anchor="middle">40</text>
<text x="767.6" y="922.5" font-size="78" font-weight="bold" text-anchor="middle">50</text>
<text x="896.7" y="922.5" font-size="78" font-weight="bold" text-anchor="middle">60</text>
<text x="1025.8" y="922.5" font-size="78" font-weight="bold" text-anchor="middle">70</text>
<text x="1155" y="922.5" font-size="78" font-weight="bold" text-anchor="middle">80</text>
<rect x="1321" y="58" width="981" height="790.5" fill="none" stroke="#000" stroke-width="12"/>
<path d="M1321 714H2302" stroke="#000" stroke-width="8"/>
<path d="M1385 848.5V865M1514.1 848.5V865M1643.3 848.5V865M1772.4 848.5V865M1901.6 848.5V865M2030.7 848.5V865M2159.8 848.5V865M2289 848.5V865" stroke="#000" stroke-width="12"/>
<text x="1385" y="922.5" font-size="78" font-weight="bold" text-anchor="middle">10</text>
<text x="1514.1" y="922.5" font-size="78" font-weight="bold" text-anchor="middle">20</text>
<text x="1643.3" y="922.5" font-size="78" font-weight="bold" text-anchor="middle">30</text>
<text x="1772.4" y="922.5" font-size="78" font-weight="bold" text-anchor="middle">40</text>
<text x="1901.6" y="922.5" font-size="78" font-weight="bold" text-anchor="middle">50</text>
<text x="2030.7" y="922.5" font-size="78" font-weight="bold" text-anchor="middle">60</text>
<text x="2159.8" y="922.5" font-size="78" font-weight="bold" text-anchor="middle">70</text>
<text x="2289" y="922.5" font-size="78" font-weight="bold" text-anchor="middle">80</text>
<rect x="181" y="1071" width="981" height="791" fill="none" stroke="#000" stroke-width="12"/>
<path d="M181 1742.5H1162" stroke="#000" stroke-width="9"/>
<path d="M257 1862V1878M384.4 1862V1878M511.8 1862V1878M639.2 1862V1878M766.6 1862V1878M894 1862V1878M1021.4 1862V1878M1148.8 1862V1878" stroke="#000" stroke-width="12"/>
<text x="257" y="1936" font-size="78" font-weight="bold" text-anchor="middle">10</text>
<text x="384.4" y="1936" font-size="78" font-weight="bold" text-anchor="middle">20</text>
<text x="511.8" y="1936" font-size="78" font-weight="bold" text-anchor="middle">30</text>
<text x="639.2" y="1936" font-size="78" font-weight="bold" text-anchor="middle">40</text>
<text x="766.6" y="1936" font-size="78" font-weight="bold" text-anchor="middle">50</text>
<text x="894" y="1936" font-size="78" font-weight="bold" text-anchor="middle">60</text>
<text x="1021.4" y="1936" font-size="78" font-weight="bold" text-anchor="middle">70</text>
<text x="1148.8" y="1936" font-size="78" font-weight="bold" text-anchor="middle">80</text>
<rect x="1321" y="1074" width="981" height="791" fill="none" stroke="#000" stroke-width="12"/>
<path d="M1321 1745.5H2302" stroke="#000" stroke-width="9"/>
<path d="M1398 1865V1881M1525.4 1865V1881M1652.8 1865V1881M1780.2 1865V1881M1907.6 1865V1881M2035 1865V1881M2162.4 1865V1881M2289.8 1865V1881" stroke="#000" stroke-width="12"/>
<text x="1398" y="1939" font-size="78" font-weight="bold" text-anchor="middle">10</text>
<text x="1525.4" y="1939" font-size="78" font-weight="bold" text-anchor="middle">20</text>
<text x="1652.8" y="1939" font-size="78" font-weight="bold" text-anchor="middle">30</text>
<text x="1780.2" y="1939" font-size="78" font-weight="bold" text-anchor="middle">40</text>
<text x="1907.6" y="1939" font-size="78" font-weight="bold" text-anchor="middle">50</text>
<text x="2035" y="1939" font-size="78" font-weight="bold" text-anchor="middle">60</text>
<text x="2162.4" y="1939" font-size="78" font-weight="bold" text-anchor="middle">70</text>
<text x="2289.8" y="1939" font-size="78" font-weight="bold" text-anchor="middle">80</text>
<text x="39.2" y="96" font-size="99.5" font-weight="bold" textLength="120.4" lengthAdjust="spacing">(a)</text>
<text x="1182.3" y="96" font-size="99.5" font-weight="bold" textLength="126" lengthAdjust="spacing">(b)</text>
<text x="40.1" y="1094.4" font-size="99.5" font-weight="bold" textLength="114.8" lengthAdjust="spacing">(c)</text>
<text x="1182.3" y="1094.4" font-size="99.5" font-weight="bold" textLength="126" lengthAdjust="spacing">(d)</text>
<text font-weight="bold"><tspan x="456.7" y="1004" font-size="97">2</tspan></text>
<text transform="translate(504.5 1002.8) scale(1.164 1)" font-size="87.4" font-weight="bold">θ</text>
<text x="575.8" y="1002" font-size="88" font-weight="bold" textLength="320" lengthAdjust="spacing">(degree)</text>
<text font-weight="bold"><tspan x="1591.4" y="1003.4" font-size="97">2</tspan></text>
<text transform="translate(1639.2 1002.2) scale(1.164 1)" font-size="87.4" font-weight="bold">θ</text>
<text x="1710.5" y="1001.4" font-size="88" font-weight="bold" textLength="320" lengthAdjust="spacing">(degree)</text>
<text font-weight="bold"><tspan x="450.4" y="2017" font-size="97">2</tspan></text>
<text transform="translate(498.2 2015.8) scale(1.164 1)" font-size="87.4" font-weight="bold">θ</text>
<text x="569.5" y="2015" font-size="88" font-weight="bold" textLength="320" lengthAdjust="spacing">(degree)</text>
<text font-weight="bold"><tspan x="1591.4" y="2019.9" font-size="97">2</tspan></text>
<text transform="translate(1639.2 2018.7) scale(1.164 1)" font-size="87.4" font-weight="bold">θ</text>
<text x="1710.5" y="2017.9" font-size="88" font-weight="bold" textLength="320" lengthAdjust="spacing">(degree)</text>
<text transform="translate(140.5 739.1) rotate(-90)" x="0" y="0" font-size="91" font-weight="bold" textLength="573.8" lengthAdjust="spacing">Intensity (a.u.)</text>
<text transform="translate(1275 740.1) rotate(-90)" x="0" y="0" font-size="91" font-weight="bold" textLength="573.8" lengthAdjust="spacing">Intensity (a.u.)</text>
<text transform="translate(135 1753.1) rotate(-90)" x="0" y="0" font-size="91" font-weight="bold" textLength="573.8" lengthAdjust="spacing">Intensity (a.u.)</text>
<text transform="translate(1276 1755.6) rotate(-90)" x="0" y="0" font-size="91" font-weight="bold" textLength="573.8" lengthAdjust="spacing">Intensity (a.u.)</text>
</svg></body></html>
